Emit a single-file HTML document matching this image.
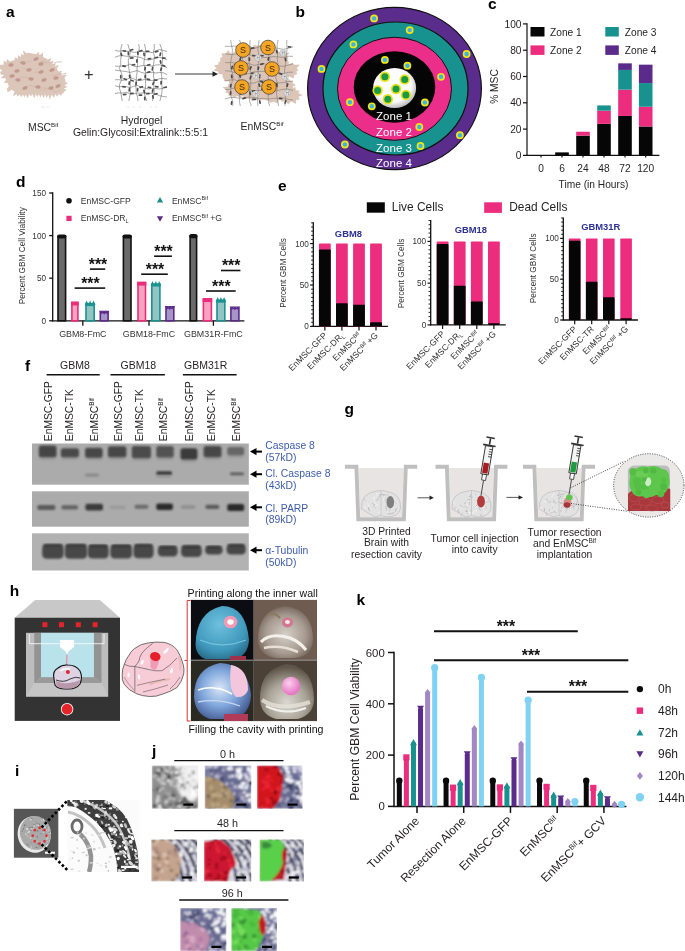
<!DOCTYPE html>
<html><head><meta charset="utf-8"><style>
html,body{margin:0;padding:0;background:#fff;width:685px;height:951px;overflow:hidden}
svg{display:block}
text{font-family:'Liberation Sans', Arial, sans-serif}
</style></head><body>
<svg width="685" height="951" viewBox="0 0 685 951">
<rect width="685" height="951" fill="#fff"/>
<text x="6" y="16.5" font-size="15.5" text-anchor="start" font-weight="bold" fill="#000">a</text>
<polygon points="0.08,64.79 3.46,64.64 3.92,60.59 6.32,62.57 7.02,58.99 9.6,61.57 11.25,61.07 12.89,60.57 14.53,60.07 14.91,57.13 17.8,58.64 17.84,55.26 20.8,56.89 21.06,53.88 23.8,55.14 23,50.32 26.8,53.39 27.88,52.59 29.55,52.92 31.22,53.26 32.88,53.59 34.55,53.92 36.22,54.26 39,51.83 39.49,55.35 42.93,52.44 42.97,56.95 44.71,57.75 46.28,58.43 47.5,59.6 51.31,58.06 49.93,61.93 53.57,60.58 52.37,64.27 56.14,63.18 54.59,66.62 59.13,64.87 56.67,69.07 57.71,70.3 58.76,71.53 62.06,70.84 60.83,73.97 62.01,75.45 66.67,74.15 64.36,78.4 65.41,79.38 65.04,81.26 67.86,83.77 64.29,85.01 67.2,87.12 63.83,88.6 66.73,90.36 63.68,91.85 64.12,92.91 62.34,93.16 60.89,95.7 58.79,93.66 57.42,96.8 55.24,94.16 53.94,97.78 51.69,94.66 49.74,99.64 48.44,94.8 46.63,97.95 45.24,94.6 43.4,98.31 42.04,94.4 40.24,97.41 38.84,94.2 37.05,97.12 35.64,94 34.24,98.41 32.36,94 30.91,96.45 29.16,94.2 27.82,98.45 25.96,94.4 24.54,97.3 22.76,94.6 21.33,97.35 19.56,94.8 16.91,96.81 17.1,93.97 12.94,96.35 14.53,91.82 13.24,90.75 11.96,89.68 7.69,92.19 6.86,88.94 8.85,86.16 8.15,84.56 7.45,82.96 3.77,82.66 6.05,79.76 5.35,78.16 0.72,78.28 3.95,74.96 0.79,74.44 0.06,72.16 2.43,69.95 -2.38,68.34" fill="#dcc5b9"/>
<path d="M20.37 77.42 q4 -0.78 8 0.42" fill="none" stroke="#d2b8ab" stroke-width="0.8"/>
<path d="M40.54 62.1 q4 -2.92 8 1.35" fill="none" stroke="#d2b8ab" stroke-width="0.8"/>
<path d="M21.49 67.5 q4 2.97 8 -0.12" fill="none" stroke="#d2b8ab" stroke-width="0.8"/>
<path d="M51.5 75.24 q4 0.83 8 -1.4" fill="none" stroke="#d2b8ab" stroke-width="0.8"/>
<path d="M41.01 87.78 q4 0.14 8 0.97" fill="none" stroke="#d2b8ab" stroke-width="0.8"/>
<path d="M42.91 62.05 q4 1.55 8 0.36" fill="none" stroke="#d2b8ab" stroke-width="0.8"/>
<path d="M23.67 60.99 q4 2.19 8 -0.11" fill="none" stroke="#d2b8ab" stroke-width="0.8"/>
<path d="M45.38 88.12 q4 1.28 8 1.68" fill="none" stroke="#d2b8ab" stroke-width="0.8"/>
<path d="M28.54 85.63 q4 -0.33 8 1.74" fill="none" stroke="#d2b8ab" stroke-width="0.8"/>
<path d="M53.7 63.12 q4 -2.18 8 -1.13" fill="none" stroke="#d2b8ab" stroke-width="0.8"/>
<path d="M58.2 73.96 q4 0.76 8 -0.8" fill="none" stroke="#d2b8ab" stroke-width="0.8"/>
<path d="M34.38 72.35 q4 -0.89 8 0.34" fill="none" stroke="#d2b8ab" stroke-width="0.8"/>
<path d="M38.38 88.93 q4 1.09 8 1.72" fill="none" stroke="#d2b8ab" stroke-width="0.8"/>
<path d="M52.53 91.71 q4 1.03 8 -1.35" fill="none" stroke="#d2b8ab" stroke-width="0.8"/>
<ellipse cx="11" cy="65" rx="2.7" ry="1.7" fill="#c09a8c" transform="rotate(-5 11 65)"/>
<ellipse cx="23" cy="63" rx="2.7" ry="1.7" fill="#c09a8c" transform="rotate(9 23 63)"/>
<ellipse cx="36" cy="59" rx="2.7" ry="1.7" fill="#c09a8c" transform="rotate(-19 36 59)"/>
<ellipse cx="41" cy="64" rx="2.7" ry="1.7" fill="#c09a8c" transform="rotate(-12 41 64)"/>
<ellipse cx="17" cy="71" rx="2.7" ry="1.7" fill="#c09a8c" transform="rotate(-8 17 71)"/>
<ellipse cx="29" cy="70" rx="2.7" ry="1.7" fill="#c09a8c" transform="rotate(-7 29 70)"/>
<ellipse cx="41" cy="72" rx="2.7" ry="1.7" fill="#c09a8c" transform="rotate(-18 41 72)"/>
<ellipse cx="52" cy="70" rx="2.7" ry="1.7" fill="#c09a8c" transform="rotate(-21 52 70)"/>
<ellipse cx="18" cy="80" rx="2.7" ry="1.7" fill="#c09a8c" transform="rotate(5 18 80)"/>
<ellipse cx="31" cy="79" rx="2.7" ry="1.7" fill="#c09a8c" transform="rotate(5 31 79)"/>
<ellipse cx="44" cy="80" rx="2.7" ry="1.7" fill="#c09a8c" transform="rotate(-20 44 80)"/>
<ellipse cx="56" cy="78" rx="2.7" ry="1.7" fill="#c09a8c" transform="rotate(-3 56 78)"/>
<ellipse cx="25" cy="88" rx="2.7" ry="1.7" fill="#c09a8c" transform="rotate(-21 25 88)"/>
<ellipse cx="38" cy="87" rx="2.7" ry="1.7" fill="#c09a8c" transform="rotate(1 38 87)"/>
<ellipse cx="51" cy="88" rx="2.7" ry="1.7" fill="#c09a8c" transform="rotate(-16 51 88)"/>
<ellipse cx="58" cy="86" rx="2.7" ry="1.7" fill="#c09a8c" transform="rotate(-24 58 86)"/>
<ellipse cx="12" cy="76" rx="2.7" ry="1.7" fill="#c09a8c" transform="rotate(-7 12 76)"/>
<text x="88.7" y="80" font-size="16.5" text-anchor="middle" font-weight="normal" fill="#333">+</text>
<path d="M115 50.21 Q118.71 51.88 122.43 50.89 Q126.14 51.56 129.86 51.33 Q133.57 52.92 137.29 52.11 Q141 50.71 144.71 51.63 Q148.43 51.99 152.14 52.54 Q155.86 50.29 159.57 49.57 Q163.29 50.61 167 51.39" fill="none" stroke="#6a6a6a" stroke-width="0.6"/>
<path d="M115 57.32 Q118.71 55.35 122.43 55.55 Q126.14 56.39 129.86 56.53 Q133.57 55.65 137.29 57.01 Q141 56.79 144.71 59.55 Q148.43 60.52 152.14 59.26 Q155.86 57.42 159.57 57.33 Q163.29 57.75 167 59.87" fill="none" stroke="#6a6a6a" stroke-width="0.6"/>
<path d="M115 66.08 Q118.71 66.57 122.43 65.93 Q126.14 66.41 129.86 64.08 Q133.57 66.6 137.29 66.75 Q141 65.51 144.71 65.48 Q148.43 65.44 152.14 66.23 Q155.86 64.5 159.57 64.78 Q163.29 65.16 167 67.68" fill="none" stroke="#6a6a6a" stroke-width="0.6"/>
<path d="M115 70.06 Q118.71 70.55 122.43 71.16 Q126.14 71.28 129.86 72.5 Q133.57 71.49 137.29 70.59 Q141 72.54 144.71 73.27 Q148.43 71.45 152.14 72.29 Q155.86 73.79 159.57 72.44 Q163.29 72.05 167 74.52" fill="none" stroke="#6a6a6a" stroke-width="0.6"/>
<path d="M115 79.81 Q118.71 79.15 122.43 80.4 Q126.14 80.4 129.86 77.68 Q133.57 78.28 137.29 80.7 Q141 80.83 144.71 79.43 Q148.43 81.23 152.14 80.44 Q155.86 80.87 159.57 78.64 Q163.29 78.37 167 79.03" fill="none" stroke="#6a6a6a" stroke-width="0.6"/>
<path d="M115 85.67 Q118.71 87.44 122.43 86.54 Q126.14 85.89 129.86 87.69 Q133.57 86.13 137.29 85.54 Q141 87.15 144.71 88.09 Q148.43 89.56 152.14 88.52 Q155.86 88.27 159.57 88.99 Q163.29 88.91 167 86.28" fill="none" stroke="#6a6a6a" stroke-width="0.6"/>
<path d="M115 93.64 Q118.71 92.34 122.43 93.06 Q126.14 91.84 129.86 93.32 Q133.57 94.66 137.29 93.07 Q141 93.12 144.71 92.96 Q148.43 92.93 152.14 93.47 Q155.86 93.78 159.57 95.66 Q163.29 96.62 167 97.02" fill="none" stroke="#6a6a6a" stroke-width="0.6"/>
<path d="M122.17 44 Q120.4 48.07 120.84 52.14 Q121.47 56.21 120.72 60.29 Q121.41 64.36 119.4 68.43 Q121.34 72.5 122.5 76.57 Q121.77 80.64 119.32 84.71 Q118.97 88.79 120.98 92.86 Q121.4 96.93 122.22 101" fill="none" stroke="#6a6a6a" stroke-width="0.6"/>
<path d="M127.74 44 Q128.95 48.07 130.24 52.14 Q129.94 56.21 128.26 60.29 Q128.48 64.36 128.83 68.43 Q129.19 72.5 130.8 76.57 Q130.24 80.64 130.27 84.71 Q129.43 88.79 130.71 92.86 Q129.4 96.93 128.83 101" fill="none" stroke="#6a6a6a" stroke-width="0.6"/>
<path d="M138.76 44 Q139.81 48.07 138.66 52.14 Q137.64 56.21 137.46 60.29 Q138.09 64.36 137 68.43 Q137.53 72.5 136.42 76.57 Q136.55 80.64 135.52 84.71 Q136.34 88.79 136.18 92.86 Q137.88 96.93 138.02 101" fill="none" stroke="#6a6a6a" stroke-width="0.6"/>
<path d="M144.51 44 Q145.57 48.07 145.74 52.14 Q145.22 56.21 144.21 60.29 Q143.11 64.36 144.95 68.43 Q145.6 72.5 145.97 76.57 Q145.08 80.64 145.69 84.71 Q145.49 88.79 144.26 92.86 Q145.32 96.93 146.6 101" fill="none" stroke="#6a6a6a" stroke-width="0.6"/>
<path d="M154.14 44 Q154.86 48.07 153.53 52.14 Q154.91 56.21 154.07 60.29 Q153.83 64.36 152.45 68.43 Q154.41 72.5 153.52 76.57 Q155.06 80.64 153.86 84.71 Q154.07 88.79 154.18 92.86 Q153.41 96.93 152.46 101" fill="none" stroke="#6a6a6a" stroke-width="0.6"/>
<path d="M159.8 44 Q161.85 48.07 162.21 52.14 Q162.64 56.21 162.57 60.29 Q162.24 64.36 160.92 68.43 Q161.07 72.5 161.69 76.57 Q162.11 80.64 161.79 84.71 Q162.63 88.79 161.83 92.86 Q161.23 96.93 159.82 101" fill="none" stroke="#6a6a6a" stroke-width="0.6"/>
<rect x="122.38" y="50.09" width="4" height="1.7" rx="0.8" fill="#4f4f4f" transform="rotate(8.82 124.38 50.94)"/>
<rect x="119.37" y="53.55" width="4" height="1.7" rx="0.8" fill="#4f4f4f" transform="rotate(71.1 121.37 54.4)"/>
<rect x="129.61" y="49.06" width="4" height="1.7" rx="0.8" fill="#4f4f4f" transform="rotate(-18.33 131.61 49.91)"/>
<rect x="126.36" y="52.68" width="4" height="1.7" rx="0.8" fill="#4f4f4f" transform="rotate(88.86 128.36 53.53)"/>
<rect x="138.72" y="49.97" width="4" height="1.7" rx="0.8" fill="#4f4f4f" transform="rotate(-18.57 140.72 50.82)"/>
<rect x="135.81" y="52.29" width="4" height="1.7" rx="0.8" fill="#4f4f4f" transform="rotate(88.61 137.81 53.14)"/>
<rect x="145.73" y="50.46" width="4" height="1.7" rx="0.8" fill="#4f4f4f" transform="rotate(-3.78 147.73 51.31)"/>
<rect x="142.07" y="53.52" width="4" height="1.7" rx="0.8" fill="#4f4f4f" transform="rotate(81.14 144.07 54.37)"/>
<rect x="154.66" y="50.71" width="4" height="1.7" rx="0.8" fill="#4f4f4f" transform="rotate(-16.21 156.66 51.56)"/>
<rect x="158.28" y="53.48" width="4" height="1.7" rx="0.8" fill="#4f4f4f" transform="rotate(102.52 160.28 54.33)"/>
<rect x="129.72" y="57.21" width="4" height="1.7" rx="0.8" fill="#4f4f4f" transform="rotate(-5.96 131.72 58.06)"/>
<rect x="134.86" y="60.03" width="4" height="1.7" rx="0.8" fill="#4f4f4f" transform="rotate(95.18 136.86 60.88)"/>
<rect x="147.42" y="57.91" width="4" height="1.7" rx="0.8" fill="#4f4f4f" transform="rotate(-8.34 149.42 58.76)"/>
<rect x="154.33" y="56.72" width="4" height="1.7" rx="0.8" fill="#4f4f4f" transform="rotate(-9.61 156.33 57.57)"/>
<rect x="161.74" y="57.32" width="4" height="1.7" rx="0.8" fill="#4f4f4f" transform="rotate(-0.33 163.74 58.17)"/>
<rect x="158.59" y="61.14" width="4" height="1.7" rx="0.8" fill="#4f4f4f" transform="rotate(81.46 160.59 61.99)"/>
<rect x="122.05" y="65.23" width="4" height="1.7" rx="0.8" fill="#4f4f4f" transform="rotate(13.07 124.05 66.08)"/>
<rect x="131.48" y="63.95" width="4" height="1.7" rx="0.8" fill="#4f4f4f" transform="rotate(-10.17 133.48 64.8)"/>
<rect x="146.57" y="64.04" width="4" height="1.7" rx="0.8" fill="#4f4f4f" transform="rotate(-15.27 148.57 64.89)"/>
<rect x="143.06" y="67.79" width="4" height="1.7" rx="0.8" fill="#4f4f4f" transform="rotate(100.42 145.06 68.64)"/>
<rect x="150.5" y="67.78" width="4" height="1.7" rx="0.8" fill="#4f4f4f" transform="rotate(99.8 152.5 68.63)"/>
<rect x="161.53" y="64.92" width="4" height="1.7" rx="0.8" fill="#4f4f4f" transform="rotate(16.66 163.53 65.77)"/>
<rect x="159.15" y="68.28" width="4" height="1.7" rx="0.8" fill="#4f4f4f" transform="rotate(105.52 161.15 69.13)"/>
<rect x="118.78" y="75.85" width="4" height="1.7" rx="0.8" fill="#4f4f4f" transform="rotate(89.28 120.78 76.7)"/>
<rect x="127.67" y="75.54" width="4" height="1.7" rx="0.8" fill="#4f4f4f" transform="rotate(81.86 129.67 76.39)"/>
<rect x="146.5" y="71.31" width="4" height="1.7" rx="0.8" fill="#4f4f4f" transform="rotate(-14.29 148.5 72.16)"/>
<rect x="143.17" y="75.77" width="4" height="1.7" rx="0.8" fill="#4f4f4f" transform="rotate(89.14 145.17 76.62)"/>
<rect x="123.18" y="78.37" width="4" height="1.7" rx="0.8" fill="#4f4f4f" transform="rotate(19.93 125.18 79.22)"/>
<rect x="130.08" y="79.77" width="4" height="1.7" rx="0.8" fill="#4f4f4f" transform="rotate(18.09 132.08 80.62)"/>
<rect x="127.22" y="82.26" width="4" height="1.7" rx="0.8" fill="#4f4f4f" transform="rotate(98.5 129.22 83.11)"/>
<rect x="137.72" y="78.69" width="4" height="1.7" rx="0.8" fill="#4f4f4f" transform="rotate(-13.55 139.72 79.54)"/>
<rect x="134.12" y="82.59" width="4" height="1.7" rx="0.8" fill="#4f4f4f" transform="rotate(94.9 136.12 83.44)"/>
<rect x="146.36" y="78.56" width="4" height="1.7" rx="0.8" fill="#4f4f4f" transform="rotate(9.69 148.36 79.41)"/>
<rect x="153.61" y="79.33" width="4" height="1.7" rx="0.8" fill="#4f4f4f" transform="rotate(-0.42 155.61 80.18)"/>
<rect x="151.26" y="82.45" width="4" height="1.7" rx="0.8" fill="#4f4f4f" transform="rotate(107.54 153.26 83.3)"/>
<rect x="159.1" y="81.94" width="4" height="1.7" rx="0.8" fill="#4f4f4f" transform="rotate(92.2 161.1 82.79)"/>
<rect x="121.97" y="85.96" width="4" height="1.7" rx="0.8" fill="#4f4f4f" transform="rotate(10.02 123.97 86.81)"/>
<rect x="127.34" y="88.9" width="4" height="1.7" rx="0.8" fill="#4f4f4f" transform="rotate(98.53 129.34 89.75)"/>
<rect x="139.25" y="86.18" width="4" height="1.7" rx="0.8" fill="#4f4f4f" transform="rotate(-15.01 141.25 87.03)"/>
<rect x="135.59" y="88.78" width="4" height="1.7" rx="0.8" fill="#4f4f4f" transform="rotate(93.76 137.59 89.63)"/>
<rect x="147.4" y="86.58" width="4" height="1.7" rx="0.8" fill="#4f4f4f" transform="rotate(9 149.4 87.43)"/>
<rect x="142.23" y="90.67" width="4" height="1.7" rx="0.8" fill="#4f4f4f" transform="rotate(72.15 144.23 91.52)"/>
<rect x="154.75" y="85.93" width="4" height="1.7" rx="0.8" fill="#4f4f4f" transform="rotate(6.6 156.75 86.78)"/>
<rect x="150.67" y="89.95" width="4" height="1.7" rx="0.8" fill="#4f4f4f" transform="rotate(102.82 152.67 90.8)"/>
<rect x="163.16" y="86.52" width="4" height="1.7" rx="0.8" fill="#4f4f4f" transform="rotate(-6.05 165.16 87.37)"/>
<rect x="122.69" y="93.65" width="4" height="1.7" rx="0.8" fill="#4f4f4f" transform="rotate(-2.66 124.69 94.5)"/>
<rect x="129.9" y="92.59" width="4" height="1.7" rx="0.8" fill="#4f4f4f" transform="rotate(-4.18 131.9 93.44)"/>
<rect x="138.44" y="94.29" width="4" height="1.7" rx="0.8" fill="#4f4f4f" transform="rotate(-0.76 140.44 95.14)"/>
<rect x="145.81" y="92.83" width="4" height="1.7" rx="0.8" fill="#4f4f4f" transform="rotate(-2.85 147.81 93.68)"/>
<rect x="142.77" y="97.77" width="4" height="1.7" rx="0.8" fill="#4f4f4f" transform="rotate(88.62 144.77 98.62)"/>
<rect x="153.82" y="93.08" width="4" height="1.7" rx="0.8" fill="#4f4f4f" transform="rotate(-13.92 155.82 93.93)"/>
<rect x="150.96" y="96.07" width="4" height="1.7" rx="0.8" fill="#4f4f4f" transform="rotate(80.16 152.96 96.92)"/>
<circle cx="42" cy="107" r="0.4" fill="#999"/>
<circle cx="44" cy="107" r="0.4" fill="#999"/>
<circle cx="48" cy="107" r="0.4" fill="#999"/>
<circle cx="128" cy="107" r="0.4" fill="#999"/>
<circle cx="134" cy="107" r="0.4" fill="#999"/>
<circle cx="140" cy="107" r="0.4" fill="#999"/>
<circle cx="151" cy="107" r="0.4" fill="#999"/>
<circle cx="156" cy="107" r="0.4" fill="#999"/>
<line x1="175" y1="74" x2="214" y2="74" stroke="#222" stroke-width="0.9"/>
<polygon points="218,74 212.5,71.3 212.5,76.7" fill="#222"/>
<ellipse cx="258" cy="74" rx="30" ry="26" fill="#dcc4b7"/>
<polygon points="242.04,60 238.87,61.82 241.91,65.36 236.14,64.96 235.1,67.82 231.31,66.38 228.46,67.5 226.13,65.93 221.6,66.79 222.49,63.38 220,62.06 220.41,60 220.01,57.95 222.51,56.63 221.41,53.06 225.87,53.67 227.95,50.01 231.24,53.97 235.38,51.76 236,55.15 239.01,55.95 239.58,58.03" fill="#dcc4b7"/>
<polygon points="257.38,55 254.52,56.96 254.13,59.11 251.33,60.12 249.21,61.45 246.33,61.49 243.29,63.3 241.32,60.64 236.92,61.53 237.31,58.46 233.25,57.42 235.89,55 233.43,52.62 236.9,51.36 235.51,47.33 241.4,49.49 243.04,45.45 246.29,48.73 249.74,47.73 251.35,49.87 254.51,50.72 254.5,53.05" fill="#dcc4b7"/>
<polygon points="275.45,52 271.08,53.87 273.62,57.23 268.21,57.01 267.95,61.11 263.26,58.14 260.58,58.93 257.96,58.19 252.77,59.46 254.12,55.54 248.17,54.84 252.54,52 252.09,49.96 254.3,48.54 253.16,44.86 258,45.86 260.52,44.8 263.36,45.38 267.96,42.87 267.88,47.25 270.86,48.01 271.28,50.09" fill="#dcc4b7"/>
<polygon points="288.45,58 287.52,59.96 289.43,63.14 284.39,63.16 283.2,65.97 279.34,64.51 276.45,65.52 274.26,63.74 271.07,63.6 270.32,61.46 267.9,60.08 268.57,58 267.49,55.84 269.89,54.35 268.59,50.4 274.3,52.32 276.38,50.12 279.25,51.9 282.55,51.03 284.2,52.99 289.65,52.76 286.76,56.2" fill="#dcc4b7"/>
<polygon points="298.45,70 296.31,71.71 297.22,74.15 294.32,75.11 293.6,78.58 289.36,76.62 286.39,77.85 283.89,76.3 281.19,75.5 280.25,73.49 277.36,72.19 278.81,70 276.8,67.7 280.1,66.45 278.62,62.43 284.12,64.05 286.21,61.28 289.26,63.88 292.5,63.11 294.41,64.82 299.85,64.67 296.54,68.25" fill="#dcc4b7"/>
<polygon points="243.12,75 241.35,76.92 243.21,80.04 237.72,79.62 236.52,81.93 233.24,81.04 230.01,84.68 228.18,80.85 224.21,81.29 223.71,78.73 222.24,77.01 223.3,75 221.38,72.82 224.39,71.58 224.69,69.1 228.31,69.34 230.19,66.21 233.37,68.35 236.48,68.13 237.91,70.22 240.67,71.1 241.3,73.09" fill="#dcc4b7"/>
<polygon points="262.52,72 258.49,73.75 260.74,76.83 256.3,77.09 255.87,81 251.38,78.74 248.57,78.98 246,78.14 242.14,78.35 241.66,75.75 239.64,74.13 240.5,72 237.93,69.52 241.74,68.28 242.38,65.85 246.35,66.4 247.95,62.01 251.3,65.69 255.45,63.65 256.03,67.13 258.94,67.98 259.55,70.04" fill="#dcc4b7"/>
<polygon points="278.08,75 276.42,76.73 279.07,79.98 273.7,79.6 272.19,81.43 269.3,81.33 266.27,83.43 264.26,80.74 260.51,81.05 260.72,78.27 258.08,77.04 258.74,75 255.22,72.37 260.61,71.68 259.28,67.96 264.24,69.24 266.07,65.6 269.25,68.93 272.81,67.62 273.94,70.2 279.82,69.68 276.47,73.26" fill="#dcc4b7"/>
<polygon points="295.88,85 292.57,86.76 295.68,90.25 290.04,89.88 289.32,93.16 285.35,91.57 282.2,93.75 280.19,90.84 277.22,90.48 276.31,88.46 270.12,87.85 275.19,85 271.26,82.38 276.03,81.41 275.29,77.96 280.17,79.13 282.29,76.7 285.26,78.86 288.31,78.39 289.89,80.25 292.53,81.16 292.82,83.19" fill="#dcc4b7"/>
<polygon points="248.16,90 245.3,91.91 247.06,94.97 242.11,94.94 241.3,98.13 237.25,96.07 234.41,97.73 231.85,96.36 228.56,96.01 228.36,93.44 225.53,92.15 226.23,90 222.49,87.22 228.34,86.55 228.15,83.66 232.35,84.4 234.37,82.05 237.3,83.69 240.53,83.06 242.17,85.02 247.46,84.84 244.41,88.27" fill="#dcc4b7"/>
<polygon points="267.96,92 263.1,93.87 264.62,96.78 260.27,97.06 258.41,98.76 255.33,98.46 252.04,101.54 250.32,97.64 245.36,98.98 246.67,95.3 243.21,94.22 244.23,92 242.46,89.63 245.9,88.36 246.82,86.2 250.08,85.99 252.18,83.12 255.33,85.53 258.74,84.73 259.81,87.31 266.13,86.54 263.01,90.15" fill="#dcc4b7"/>
<polygon points="282.34,95 281.55,96.96 283.72,100.27 278.51,100.26 277.48,103.4 273.31,101.4 270.38,102.89 268.29,100.69 265.4,100.34 263.74,98.72 260.44,97.38 262.03,95 258.82,92.29 263.86,91.34 265.04,89.37 267.87,88.67 270.17,86.11 273.34,88.49 277.33,86.83 277.97,90.18 283.47,89.84 280.35,93.28" fill="#dcc4b7"/>
<polygon points="239.08,68 235.34,69.92 236.21,72.59 232.39,73.16 230.17,74.4 227.33,74.49 224.12,77.16 221.95,74.21 218.65,73.94 217.98,71.61 213.39,70.59 216.7,68 213.75,65.48 218.45,64.6 218.29,61.77 222.29,62.31 224,58.25 227.41,61.15 231.9,58.96 231.91,63.23 234.9,63.99 235.01,66.15" fill="#dcc4b7"/>
<polygon points="302.81,95 298.42,96.73 299.84,99.43 296.05,99.88 295.8,103.89 291.27,101.18 287.97,104.87 286.11,100.97 281.53,101.84 281.82,98.68 277.29,97.61 281.1,95 277.63,92.46 282.4,91.58 282.82,89.2 286.35,89.41 287.95,85.01 291.24,88.99 295.16,87.09 295.85,90.27 299.63,90.67 298.42,93.27" fill="#dcc4b7"/>
<path d="M225 46.28 Q229.86 46.4 234.71 46.2 Q239.57 46.26 244.43 45.61 Q249.29 45.67 254.14 48.48 Q259 46.69 263.86 45.63 Q268.71 47.26 273.57 47.67 Q278.43 48.36 283.29 49.34 Q288.14 48.67 293 46.65" fill="none" stroke="#7a7a7a" stroke-width="0.6"/>
<path d="M225 53.75 Q229.86 54.76 234.71 54.29 Q239.57 52.99 244.43 54.08 Q249.29 54.29 254.14 55.75 Q259 57.15 263.86 57.51 Q268.71 57.71 273.57 56.56 Q278.43 56.78 283.29 57.47 Q288.14 55.65 293 56.31" fill="none" stroke="#7a7a7a" stroke-width="0.6"/>
<path d="M225 62.71 Q229.86 62.37 234.71 62.76 Q239.57 62.99 244.43 63.27 Q249.29 62.91 254.14 65.42 Q259 64.22 263.86 63.47 Q268.71 66.05 273.57 66.19 Q278.43 65.14 283.29 66.42 Q288.14 65.35 293 63.7" fill="none" stroke="#7a7a7a" stroke-width="0.6"/>
<path d="M225 70.76 Q229.86 70.46 234.71 72.66 Q239.57 73.34 244.43 74.05 Q249.29 74.19 254.14 71.81 Q259 71.34 263.86 71.35 Q268.71 71.31 273.57 71.88 Q278.43 73.24 283.29 73.77 Q288.14 71.73 293 72.14" fill="none" stroke="#7a7a7a" stroke-width="0.6"/>
<path d="M225 80.98 Q229.86 79.68 234.71 79.77 Q239.57 82.16 244.43 81.59 Q249.29 83.84 254.14 83.1 Q259 80.46 263.86 80.09 Q268.71 81.73 273.57 82.14 Q278.43 83.71 283.29 82.58 Q288.14 81.09 293 81.18" fill="none" stroke="#7a7a7a" stroke-width="0.6"/>
<path d="M225 89.67 Q229.86 89.86 234.71 87.87 Q239.57 88.83 244.43 89.29 Q249.29 89.82 254.14 90.64 Q259 90.33 263.86 90.59 Q268.71 92.51 273.57 91.51 Q278.43 90.62 283.29 89.28 Q288.14 88.43 293 90.47" fill="none" stroke="#7a7a7a" stroke-width="0.6"/>
<path d="M225 98.92 Q229.86 97 234.71 97.47 Q239.57 98.64 244.43 98.1 Q249.29 96.41 254.14 97.56 Q259 98.94 263.86 98.64 Q268.71 99.47 273.57 98.46 Q278.43 98.15 283.29 97.86 Q288.14 99.59 293 100.06" fill="none" stroke="#7a7a7a" stroke-width="0.6"/>
<path d="M230.67 40 Q231.15 44.71 232.43 49.43 Q232.37 54.14 231.3 58.86 Q229.97 63.57 230.6 68.29 Q232.95 73 233.24 77.71 Q231.51 82.43 231.21 87.14 Q229.82 91.86 231.11 96.57 Q233.42 101.29 232.87 106" fill="none" stroke="#7a7a7a" stroke-width="0.6"/>
<path d="M239.54 40 Q241.26 44.71 242.32 49.43 Q243.79 54.14 242.46 58.86 Q241.34 63.57 241.1 68.29 Q238.95 73 238.96 77.71 Q239.23 82.43 239.13 87.14 Q238.31 91.86 239.67 96.57 Q238.75 101.29 240.31 106" fill="none" stroke="#7a7a7a" stroke-width="0.6"/>
<path d="M250.06 40 Q249.32 44.71 250.56 49.43 Q250.07 54.14 248.29 58.86 Q249.8 63.57 249.68 68.29 Q251.28 73 250.59 77.71 Q250.68 82.43 250.81 87.14 Q248.92 91.86 249.44 96.57 Q248.99 101.29 251.25 106" fill="none" stroke="#7a7a7a" stroke-width="0.6"/>
<path d="M259.1 40 Q258.33 44.71 257.82 49.43 Q258.82 54.14 259.47 58.86 Q258.15 63.57 257.5 68.29 Q257.78 73 260.01 77.71 Q258.95 82.43 258 87.14 Q258.96 91.86 257.25 96.57 Q257.65 101.29 257.83 106" fill="none" stroke="#7a7a7a" stroke-width="0.6"/>
<path d="M269.73 40 Q266.79 44.71 266.45 49.43 Q268.61 54.14 269.92 58.86 Q269.86 63.57 269.54 68.29 Q268.32 73 268.3 77.71 Q268.94 82.43 268.23 87.14 Q268.91 91.86 268.28 96.57 Q267.76 101.29 269.62 106" fill="none" stroke="#7a7a7a" stroke-width="0.6"/>
<path d="M278 40 Q276.75 44.71 277.12 49.43 Q278.15 54.14 277.25 58.86 Q278.2 63.57 277.78 68.29 Q277.1 73 275.68 77.71 Q277.79 82.43 277.66 87.14 Q275.85 91.86 276.83 96.57 Q278.03 101.29 278.65 106" fill="none" stroke="#7a7a7a" stroke-width="0.6"/>
<path d="M286.84 40 Q286.52 44.71 287.07 49.43 Q286.49 54.14 286.09 58.86 Q285.59 63.57 284.88 68.29 Q283.67 73 285.31 77.71 Q286.89 82.43 286.82 87.14 Q285.55 91.86 285.28 96.57 Q285.92 101.29 284.86 106" fill="none" stroke="#7a7a7a" stroke-width="0.6"/>
<rect x="241.91" y="45.9" width="4" height="1.7" rx="0.8" fill="#4a4a4a" transform="rotate(19.45 243.91 46.75)"/>
<rect x="250.6" y="47.31" width="4" height="1.7" rx="0.8" fill="#4a4a4a" transform="rotate(-12.31 252.6 48.16)"/>
<rect x="269.16" y="46.47" width="4" height="1.7" rx="0.8" fill="#4a4a4a" transform="rotate(-5.22 271.16 47.32)"/>
<rect x="266.02" y="50.82" width="4" height="1.7" rx="0.8" fill="#4a4a4a" transform="rotate(95.39 268.02 51.67)"/>
<rect x="274.79" y="50.64" width="4" height="1.7" rx="0.8" fill="#4a4a4a" transform="rotate(74.13 276.79 51.49)"/>
<rect x="287.48" y="46.04" width="4" height="1.7" rx="0.8" fill="#4a4a4a" transform="rotate(4.21 289.48 46.89)"/>
<rect x="238.35" y="58" width="4" height="1.7" rx="0.8" fill="#4a4a4a" transform="rotate(106.8 240.35 58.85)"/>
<rect x="252.03" y="54.81" width="4" height="1.7" rx="0.8" fill="#4a4a4a" transform="rotate(4.17 254.03 55.66)"/>
<rect x="247.41" y="58.43" width="4" height="1.7" rx="0.8" fill="#4a4a4a" transform="rotate(89.67 249.41 59.28)"/>
<rect x="259.87" y="54.81" width="4" height="1.7" rx="0.8" fill="#4a4a4a" transform="rotate(4.42 261.87 55.66)"/>
<rect x="256.34" y="58.59" width="4" height="1.7" rx="0.8" fill="#4a4a4a" transform="rotate(92.74 258.34 59.44)"/>
<rect x="266.39" y="58.18" width="4" height="1.7" rx="0.8" fill="#4a4a4a" transform="rotate(98.46 268.39 59.03)"/>
<rect x="283.47" y="58.61" width="4" height="1.7" rx="0.8" fill="#4a4a4a" transform="rotate(78.45 285.47 59.46)"/>
<rect x="233.74" y="63.61" width="4" height="1.7" rx="0.8" fill="#4a4a4a" transform="rotate(-1.18 235.74 64.46)"/>
<rect x="230.01" y="66.65" width="4" height="1.7" rx="0.8" fill="#4a4a4a" transform="rotate(104.68 232.01 67.5)"/>
<rect x="243.06" y="62.66" width="4" height="1.7" rx="0.8" fill="#4a4a4a" transform="rotate(1.34 245.06 63.51)"/>
<rect x="238.04" y="66.27" width="4" height="1.7" rx="0.8" fill="#4a4a4a" transform="rotate(72.86 240.04 67.12)"/>
<rect x="248.63" y="67.09" width="4" height="1.7" rx="0.8" fill="#4a4a4a" transform="rotate(109.81 250.63 67.94)"/>
<rect x="260.04" y="63.22" width="4" height="1.7" rx="0.8" fill="#4a4a4a" transform="rotate(-14.61 262.04 64.07)"/>
<rect x="256.36" y="67.3" width="4" height="1.7" rx="0.8" fill="#4a4a4a" transform="rotate(97.61 258.36 68.15)"/>
<rect x="270.01" y="62.62" width="4" height="1.7" rx="0.8" fill="#4a4a4a" transform="rotate(14.74 272.01 63.47)"/>
<rect x="229.77" y="75.74" width="4" height="1.7" rx="0.8" fill="#4a4a4a" transform="rotate(83.24 231.77 76.59)"/>
<rect x="242.77" y="72.49" width="4" height="1.7" rx="0.8" fill="#4a4a4a" transform="rotate(17.15 244.77 73.34)"/>
<rect x="237.98" y="75.07" width="4" height="1.7" rx="0.8" fill="#4a4a4a" transform="rotate(71.05 239.98 75.92)"/>
<rect x="250.76" y="72.52" width="4" height="1.7" rx="0.8" fill="#4a4a4a" transform="rotate(1.73 252.76 73.37)"/>
<rect x="248.55" y="76.65" width="4" height="1.7" rx="0.8" fill="#4a4a4a" transform="rotate(106.09 250.55 77.5)"/>
<rect x="257.62" y="75.45" width="4" height="1.7" rx="0.8" fill="#4a4a4a" transform="rotate(98.63 259.62 76.3)"/>
<rect x="278.49" y="72.93" width="4" height="1.7" rx="0.8" fill="#4a4a4a" transform="rotate(16.72 280.49 73.78)"/>
<rect x="228.68" y="84.93" width="4" height="1.7" rx="0.8" fill="#4a4a4a" transform="rotate(96.82 230.68 85.78)"/>
<rect x="237.97" y="83.82" width="4" height="1.7" rx="0.8" fill="#4a4a4a" transform="rotate(78.01 239.97 84.67)"/>
<rect x="259.79" y="80.87" width="4" height="1.7" rx="0.8" fill="#4a4a4a" transform="rotate(18.58 261.79 81.72)"/>
<rect x="257.33" y="84.27" width="4" height="1.7" rx="0.8" fill="#4a4a4a" transform="rotate(71.68 259.33 85.12)"/>
<rect x="274.86" y="84.19" width="4" height="1.7" rx="0.8" fill="#4a4a4a" transform="rotate(85.17 276.86 85.04)"/>
<rect x="285.36" y="84.26" width="4" height="1.7" rx="0.8" fill="#4a4a4a" transform="rotate(103.93 287.36 85.11)"/>
<rect x="228.6" y="92.19" width="4" height="1.7" rx="0.8" fill="#4a4a4a" transform="rotate(94.51 230.6 93.04)"/>
<rect x="242.92" y="88.71" width="4" height="1.7" rx="0.8" fill="#4a4a4a" transform="rotate(-17.65 244.92 89.56)"/>
<rect x="238.64" y="92.04" width="4" height="1.7" rx="0.8" fill="#4a4a4a" transform="rotate(91.14 240.64 92.89)"/>
<rect x="251.63" y="90.17" width="4" height="1.7" rx="0.8" fill="#4a4a4a" transform="rotate(-7.58 253.63 91.02)"/>
<rect x="248.13" y="92.44" width="4" height="1.7" rx="0.8" fill="#4a4a4a" transform="rotate(79.02 250.13 93.29)"/>
<rect x="260.98" y="88.71" width="4" height="1.7" rx="0.8" fill="#4a4a4a" transform="rotate(16.6 262.98 89.56)"/>
<rect x="256.04" y="93.47" width="4" height="1.7" rx="0.8" fill="#4a4a4a" transform="rotate(92.12 258.04 94.32)"/>
<rect x="229.6" y="102.15" width="4" height="1.7" rx="0.8" fill="#4a4a4a" transform="rotate(96.5 231.6 103)"/>
<rect x="242.13" y="97.44" width="4" height="1.7" rx="0.8" fill="#4a4a4a" transform="rotate(-18.64 244.13 98.29)"/>
<rect x="252.12" y="98.51" width="4" height="1.7" rx="0.8" fill="#4a4a4a" transform="rotate(1.31 254.12 99.36)"/>
<rect x="257.91" y="101.18" width="4" height="1.7" rx="0.8" fill="#4a4a4a" transform="rotate(80.38 259.91 102.03)"/>
<rect x="278.66" y="97.64" width="4" height="1.7" rx="0.8" fill="#4a4a4a" transform="rotate(5.78 280.66 98.49)"/>
<rect x="283.49" y="100.95" width="4" height="1.7" rx="0.8" fill="#4a4a4a" transform="rotate(108.27 285.49 101.8)"/>
<circle cx="258" cy="58" r="3.2" fill="#e6e6e6" stroke="#9a9a9a" stroke-width="0.5"/>
<text x="258" y="59.8" font-size="4.5" text-anchor="middle" font-weight="normal" fill="#777">H</text>
<circle cx="283" cy="53" r="3.2" fill="#e6e6e6" stroke="#9a9a9a" stroke-width="0.5"/>
<text x="283" y="54.8" font-size="4.5" text-anchor="middle" font-weight="normal" fill="#777">H</text>
<circle cx="256" cy="76" r="3.2" fill="#e6e6e6" stroke="#9a9a9a" stroke-width="0.5"/>
<text x="256" y="77.8" font-size="4.5" text-anchor="middle" font-weight="normal" fill="#777">H</text>
<circle cx="285" cy="77" r="3.2" fill="#e6e6e6" stroke="#9a9a9a" stroke-width="0.5"/>
<text x="285" y="78.8" font-size="4.5" text-anchor="middle" font-weight="normal" fill="#777">H</text>
<circle cx="256" cy="94" r="3.2" fill="#e6e6e6" stroke="#9a9a9a" stroke-width="0.5"/>
<text x="256" y="95.8" font-size="4.5" text-anchor="middle" font-weight="normal" fill="#777">H</text>
<circle cx="287" cy="93" r="3.2" fill="#e6e6e6" stroke="#9a9a9a" stroke-width="0.5"/>
<text x="287" y="94.8" font-size="4.5" text-anchor="middle" font-weight="normal" fill="#777">H</text>
<circle cx="243" cy="50" r="7.3" fill="#f5a524" stroke="#3a3a3a" stroke-width="0.7"/>
<text x="243" y="53.2" font-size="9" text-anchor="middle" font-weight="normal" fill="#3a2a10">S</text>
<circle cx="268" cy="47.5" r="7.3" fill="#f5a524" stroke="#3a3a3a" stroke-width="0.7"/>
<text x="268" y="50.7" font-size="9" text-anchor="middle" font-weight="normal" fill="#3a2a10">S</text>
<circle cx="241" cy="68" r="7.3" fill="#f5a524" stroke="#3a3a3a" stroke-width="0.7"/>
<text x="241" y="71.2" font-size="9" text-anchor="middle" font-weight="normal" fill="#3a2a10">S</text>
<circle cx="272" cy="69" r="7.3" fill="#f5a524" stroke="#3a3a3a" stroke-width="0.7"/>
<text x="272" y="72.2" font-size="9" text-anchor="middle" font-weight="normal" fill="#3a2a10">S</text>
<circle cx="242" cy="87" r="7.3" fill="#f5a524" stroke="#3a3a3a" stroke-width="0.7"/>
<text x="242" y="90.2" font-size="9" text-anchor="middle" font-weight="normal" fill="#3a2a10">S</text>
<circle cx="269" cy="87" r="7.3" fill="#f5a524" stroke="#3a3a3a" stroke-width="0.7"/>
<text x="269" y="90.2" font-size="9" text-anchor="middle" font-weight="normal" fill="#3a2a10">S</text>
<text x="28" y="131" font-size="10.4" text-anchor="start" font-weight="normal" fill="#231f20">MSC<tspan dy="-4" font-size="6.2">Bif</tspan></text>
<text x="141.5" y="124" font-size="10.4" text-anchor="middle" font-weight="normal" fill="#231f20">Hydrogel</text>
<text x="140.5" y="135.5" font-size="10.4" text-anchor="middle" font-weight="normal" fill="#231f20">Gelin:Glycosil:Extralink::5:5:1</text>
<text x="262" y="130" font-size="10.4" text-anchor="middle" font-weight="normal" fill="#231f20">EnMSC<tspan dy="-4" font-size="6.2">Bif</tspan></text>
<text x="295.5" y="16.5" font-size="15.5" text-anchor="start" font-weight="bold" fill="#000">b</text>
<defs><radialGradient id="wsph" cx="0.45" cy="0.42" r="0.6"><stop offset="0" stop-color="#ffffff"/><stop offset="0.72" stop-color="#fafafa"/><stop offset="1" stop-color="#b5b5b5"/></radialGradient><radialGradient id="blk" cx="0.5" cy="0.5" r="0.5"><stop offset="0.6" stop-color="#000"/><stop offset="1" stop-color="#111"/></radialGradient></defs>
<ellipse cx="394.5" cy="88.5" rx="86.9" ry="81.2" fill="#5a2d8d" stroke="#111" stroke-width="1.2"/>
<ellipse cx="395.5" cy="88.5" rx="72.5" ry="66.5" fill="#17928f" stroke="#111" stroke-width="1.2"/>
<ellipse cx="394.5" cy="88.8" rx="57" ry="51.5" fill="#ec2e8b" stroke="#111" stroke-width="1"/>
<ellipse cx="394.5" cy="87" rx="40.8" ry="35.8" fill="#050505"/>
<ellipse cx="394.6" cy="88" rx="21.5" ry="20" fill="url(#wsph)"/>
<circle cx="374.1" cy="18.4" r="3.9" fill="#f0e614"/>
<circle cx="374.1" cy="18.4" r="2.2" fill="#3cb3e3"/>
<circle cx="409.7" cy="30.1" r="3.9" fill="#f0e614"/>
<circle cx="409.7" cy="30.1" r="2.2" fill="#3cb3e3"/>
<circle cx="353.4" cy="44.4" r="3.9" fill="#f0e614"/>
<circle cx="353.4" cy="44.4" r="2.2" fill="#3cb3e3"/>
<circle cx="466.6" cy="54" r="3.9" fill="#f0e614"/>
<circle cx="466.6" cy="54" r="2.2" fill="#3cb3e3"/>
<circle cx="321.5" cy="68.9" r="3.9" fill="#f0e614"/>
<circle cx="321.5" cy="68.9" r="2.2" fill="#3cb3e3"/>
<circle cx="384.9" cy="59.9" r="3.9" fill="#f0e614"/>
<circle cx="384.9" cy="59.9" r="2.2" fill="#3cb3e3"/>
<circle cx="407.4" cy="65.7" r="3.9" fill="#f0e614"/>
<circle cx="407.4" cy="65.7" r="2.2" fill="#3cb3e3"/>
<circle cx="441" cy="76.8" r="3.9" fill="#f0e614"/>
<circle cx="441" cy="76.8" r="2.2" fill="#3cb3e3"/>
<circle cx="349.9" cy="102.2" r="3.9" fill="#f0e614"/>
<circle cx="349.9" cy="102.2" r="2.2" fill="#3cb3e3"/>
<circle cx="371.8" cy="106.3" r="3.9" fill="#f0e614"/>
<circle cx="371.8" cy="106.3" r="2.2" fill="#3cb3e3"/>
<circle cx="424.9" cy="102.5" r="3.9" fill="#f0e614"/>
<circle cx="424.9" cy="102.5" r="2.2" fill="#3cb3e3"/>
<circle cx="419.3" cy="127" r="3.9" fill="#f0e614"/>
<circle cx="419.3" cy="127" r="2.2" fill="#3cb3e3"/>
<circle cx="459.9" cy="135.2" r="3.9" fill="#f0e614"/>
<circle cx="459.9" cy="135.2" r="2.2" fill="#3cb3e3"/>
<circle cx="344.9" cy="144.5" r="3.9" fill="#f0e614"/>
<circle cx="344.9" cy="144.5" r="2.2" fill="#3cb3e3"/>
<circle cx="420.5" cy="146" r="3.9" fill="#f0e614"/>
<circle cx="420.5" cy="146" r="2.2" fill="#3cb3e3"/>
<circle cx="384.9" cy="76.8" r="5.2" fill="#e9e21a"/>
<circle cx="384.9" cy="76.8" r="3.5" fill="#1a9a45"/>
<circle cx="404.7" cy="79.4" r="5.2" fill="#e9e21a"/>
<circle cx="404.7" cy="79.4" r="3.5" fill="#1a9a45"/>
<circle cx="396" cy="89" r="5.2" fill="#e9e21a"/>
<circle cx="396" cy="89" r="3.5" fill="#1a9a45"/>
<circle cx="377.6" cy="90.5" r="5.2" fill="#e9e21a"/>
<circle cx="377.6" cy="90.5" r="3.5" fill="#1a9a45"/>
<circle cx="405.9" cy="94.9" r="5.2" fill="#e9e21a"/>
<circle cx="405.9" cy="94.9" r="3.5" fill="#1a9a45"/>
<circle cx="387.8" cy="99.3" r="5.2" fill="#e9e21a"/>
<circle cx="387.8" cy="99.3" r="3.5" fill="#1a9a45"/>
<text x="394" y="120.3" font-size="11.5" text-anchor="middle" font-weight="normal" fill="#fff">Zone 1</text>
<text x="394" y="136.3" font-size="11.5" text-anchor="middle" font-weight="normal" fill="#fff">Zone 2</text>
<text x="394" y="151.8" font-size="11.5" text-anchor="middle" font-weight="normal" fill="#fff">Zone 3</text>
<text x="394" y="167.3" font-size="11.5" text-anchor="middle" font-weight="normal" fill="#fff">Zone 4</text>
<text x="488" y="8.8" font-size="15.5" text-anchor="start" font-weight="bold" fill="#000">c</text>
<line x1="527" y1="23.2" x2="527" y2="156" stroke="#111" stroke-width="1.2"/>
<line x1="526.4" y1="155.4" x2="659.4" y2="155.4" stroke="#111" stroke-width="1.2"/>
<line x1="523" y1="155.4" x2="527" y2="155.4" stroke="#111" stroke-width="1.2"/>
<text x="521.5" y="159" font-size="10.2" text-anchor="end" font-weight="normal" fill="#231f20">0</text>
<line x1="523" y1="129.1" x2="527" y2="129.1" stroke="#111" stroke-width="1.2"/>
<text x="521.5" y="132.7" font-size="10.2" text-anchor="end" font-weight="normal" fill="#231f20">20</text>
<line x1="523" y1="102.8" x2="527" y2="102.8" stroke="#111" stroke-width="1.2"/>
<text x="521.5" y="106.4" font-size="10.2" text-anchor="end" font-weight="normal" fill="#231f20">40</text>
<line x1="523" y1="76.5" x2="527" y2="76.5" stroke="#111" stroke-width="1.2"/>
<text x="521.5" y="80.1" font-size="10.2" text-anchor="end" font-weight="normal" fill="#231f20">60</text>
<line x1="523" y1="50.2" x2="527" y2="50.2" stroke="#111" stroke-width="1.2"/>
<text x="521.5" y="53.8" font-size="10.2" text-anchor="end" font-weight="normal" fill="#231f20">80</text>
<line x1="523" y1="23.9" x2="527" y2="23.9" stroke="#111" stroke-width="1.2"/>
<text x="521.5" y="27.5" font-size="10.2" text-anchor="end" font-weight="normal" fill="#231f20">100</text>
<line x1="541" y1="155.4" x2="541" y2="157.6" stroke="#111" stroke-width="1.2"/>
<text x="541" y="171.6" font-size="10.2" text-anchor="middle" font-weight="normal" fill="#231f20">0</text>
<line x1="562" y1="155.4" x2="562" y2="157.6" stroke="#111" stroke-width="1.2"/>
<text x="562" y="171.6" font-size="10.2" text-anchor="middle" font-weight="normal" fill="#231f20">6</text>
<line x1="583" y1="155.4" x2="583" y2="157.6" stroke="#111" stroke-width="1.2"/>
<text x="583" y="171.6" font-size="10.2" text-anchor="middle" font-weight="normal" fill="#231f20">24</text>
<line x1="604" y1="155.4" x2="604" y2="157.6" stroke="#111" stroke-width="1.2"/>
<text x="604" y="171.6" font-size="10.2" text-anchor="middle" font-weight="normal" fill="#231f20">48</text>
<line x1="625" y1="155.4" x2="625" y2="157.6" stroke="#111" stroke-width="1.2"/>
<text x="625" y="171.6" font-size="10.2" text-anchor="middle" font-weight="normal" fill="#231f20">72</text>
<line x1="645.7" y1="155.4" x2="645.7" y2="157.6" stroke="#111" stroke-width="1.2"/>
<text x="645.7" y="171.6" font-size="10.2" text-anchor="middle" font-weight="normal" fill="#231f20">120</text>
<text x="593.5" y="187.8" font-size="10.2" text-anchor="middle" font-weight="normal" fill="#231f20">Time (in Hours)</text>
<text x="498.3" y="86.5" font-size="10.2" text-anchor="middle" font-weight="normal" fill="#231f20" transform="rotate(-90 498.3 86.5)">% MSC</text>
<rect x="555.2" y="152.38" width="13.6" height="3.02" fill="#060606"/>
<rect x="576.2" y="135.68" width="13.6" height="19.72" fill="#060606"/>
<rect x="576.2" y="131.73" width="13.6" height="3.94" fill="#ec2c7c"/>
<rect x="597.2" y="123.84" width="13.6" height="31.56" fill="#060606"/>
<rect x="597.2" y="110.69" width="13.6" height="13.15" fill="#ec2c7c"/>
<rect x="597.2" y="105.43" width="13.6" height="5.26" fill="#17928f"/>
<rect x="618.2" y="115.95" width="13.6" height="39.45" fill="#060606"/>
<rect x="618.2" y="89.65" width="13.6" height="26.3" fill="#ec2c7c"/>
<rect x="618.2" y="69.93" width="13.6" height="19.72" fill="#17928f"/>
<rect x="618.2" y="63.35" width="13.6" height="6.58" fill="#5b2b8c"/>
<rect x="638.9" y="126.47" width="13.6" height="28.93" fill="#060606"/>
<rect x="638.9" y="106.75" width="13.6" height="19.72" fill="#ec2c7c"/>
<rect x="638.9" y="83.08" width="13.6" height="23.67" fill="#17928f"/>
<rect x="638.9" y="64.67" width="13.6" height="18.41" fill="#5b2b8c"/>
<rect x="530.5" y="27" width="14" height="9.5" fill="#060606"/>
<text x="550" y="35.9" font-size="10.2" text-anchor="start" font-weight="normal" fill="#231f20">Zone 1</text>
<rect x="530.5" y="45.4" width="14" height="9.5" fill="#ec2c7c"/>
<text x="550" y="54.3" font-size="10.2" text-anchor="start" font-weight="normal" fill="#231f20">Zone 2</text>
<rect x="605.3" y="27" width="13.5" height="9.5" fill="#17928f"/>
<text x="624.8" y="35.9" font-size="10.2" text-anchor="start" font-weight="normal" fill="#231f20">Zone 3</text>
<rect x="605.3" y="45.4" width="13.5" height="9.5" fill="#5b2b8c"/>
<text x="624.8" y="54.3" font-size="10.2" text-anchor="start" font-weight="normal" fill="#231f20">Zone 4</text>
<text x="16" y="187.4" font-size="15.5" text-anchor="start" font-weight="bold" fill="#000">d</text>
<line x1="52.7" y1="192.3" x2="52.7" y2="321.4" stroke="#111" stroke-width="1.3"/>
<line x1="52.1" y1="320.8" x2="244.4" y2="320.8" stroke="#111" stroke-width="1.3"/>
<line x1="49.2" y1="320.8" x2="52.7" y2="320.8" stroke="#111" stroke-width="1.3"/>
<text x="46" y="323.7" font-size="8.2" text-anchor="end" font-weight="normal" fill="#333">0</text>
<line x1="49.2" y1="278.2" x2="52.7" y2="278.2" stroke="#111" stroke-width="1.3"/>
<text x="46" y="281.1" font-size="8.2" text-anchor="end" font-weight="normal" fill="#333">50</text>
<line x1="49.2" y1="235.6" x2="52.7" y2="235.6" stroke="#111" stroke-width="1.3"/>
<text x="46" y="238.5" font-size="8.2" text-anchor="end" font-weight="normal" fill="#333">100</text>
<line x1="49.2" y1="193" x2="52.7" y2="193" stroke="#111" stroke-width="1.3"/>
<text x="46" y="195.9" font-size="8.2" text-anchor="end" font-weight="normal" fill="#333">150</text>
<text x="25.3" y="255.8" font-size="8.3" text-anchor="middle" font-weight="normal" fill="#333" transform="rotate(-90 25.3 255.8)">Percent GBM Cell Viability</text>
<line x1="82.8" y1="320.8" x2="82.8" y2="325.8" stroke="#111" stroke-width="1.3"/>
<text x="82.8" y="336.6" font-size="8.9" text-anchor="middle" font-weight="normal" fill="#333">GBM8-FmC</text>
<line x1="149" y1="320.8" x2="149" y2="325.8" stroke="#111" stroke-width="1.3"/>
<text x="149" y="336.6" font-size="8.9" text-anchor="middle" font-weight="normal" fill="#333">GBM18-FmC</text>
<line x1="213.4" y1="320.8" x2="213.4" y2="325.8" stroke="#111" stroke-width="1.3"/>
<text x="213.4" y="336.6" font-size="8.9" text-anchor="middle" font-weight="normal" fill="#333">GBM31R-FmC</text>
<rect x="58" y="236.4" width="7.6" height="84.4" fill="#6a6a6a" stroke="#111" stroke-width="1.6"/>
<rect x="57.2" y="234.4" width="9.2" height="4.2" rx="2" fill="#111"/>
<rect x="71.9" y="302.86" width="6" height="17.94" fill="#f5a3be" stroke="#ec2c7c" stroke-width="1.6"/>
<rect x="71.1" y="301.46" width="7.6" height="4" fill="#ec2c7c"/>
<rect x="86" y="303.71" width="8.2" height="17.09" fill="#93c4c4" stroke="#1a9391" stroke-width="1.6"/>
<polygon points="86.7,300.51 84.7,305.11 88.7,305.11" fill="#1a9391"/>
<polygon points="90.1,300.51 88.1,305.11 92.1,305.11" fill="#1a9391"/>
<polygon points="93.5,300.51 91.5,305.11 95.5,305.11" fill="#1a9391"/>
<rect x="85.2" y="303.91" width="9.8" height="2.2" fill="#1a9391"/>
<rect x="100.3" y="312.65" width="7.8" height="8.15" fill="#a895c8" stroke="#5b2b8c" stroke-width="1.6"/>
<polygon points="101,314.85 99,310.65 103,310.65" fill="#5b2b8c"/>
<polygon points="104.2,314.85 102.2,310.65 106.2,310.65" fill="#5b2b8c"/>
<polygon points="107.4,314.85 105.4,310.65 109.4,310.65" fill="#5b2b8c"/>
<rect x="123.4" y="236.4" width="7.6" height="84.4" fill="#6a6a6a" stroke="#111" stroke-width="1.6"/>
<rect x="122.6" y="234.4" width="9.2" height="4.2" rx="2" fill="#111"/>
<rect x="138" y="283" width="7.5" height="37.8" fill="#f5a3be" stroke="#ec2c7c" stroke-width="1.6"/>
<rect x="137.2" y="281.6" width="9.1" height="4" fill="#ec2c7c"/>
<rect x="151.8" y="284.11" width="8.1" height="36.69" fill="#93c4c4" stroke="#1a9391" stroke-width="1.6"/>
<polygon points="152.5,280.91 150.5,285.51 154.5,285.51" fill="#1a9391"/>
<polygon points="155.85,280.91 153.85,285.51 157.85,285.51" fill="#1a9391"/>
<polygon points="159.2,280.91 157.2,285.51 161.2,285.51" fill="#1a9391"/>
<rect x="151" y="284.31" width="9.7" height="2.2" fill="#1a9391"/>
<rect x="166" y="307.97" width="7.8" height="12.83" fill="#a895c8" stroke="#5b2b8c" stroke-width="1.6"/>
<polygon points="166.7,310.17 164.7,305.97 168.7,305.97" fill="#5b2b8c"/>
<polygon points="169.9,310.17 167.9,305.97 171.9,305.97" fill="#5b2b8c"/>
<polygon points="173.1,310.17 171.1,305.97 175.1,305.97" fill="#5b2b8c"/>
<rect x="190.1" y="235.97" width="6.5" height="84.83" fill="#6a6a6a" stroke="#111" stroke-width="1.6"/>
<rect x="189.3" y="233.97" width="8.1" height="4.2" rx="2" fill="#111"/>
<rect x="203.4" y="299.45" width="8" height="21.35" fill="#f5a3be" stroke="#ec2c7c" stroke-width="1.6"/>
<rect x="202.6" y="298.05" width="9.6" height="4" fill="#ec2c7c"/>
<rect x="217" y="300.3" width="7.8" height="20.5" fill="#93c4c4" stroke="#1a9391" stroke-width="1.6"/>
<polygon points="217.7,297.1 215.7,301.7 219.7,301.7" fill="#1a9391"/>
<polygon points="220.9,297.1 218.9,301.7 222.9,301.7" fill="#1a9391"/>
<polygon points="224.1,297.1 222.1,301.7 226.1,301.7" fill="#1a9391"/>
<rect x="216.2" y="300.5" width="9.4" height="2.2" fill="#1a9391"/>
<rect x="230.9" y="308.39" width="8" height="12.41" fill="#a895c8" stroke="#5b2b8c" stroke-width="1.6"/>
<polygon points="231.6,310.59 229.6,306.39 233.6,306.39" fill="#5b2b8c"/>
<polygon points="234.9,310.59 232.9,306.39 236.9,306.39" fill="#5b2b8c"/>
<polygon points="238.2,310.59 236.2,306.39 240.2,306.39" fill="#5b2b8c"/>
<line x1="89.9" y1="269.1" x2="105.2" y2="269.1" stroke="#111" stroke-width="1.6"/>
<text x="98.05" y="269.6" font-size="15.8" text-anchor="middle" font-weight="bold" fill="#111">***</text>
<line x1="74.6" y1="288.1" x2="105.2" y2="288.1" stroke="#111" stroke-width="1.6"/>
<text x="90.4" y="288.6" font-size="15.8" text-anchor="middle" font-weight="bold" fill="#111">***</text>
<line x1="154.1" y1="256.2" x2="171.9" y2="256.2" stroke="#111" stroke-width="1.6"/>
<text x="163.5" y="256.7" font-size="15.8" text-anchor="middle" font-weight="bold" fill="#111">***</text>
<line x1="141.2" y1="274.2" x2="167.8" y2="274.2" stroke="#111" stroke-width="1.6"/>
<text x="155" y="274.7" font-size="15.8" text-anchor="middle" font-weight="bold" fill="#111">***</text>
<line x1="221" y1="270.5" x2="240.4" y2="270.5" stroke="#111" stroke-width="1.6"/>
<text x="231.2" y="271" font-size="15.8" text-anchor="middle" font-weight="bold" fill="#111">***</text>
<line x1="206" y1="291" x2="235.7" y2="291" stroke="#111" stroke-width="1.6"/>
<text x="221.35" y="291.5" font-size="15.8" text-anchor="middle" font-weight="bold" fill="#111">***</text>
<circle cx="69" cy="200.7" r="2.8" fill="#111"/>
<text x="80.7" y="203.6" font-size="8.6" text-anchor="start" font-weight="normal" fill="#333">EnMSC-GFP</text>
<rect x="66.4" y="215.8" width="5.2" height="5.2" fill="#ec2c7c"/>
<text x="80.7" y="221.3" font-size="8.6" text-anchor="start" font-weight="normal" fill="#333">EnMSC-DR<tspan dy="2" font-size="5.5">L</tspan></text>
<polygon points="160,196.98 156.92,202.58 163.08,202.58" fill="#17928f"/>
<text x="171.9" y="203.6" font-size="8.6" text-anchor="start" font-weight="normal" fill="#333">EnMSC<tspan dy="-3.5" font-size="5.5">Bif</tspan></text>
<polygon points="160,221.82 156.92,216.22 163.08,216.22" fill="#5b2b8c"/>
<text x="171.9" y="221.3" font-size="8.6" text-anchor="start" font-weight="normal" fill="#333">EnMSC<tspan dy="-3.5" font-size="5.5">Bif</tspan><tspan dy="3.5"> +G</tspan></text>
<text x="278" y="190.5" font-size="15.5" text-anchor="start" font-weight="bold" fill="#000">e</text>
<rect x="366.8" y="202.3" width="18" height="10.4" fill="#060606"/>
<text x="443.4" y="210.8" font-size="11.9" text-anchor="end" font-weight="normal" fill="#231f20">Live Cells</text>
<rect x="484.2" y="202.3" width="17.7" height="10.6" fill="#ec2c7c"/>
<text x="567.4" y="210.8" font-size="11.9" text-anchor="end" font-weight="normal" fill="#231f20">Dead Cells</text>
<line x1="313.3" y1="222.2" x2="313.3" y2="327" stroke="#111" stroke-width="1.3"/>
<line x1="310.1" y1="326.4" x2="313.3" y2="326.4" stroke="#111" stroke-width="1.2"/>
<line x1="311.1" y1="322.26" x2="313.3" y2="322.26" stroke="#111" stroke-width="0.9"/>
<line x1="311.1" y1="318.12" x2="313.3" y2="318.12" stroke="#111" stroke-width="0.9"/>
<line x1="311.1" y1="313.98" x2="313.3" y2="313.98" stroke="#111" stroke-width="0.9"/>
<line x1="311.1" y1="309.84" x2="313.3" y2="309.84" stroke="#111" stroke-width="0.9"/>
<line x1="311.1" y1="305.7" x2="313.3" y2="305.7" stroke="#111" stroke-width="0.9"/>
<line x1="311.1" y1="301.56" x2="313.3" y2="301.56" stroke="#111" stroke-width="0.9"/>
<line x1="311.1" y1="297.42" x2="313.3" y2="297.42" stroke="#111" stroke-width="0.9"/>
<line x1="311.1" y1="293.28" x2="313.3" y2="293.28" stroke="#111" stroke-width="0.9"/>
<line x1="311.1" y1="289.14" x2="313.3" y2="289.14" stroke="#111" stroke-width="0.9"/>
<line x1="310.1" y1="285" x2="313.3" y2="285" stroke="#111" stroke-width="1.2"/>
<line x1="311.1" y1="280.86" x2="313.3" y2="280.86" stroke="#111" stroke-width="0.9"/>
<line x1="311.1" y1="276.72" x2="313.3" y2="276.72" stroke="#111" stroke-width="0.9"/>
<line x1="311.1" y1="272.58" x2="313.3" y2="272.58" stroke="#111" stroke-width="0.9"/>
<line x1="311.1" y1="268.44" x2="313.3" y2="268.44" stroke="#111" stroke-width="0.9"/>
<line x1="311.1" y1="264.3" x2="313.3" y2="264.3" stroke="#111" stroke-width="0.9"/>
<line x1="311.1" y1="260.16" x2="313.3" y2="260.16" stroke="#111" stroke-width="0.9"/>
<line x1="311.1" y1="256.02" x2="313.3" y2="256.02" stroke="#111" stroke-width="0.9"/>
<line x1="311.1" y1="251.88" x2="313.3" y2="251.88" stroke="#111" stroke-width="0.9"/>
<line x1="311.1" y1="247.74" x2="313.3" y2="247.74" stroke="#111" stroke-width="0.9"/>
<line x1="310.1" y1="243.6" x2="313.3" y2="243.6" stroke="#111" stroke-width="1.2"/>
<line x1="311.1" y1="239.46" x2="313.3" y2="239.46" stroke="#111" stroke-width="0.9"/>
<line x1="311.1" y1="235.32" x2="313.3" y2="235.32" stroke="#111" stroke-width="0.9"/>
<line x1="311.1" y1="231.18" x2="313.3" y2="231.18" stroke="#111" stroke-width="0.9"/>
<line x1="311.1" y1="227.04" x2="313.3" y2="227.04" stroke="#111" stroke-width="0.9"/>
<line x1="311.1" y1="222.9" x2="313.3" y2="222.9" stroke="#111" stroke-width="0.9"/>
<line x1="312.7" y1="326.4" x2="387.9" y2="326.4" stroke="#111" stroke-width="1.3"/>
<text x="308.8" y="329.3" font-size="8.2" text-anchor="end" font-weight="normal" fill="#333">0</text>
<text x="308.8" y="287.9" font-size="8.2" text-anchor="end" font-weight="normal" fill="#333">50</text>
<text x="308.8" y="246.5" font-size="8.2" text-anchor="end" font-weight="normal" fill="#333">100</text>
<rect x="318.95" y="243.6" width="11.8" height="82.8" fill="#ec2c7c" rx="0.8"/>
<rect x="318.95" y="249.4" width="11.8" height="77" fill="#060606" rx="0.8"/>
<line x1="324.85" y1="326.4" x2="324.85" y2="330.6" stroke="#111" stroke-width="1.2"/>
<rect x="336" y="243.6" width="11.8" height="82.8" fill="#ec2c7c" rx="0.8"/>
<rect x="336" y="303.22" width="11.8" height="23.18" fill="#060606" rx="0.8"/>
<line x1="341.9" y1="326.4" x2="341.9" y2="330.6" stroke="#111" stroke-width="1.2"/>
<rect x="353.1" y="243.6" width="11.8" height="82.8" fill="#ec2c7c" rx="0.8"/>
<rect x="353.1" y="304.87" width="11.8" height="21.53" fill="#060606" rx="0.8"/>
<line x1="359" y1="326.4" x2="359" y2="330.6" stroke="#111" stroke-width="1.2"/>
<rect x="370.1" y="243.6" width="11.8" height="82.8" fill="#ec2c7c" rx="0.8"/>
<rect x="370.1" y="322.26" width="11.8" height="4.14" fill="#060606" rx="0.8"/>
<line x1="376" y1="326.4" x2="376" y2="330.6" stroke="#111" stroke-width="1.2"/>
<text x="348.4" y="237.4" font-size="9.4" text-anchor="middle" font-weight="bold" fill="#2e3192">GBM8</text>
<text x="286.2" y="273" font-size="8.2" text-anchor="middle" font-weight="normal" fill="#333" transform="rotate(-90 286.2 273)">Percent GBM Cells</text>
<text x="327.45" y="336" font-size="8.6" text-anchor="end" font-weight="normal" fill="#333" transform="rotate(-45 327.45 336)">EnMSC-GFP</text>
<text x="344.5" y="336" font-size="8.6" text-anchor="end" font-weight="normal" fill="#333" transform="rotate(-45 344.5 336)">EnMSC-DR<tspan dy="2" font-size="5.5">L</tspan></text>
<text x="361.6" y="336" font-size="8.6" text-anchor="end" font-weight="normal" fill="#333" transform="rotate(-45 361.6 336)">EnMSC<tspan dy="-3" font-size="5.5">Bif</tspan></text>
<text x="378.6" y="336" font-size="8.6" text-anchor="end" font-weight="normal" fill="#333" transform="rotate(-45 378.6 336)">EnMSC<tspan dy="-3" font-size="5.5">Bif</tspan><tspan dy="3"> +G</tspan></text>
<line x1="430.7" y1="219.9" x2="430.7" y2="325.5" stroke="#111" stroke-width="1.3"/>
<line x1="427.5" y1="324.9" x2="430.7" y2="324.9" stroke="#111" stroke-width="1.2"/>
<line x1="428.5" y1="320.72" x2="430.7" y2="320.72" stroke="#111" stroke-width="0.9"/>
<line x1="428.5" y1="316.55" x2="430.7" y2="316.55" stroke="#111" stroke-width="0.9"/>
<line x1="428.5" y1="312.38" x2="430.7" y2="312.38" stroke="#111" stroke-width="0.9"/>
<line x1="428.5" y1="308.2" x2="430.7" y2="308.2" stroke="#111" stroke-width="0.9"/>
<line x1="428.5" y1="304.02" x2="430.7" y2="304.02" stroke="#111" stroke-width="0.9"/>
<line x1="428.5" y1="299.85" x2="430.7" y2="299.85" stroke="#111" stroke-width="0.9"/>
<line x1="428.5" y1="295.68" x2="430.7" y2="295.68" stroke="#111" stroke-width="0.9"/>
<line x1="428.5" y1="291.5" x2="430.7" y2="291.5" stroke="#111" stroke-width="0.9"/>
<line x1="428.5" y1="287.32" x2="430.7" y2="287.32" stroke="#111" stroke-width="0.9"/>
<line x1="427.5" y1="283.15" x2="430.7" y2="283.15" stroke="#111" stroke-width="1.2"/>
<line x1="428.5" y1="278.98" x2="430.7" y2="278.98" stroke="#111" stroke-width="0.9"/>
<line x1="428.5" y1="274.8" x2="430.7" y2="274.8" stroke="#111" stroke-width="0.9"/>
<line x1="428.5" y1="270.62" x2="430.7" y2="270.62" stroke="#111" stroke-width="0.9"/>
<line x1="428.5" y1="266.45" x2="430.7" y2="266.45" stroke="#111" stroke-width="0.9"/>
<line x1="428.5" y1="262.27" x2="430.7" y2="262.27" stroke="#111" stroke-width="0.9"/>
<line x1="428.5" y1="258.1" x2="430.7" y2="258.1" stroke="#111" stroke-width="0.9"/>
<line x1="428.5" y1="253.93" x2="430.7" y2="253.93" stroke="#111" stroke-width="0.9"/>
<line x1="428.5" y1="249.75" x2="430.7" y2="249.75" stroke="#111" stroke-width="0.9"/>
<line x1="428.5" y1="245.57" x2="430.7" y2="245.57" stroke="#111" stroke-width="0.9"/>
<line x1="427.5" y1="241.4" x2="430.7" y2="241.4" stroke="#111" stroke-width="1.2"/>
<line x1="428.5" y1="237.23" x2="430.7" y2="237.23" stroke="#111" stroke-width="0.9"/>
<line x1="428.5" y1="233.05" x2="430.7" y2="233.05" stroke="#111" stroke-width="0.9"/>
<line x1="428.5" y1="228.88" x2="430.7" y2="228.88" stroke="#111" stroke-width="0.9"/>
<line x1="428.5" y1="224.7" x2="430.7" y2="224.7" stroke="#111" stroke-width="0.9"/>
<line x1="428.5" y1="220.53" x2="430.7" y2="220.53" stroke="#111" stroke-width="0.9"/>
<line x1="430.1" y1="324.9" x2="505.8" y2="324.9" stroke="#111" stroke-width="1.3"/>
<text x="426.2" y="327.8" font-size="8.2" text-anchor="end" font-weight="normal" fill="#333">0</text>
<text x="426.2" y="286.05" font-size="8.2" text-anchor="end" font-weight="normal" fill="#333">50</text>
<text x="426.2" y="244.3" font-size="8.2" text-anchor="end" font-weight="normal" fill="#333">100</text>
<rect x="436.7" y="241.4" width="11.8" height="83.5" fill="#ec2c7c" rx="0.8"/>
<rect x="436.7" y="243.91" width="11.8" height="80.99" fill="#060606" rx="0.8"/>
<line x1="442.6" y1="324.9" x2="442.6" y2="329.1" stroke="#111" stroke-width="1.2"/>
<rect x="453.8" y="241.4" width="11.8" height="83.5" fill="#ec2c7c" rx="0.8"/>
<rect x="453.8" y="285.65" width="11.8" height="39.25" fill="#060606" rx="0.8"/>
<line x1="459.7" y1="324.9" x2="459.7" y2="329.1" stroke="#111" stroke-width="1.2"/>
<rect x="470.9" y="241.4" width="11.8" height="83.5" fill="#ec2c7c" rx="0.8"/>
<rect x="470.9" y="301.52" width="11.8" height="23.38" fill="#060606" rx="0.8"/>
<line x1="476.8" y1="324.9" x2="476.8" y2="329.1" stroke="#111" stroke-width="1.2"/>
<rect x="488" y="241.4" width="11.8" height="83.5" fill="#ec2c7c" rx="0.8"/>
<rect x="488" y="323.23" width="11.8" height="1.67" fill="#060606" rx="0.8"/>
<line x1="493.9" y1="324.9" x2="493.9" y2="329.1" stroke="#111" stroke-width="1.2"/>
<text x="470.9" y="232.6" font-size="9.4" text-anchor="middle" font-weight="bold" fill="#2e3192">GBM18</text>
<text x="403.6" y="273.5" font-size="8.2" text-anchor="middle" font-weight="normal" fill="#333" transform="rotate(-90 403.6 273.5)">Percent GBM Cells</text>
<text x="445.2" y="334.5" font-size="8.6" text-anchor="end" font-weight="normal" fill="#333" transform="rotate(-45 445.2 334.5)">EnMSC-GFP</text>
<text x="462.3" y="334.5" font-size="8.6" text-anchor="end" font-weight="normal" fill="#333" transform="rotate(-45 462.3 334.5)">EnMSC-DR<tspan dy="2" font-size="5.5">L</tspan></text>
<text x="479.4" y="334.5" font-size="8.6" text-anchor="end" font-weight="normal" fill="#333" transform="rotate(-45 479.4 334.5)">EnMSC<tspan dy="-3" font-size="5.5">Bif</tspan></text>
<text x="496.5" y="334.5" font-size="8.6" text-anchor="end" font-weight="normal" fill="#333" transform="rotate(-45 496.5 334.5)">EnMSC<tspan dy="-3" font-size="5.5">Bif</tspan><tspan dy="3"> +G</tspan></text>
<line x1="563.3" y1="217.5" x2="563.3" y2="320.6" stroke="#111" stroke-width="1.3"/>
<line x1="560.1" y1="320" x2="563.3" y2="320" stroke="#111" stroke-width="1.2"/>
<line x1="561.1" y1="315.92" x2="563.3" y2="315.92" stroke="#111" stroke-width="0.9"/>
<line x1="561.1" y1="311.84" x2="563.3" y2="311.84" stroke="#111" stroke-width="0.9"/>
<line x1="561.1" y1="307.76" x2="563.3" y2="307.76" stroke="#111" stroke-width="0.9"/>
<line x1="561.1" y1="303.68" x2="563.3" y2="303.68" stroke="#111" stroke-width="0.9"/>
<line x1="561.1" y1="299.6" x2="563.3" y2="299.6" stroke="#111" stroke-width="0.9"/>
<line x1="561.1" y1="295.52" x2="563.3" y2="295.52" stroke="#111" stroke-width="0.9"/>
<line x1="561.1" y1="291.44" x2="563.3" y2="291.44" stroke="#111" stroke-width="0.9"/>
<line x1="561.1" y1="287.36" x2="563.3" y2="287.36" stroke="#111" stroke-width="0.9"/>
<line x1="561.1" y1="283.28" x2="563.3" y2="283.28" stroke="#111" stroke-width="0.9"/>
<line x1="560.1" y1="279.2" x2="563.3" y2="279.2" stroke="#111" stroke-width="1.2"/>
<line x1="561.1" y1="275.12" x2="563.3" y2="275.12" stroke="#111" stroke-width="0.9"/>
<line x1="561.1" y1="271.04" x2="563.3" y2="271.04" stroke="#111" stroke-width="0.9"/>
<line x1="561.1" y1="266.96" x2="563.3" y2="266.96" stroke="#111" stroke-width="0.9"/>
<line x1="561.1" y1="262.88" x2="563.3" y2="262.88" stroke="#111" stroke-width="0.9"/>
<line x1="561.1" y1="258.8" x2="563.3" y2="258.8" stroke="#111" stroke-width="0.9"/>
<line x1="561.1" y1="254.72" x2="563.3" y2="254.72" stroke="#111" stroke-width="0.9"/>
<line x1="561.1" y1="250.64" x2="563.3" y2="250.64" stroke="#111" stroke-width="0.9"/>
<line x1="561.1" y1="246.56" x2="563.3" y2="246.56" stroke="#111" stroke-width="0.9"/>
<line x1="561.1" y1="242.48" x2="563.3" y2="242.48" stroke="#111" stroke-width="0.9"/>
<line x1="560.1" y1="238.4" x2="563.3" y2="238.4" stroke="#111" stroke-width="1.2"/>
<line x1="561.1" y1="234.32" x2="563.3" y2="234.32" stroke="#111" stroke-width="0.9"/>
<line x1="561.1" y1="230.24" x2="563.3" y2="230.24" stroke="#111" stroke-width="0.9"/>
<line x1="561.1" y1="226.16" x2="563.3" y2="226.16" stroke="#111" stroke-width="0.9"/>
<line x1="561.1" y1="222.08" x2="563.3" y2="222.08" stroke="#111" stroke-width="0.9"/>
<line x1="561.1" y1="218" x2="563.3" y2="218" stroke="#111" stroke-width="0.9"/>
<line x1="562.7" y1="320" x2="637.9" y2="320" stroke="#111" stroke-width="1.3"/>
<text x="558.8" y="322.9" font-size="8.2" text-anchor="end" font-weight="normal" fill="#333">0</text>
<text x="558.8" y="282.1" font-size="8.2" text-anchor="end" font-weight="normal" fill="#333">50</text>
<text x="558.8" y="241.3" font-size="8.2" text-anchor="end" font-weight="normal" fill="#333">100</text>
<rect x="568.9" y="238.4" width="11.6" height="81.6" fill="#ec2c7c" rx="0.8"/>
<rect x="568.9" y="240.85" width="11.6" height="79.15" fill="#060606" rx="0.8"/>
<line x1="574.7" y1="320" x2="574.7" y2="324.2" stroke="#111" stroke-width="1.2"/>
<rect x="585.9" y="238.4" width="11.6" height="81.6" fill="#ec2c7c" rx="0.8"/>
<rect x="585.9" y="281.65" width="11.6" height="38.35" fill="#060606" rx="0.8"/>
<line x1="591.7" y1="320" x2="591.7" y2="324.2" stroke="#111" stroke-width="1.2"/>
<rect x="603" y="238.4" width="11.6" height="81.6" fill="#ec2c7c" rx="0.8"/>
<rect x="603" y="297.15" width="11.6" height="22.85" fill="#060606" rx="0.8"/>
<line x1="608.8" y1="320" x2="608.8" y2="324.2" stroke="#111" stroke-width="1.2"/>
<rect x="620.3" y="238.4" width="11.6" height="81.6" fill="#ec2c7c" rx="0.8"/>
<rect x="620.3" y="318.37" width="11.6" height="1.63" fill="#060606" rx="0.8"/>
<line x1="626.1" y1="320" x2="626.1" y2="324.2" stroke="#111" stroke-width="1.2"/>
<text x="600.7" y="230.2" font-size="9.4" text-anchor="middle" font-weight="bold" fill="#2e3192">GBM31R</text>
<text x="536.2" y="268.3" font-size="8.2" text-anchor="middle" font-weight="normal" fill="#333" transform="rotate(-90 536.2 268.3)">Percent GBM Cells</text>
<text x="577.3" y="329.6" font-size="8.6" text-anchor="end" font-weight="normal" fill="#333" transform="rotate(-45 577.3 329.6)">EnMSC-GFP</text>
<text x="594.3" y="329.6" font-size="8.6" text-anchor="end" font-weight="normal" fill="#333" transform="rotate(-45 594.3 329.6)">EnMSC-TR</text>
<text x="611.4" y="329.6" font-size="8.6" text-anchor="end" font-weight="normal" fill="#333" transform="rotate(-45 611.4 329.6)">EnMSC<tspan dy="-3" font-size="5.5">Bif</tspan></text>
<text x="628.7" y="329.6" font-size="8.6" text-anchor="end" font-weight="normal" fill="#333" transform="rotate(-45 628.7 329.6)">EnMSC<tspan dy="-3" font-size="5.5">Bif</tspan><tspan dy="3"> +G</tspan></text>
<text x="25" y="371" font-size="15.5" text-anchor="start" font-weight="bold" fill="#000">f</text>
<text x="75" y="368.7" font-size="10.5" text-anchor="middle" font-weight="normal" fill="#231f20">GBM8</text>
<line x1="46.6" y1="374.8" x2="99.7" y2="374.8" stroke="#111" stroke-width="1.6"/>
<text x="138.3" y="368.7" font-size="10.5" text-anchor="middle" font-weight="normal" fill="#231f20">GBM18</text>
<line x1="110.5" y1="374.8" x2="164.9" y2="374.8" stroke="#111" stroke-width="1.6"/>
<text x="205.7" y="368.7" font-size="10.5" text-anchor="middle" font-weight="normal" fill="#231f20">GBM31R</text>
<line x1="182.9" y1="374.8" x2="236.6" y2="374.8" stroke="#111" stroke-width="1.6"/>
<text x="52.1" y="441.2" font-size="10.3" text-anchor="start" font-weight="normal" fill="#231f20" transform="rotate(-90 52.1 441.2)">EnMSC-GFP</text>
<text x="73.4" y="441.2" font-size="10.3" text-anchor="start" font-weight="normal" fill="#231f20" transform="rotate(-90 73.4 441.2)">EnMSC-TK</text>
<text x="98.5" y="441.2" font-size="10.3" text-anchor="start" font-weight="normal" fill="#231f20" transform="rotate(-90 98.5 441.2)">EnMSC<tspan dy="-4" font-size="6.5">Bif</tspan></text>
<text x="121.6" y="441.2" font-size="10.3" text-anchor="start" font-weight="normal" fill="#231f20" transform="rotate(-90 121.6 441.2)">EnMSC-GFP</text>
<text x="142.6" y="441.2" font-size="10.3" text-anchor="start" font-weight="normal" fill="#231f20" transform="rotate(-90 142.6 441.2)">EnMSC-TK</text>
<text x="167.1" y="441.2" font-size="10.3" text-anchor="start" font-weight="normal" fill="#231f20" transform="rotate(-90 167.1 441.2)">EnMSC<tspan dy="-4" font-size="6.5">Bif</tspan></text>
<text x="192.8" y="441.2" font-size="10.3" text-anchor="start" font-weight="normal" fill="#231f20" transform="rotate(-90 192.8 441.2)">EnMSC-GFP</text>
<text x="215.5" y="441.2" font-size="10.3" text-anchor="start" font-weight="normal" fill="#231f20" transform="rotate(-90 215.5 441.2)">EnMSC-TK</text>
<text x="239.6" y="441.2" font-size="10.3" text-anchor="start" font-weight="normal" fill="#231f20" transform="rotate(-90 239.6 441.2)">EnMSC<tspan dy="-4" font-size="6.5">Bif</tspan></text>
<defs><filter id="bl1" x="-20%" y="-50%" width="140%" height="200%"><feGaussianBlur stdDeviation="1.5"/></filter><filter id="bl2" x="-20%" y="-50%" width="140%" height="200%"><feGaussianBlur stdDeviation="1.0"/></filter></defs>
<rect x="32" y="443.5" width="216.8" height="41.2" fill="#ababab"/>
<rect x="32" y="491.3" width="216.8" height="35.4" fill="#ababab"/>
<rect x="32" y="533.3" width="216.8" height="37.2" fill="#b2b2b2"/>
<rect x="39.3" y="455.2" width="16.7" height="4.5" rx="2" fill="#9a9a9a" filter="url(#bl1)"/>
<rect x="38.8" y="445.6" width="17.7" height="11.6" rx="2.5" fill="#444" filter="url(#bl2)"/>
<rect x="61.3" y="455.3" width="17.2" height="4.5" rx="2" fill="#9a9a9a" filter="url(#bl1)"/>
<rect x="60.8" y="448.3" width="18.2" height="9" rx="2.5" fill="#4a4a4a" filter="url(#bl2)"/>
<rect x="85.6" y="455.8" width="16.5" height="4.5" rx="2" fill="#9a9a9a" filter="url(#bl1)"/>
<rect x="85.1" y="447.8" width="17.5" height="10" rx="2.5" fill="#474747" filter="url(#bl2)"/>
<rect x="108.4" y="455.3" width="17.5" height="4.5" rx="2" fill="#9a9a9a" filter="url(#bl1)"/>
<rect x="107.9" y="446.2" width="18.5" height="11.1" rx="2.5" fill="#474747" filter="url(#bl2)"/>
<rect x="132.3" y="456.2" width="18.2" height="4.5" rx="2" fill="#9a9a9a" filter="url(#bl1)"/>
<rect x="131.8" y="446.1" width="19.2" height="12.1" rx="2.5" fill="#4b4b4b" filter="url(#bl2)"/>
<rect x="156.8" y="455.5" width="16.5" height="4.5" rx="2" fill="#9a9a9a" filter="url(#bl1)"/>
<rect x="156.3" y="446.1" width="17.5" height="11.4" rx="2.5" fill="#525252" filter="url(#bl2)"/>
<rect x="181" y="457.5" width="15.9" height="4.5" rx="2" fill="#9a9a9a" filter="url(#bl1)"/>
<rect x="180.5" y="448.2" width="16.9" height="11.3" rx="2.5" fill="#3b3b3b" filter="url(#bl2)"/>
<rect x="204.1" y="455.3" width="16.9" height="4.5" rx="2" fill="#9a9a9a" filter="url(#bl1)"/>
<rect x="203.6" y="446.1" width="17.9" height="11.2" rx="2.5" fill="#474747" filter="url(#bl2)"/>
<rect x="227.7" y="453.2" width="16" height="4.5" rx="2" fill="#9a9a9a" filter="url(#bl1)"/>
<rect x="227.2" y="447.1" width="17" height="8.1" rx="2.5" fill="#666" filter="url(#bl2)"/>
<rect x="85" y="473.6" width="14" height="3.2" rx="1.5" fill="#8a8a8a" filter="url(#bl2)"/>
<rect x="156.3" y="471.2" width="15.7" height="3.7" rx="1.5" fill="#3a3a3a" filter="url(#bl2)"/>
<rect x="157" y="475.8" width="14" height="1.8" rx="1.5" fill="#8e8e8e" filter="url(#bl2)"/>
<rect x="229.9" y="472.4" width="14" height="2.8" rx="1.5" fill="#5a5a5a" filter="url(#bl2)"/>
<rect x="37.2" y="505" width="18.2" height="4.9" rx="2" fill="#5a5a5a" filter="url(#bl2)"/>
<rect x="61.3" y="505.3" width="16.9" height="4.2" rx="2" fill="#626262" filter="url(#bl2)"/>
<rect x="85.4" y="503.8" width="17.6" height="6.7" rx="2" fill="#3a3a3a" filter="url(#bl2)"/>
<rect x="109.5" y="505.8" width="16.1" height="3.2" rx="2" fill="#9a9a9a" filter="url(#bl2)"/>
<rect x="134.4" y="504.8" width="14" height="3.9" rx="2" fill="#6a6a6a" filter="url(#bl2)"/>
<rect x="156.3" y="503.4" width="16.6" height="6.6" rx="2" fill="#2c2c2c" filter="url(#bl2)"/>
<rect x="180.8" y="505.3" width="14.9" height="3.5" rx="2" fill="#8e8e8e" filter="url(#bl2)"/>
<rect x="205.3" y="504.8" width="14" height="4.2" rx="2" fill="#5c5c5c" filter="url(#bl2)"/>
<rect x="227.2" y="504" width="17" height="7" rx="2" fill="#2c2c2c" filter="url(#bl2)"/>
<rect x="42.2" y="544.3" width="21.5" height="14.4" rx="4.5" fill="#464646" filter="url(#bl2)"/>
<rect x="43.2" y="544.6" width="19.5" height="1.9" rx="1" fill="#333333" filter="url(#bl2)"/>
<rect x="64.7" y="544.3" width="22.5" height="14.4" rx="4.5" fill="#464646" filter="url(#bl2)"/>
<rect x="65.7" y="544.6" width="20.5" height="1.9" rx="1" fill="#333333" filter="url(#bl2)"/>
<rect x="87.8" y="544.8" width="20.9" height="13.7" rx="4.5" fill="#464646" filter="url(#bl2)"/>
<rect x="88.8" y="545.1" width="18.9" height="1.9" rx="1" fill="#333333" filter="url(#bl2)"/>
<rect x="110.3" y="544.8" width="21.8" height="13.7" rx="4.5" fill="#464646" filter="url(#bl2)"/>
<rect x="111.3" y="545.1" width="19.8" height="1.9" rx="1" fill="#333333" filter="url(#bl2)"/>
<rect x="133.4" y="544.3" width="20.2" height="13.9" rx="4.5" fill="#464646" filter="url(#bl2)"/>
<rect x="134.4" y="544.6" width="18.2" height="1.9" rx="1" fill="#333333" filter="url(#bl2)"/>
<rect x="157.8" y="545.9" width="19.9" height="10.6" rx="4.5" fill="#464646" filter="url(#bl2)"/>
<rect x="158.8" y="546.2" width="17.9" height="1.9" rx="1" fill="#333333" filter="url(#bl2)"/>
<rect x="181" y="545.5" width="20.8" height="11.5" rx="4.5" fill="#464646" filter="url(#bl2)"/>
<rect x="182" y="545.8" width="18.8" height="1.9" rx="1" fill="#333333" filter="url(#bl2)"/>
<rect x="205" y="545.9" width="17.7" height="8.6" rx="4.5" fill="#464646" filter="url(#bl2)"/>
<rect x="206" y="546.2" width="15.7" height="1.9" rx="1" fill="#333333" filter="url(#bl2)"/>
<rect x="226.5" y="544.3" width="19.3" height="10.2" rx="4.5" fill="#464646" filter="url(#bl2)"/>
<rect x="227.5" y="544.6" width="17.3" height="1.9" rx="1" fill="#333333" filter="url(#bl2)"/>
<line x1="255" y1="451.6" x2="262" y2="451.6" stroke="#000" stroke-width="2"/>
<polygon points="250,451.6 256.5,448 256.5,455.2" fill="#000"/>
<line x1="255" y1="474.2" x2="262" y2="474.2" stroke="#000" stroke-width="2"/>
<polygon points="250,474.2 256.5,470.6 256.5,477.8" fill="#000"/>
<line x1="255" y1="507.3" x2="262" y2="507.3" stroke="#000" stroke-width="2"/>
<polygon points="250,507.3 256.5,503.7 256.5,510.9" fill="#000"/>
<line x1="255" y1="550.2" x2="262" y2="550.2" stroke="#000" stroke-width="2"/>
<polygon points="250,550.2 256.5,546.6 256.5,553.8" fill="#000"/>
<text x="265.2" y="448.9" font-size="10.4" text-anchor="start" font-weight="normal" fill="#3d5cab">Caspase 8</text>
<text x="265.2" y="460.8" font-size="10.4" text-anchor="start" font-weight="normal" fill="#3d5cab">(57kD)</text>
<text x="265.2" y="477.3" font-size="10.4" text-anchor="start" font-weight="normal" fill="#3d5cab">Cl. Caspase 8</text>
<text x="265.2" y="489.1" font-size="10.4" text-anchor="start" font-weight="normal" fill="#3d5cab">(43kD)</text>
<text x="265.2" y="512" font-size="10.4" text-anchor="start" font-weight="normal" fill="#3d5cab">Cl. PARP</text>
<text x="265.2" y="523.1" font-size="10.4" text-anchor="start" font-weight="normal" fill="#3d5cab">(89kD)</text>
<text x="265.2" y="553.8" font-size="10.4" text-anchor="start" font-weight="normal" fill="#3d5cab">α-Tubulin</text>
<text x="265.2" y="565.6" font-size="10.4" text-anchor="start" font-weight="normal" fill="#3d5cab">(50kD)</text>
<text x="344.6" y="414.2" font-size="15.5" text-anchor="start" font-weight="bold" fill="#000">g</text>
<polygon points="358.6,468 403.6,468 401.9,517.3 360.3,517.3" fill="#e8e4e4"/>
<polygon points="449.1,468 493.8,468 492.1,517.3 450.8,517.3" fill="#e8e4e4"/>
<polygon points="536.6,468 581.4,468 579.7,517.3 538.3,517.3" fill="#e8e4e4"/>
<g>
<path d="M361.5 509 Q360 493 377 491 Q381 490 385 491 Q402 493 400.5 509 Q398 517 387 517 Q381 514 375 517 Z" fill="#e2e2e2" stroke="#bdbdbd" stroke-width="0.7"/>
<path d="M380.3 494.53 q1.46 -0.49 4.22 0.74" fill="none" stroke="#a8a8a8" stroke-width="0.7"/>
<path d="M385.44 506.23 q1.42 1.21 0.79 4.15" fill="none" stroke="#b4b4b4" stroke-width="0.7"/>
<path d="M364.52 505.61 q-0.45 1.41 2.03 3.78" fill="none" stroke="#f6f6f6" stroke-width="0.7"/>
<path d="M377.64 504.76 q-1.02 -0.26 -3.1 2.19" fill="none" stroke="#f6f6f6" stroke-width="0.7"/>
<path d="M393.5 500.74 q1.34 1.1 2.67 3.32" fill="none" stroke="#b4b4b4" stroke-width="0.7"/>
<path d="M387.15 499.69 q-1.18 0.33 -2.61 0.68" fill="none" stroke="#c0c0c0" stroke-width="0.7"/>
<path d="M375.89 508.09 q-2.19 -0.6 -2.39 -3.06" fill="none" stroke="#c0c0c0" stroke-width="0.7"/>
<path d="M386.73 506.79 q0.77 -1.2 2.64 -0.31" fill="none" stroke="#a8a8a8" stroke-width="0.7"/>
<path d="M389.71 508.28 q-0.08 1.67 -0.32 3.16" fill="none" stroke="#c0c0c0" stroke-width="0.7"/>
<path d="M387.55 504.04 q3.14 -0.66 4.05 -1.77" fill="none" stroke="#a8a8a8" stroke-width="0.7"/>
<path d="M380.45 511.01 q0.23 2.07 -1.91 1.72" fill="none" stroke="#f6f6f6" stroke-width="0.7"/>
<path d="M391.16 513.6 q2.76 -1.45 3.09 -0.9" fill="none" stroke="#c0c0c0" stroke-width="0.7"/>
<path d="M365.81 500.58 q0.35 0.09 -2.24 -1.56" fill="none" stroke="#c0c0c0" stroke-width="0.7"/>
<path d="M390.8 513.34 q-2.13 1.09 -3.21 0.68" fill="none" stroke="#b4b4b4" stroke-width="0.7"/>
<path d="M376.52 500.88 q0.36 -1.29 2.57 -3.09" fill="none" stroke="#a8a8a8" stroke-width="0.7"/>
<path d="M396.33 508.39 q-1.63 2.9 -0.33 3.4" fill="none" stroke="#a8a8a8" stroke-width="0.7"/>
<path d="M368.23 507.42 q1.09 -1.25 -0.65 -4.34" fill="none" stroke="#f6f6f6" stroke-width="0.7"/>
<path d="M383.94 497.26 q1.04 1.08 2.44 1.15" fill="none" stroke="#c0c0c0" stroke-width="0.7"/>
<path d="M388.77 494.38 q-2.7 1.96 -2.86 1.4" fill="none" stroke="#c0c0c0" stroke-width="0.7"/>
<path d="M389.75 513.84 q2.56 0.08 3.98 -0.7" fill="none" stroke="#c0c0c0" stroke-width="0.7"/>
<path d="M383.58 496.28 q-0.12 -0.86 2.46 -2.26" fill="none" stroke="#c0c0c0" stroke-width="0.7"/>
<path d="M376.91 505.4 q-1.5 -1.4 -2.72 -3.48" fill="none" stroke="#f6f6f6" stroke-width="0.7"/>
<path d="M374.74 496.56 q-2.09 2.93 -1.2 3.23" fill="none" stroke="#f6f6f6" stroke-width="0.7"/>
<path d="M380.95 494.44 q-1.94 0.96 -1.77 2.68" fill="none" stroke="#a8a8a8" stroke-width="0.7"/>
<path d="M384.4 496.46 q-0.75 3.35 -1.02 3.87" fill="none" stroke="#f6f6f6" stroke-width="0.7"/>
<path d="M377.94 496.18 q-0.83 -0.29 -1.33 -3.35" fill="none" stroke="#f6f6f6" stroke-width="0.7"/>
<path d="M368.39 507.32 q-0.3 2.85 1.74 3.57" fill="none" stroke="#a8a8a8" stroke-width="0.7"/>
<path d="M394.7 501.56 q1.25 0.44 -0.4 2.89" fill="none" stroke="#f6f6f6" stroke-width="0.7"/>
<path d="M388.66 501.16 q0 2.18 2.28 2.17" fill="none" stroke="#b4b4b4" stroke-width="0.7"/>
<path d="M372.22 503.35 q1.71 1.05 3.02 1.62" fill="none" stroke="#b4b4b4" stroke-width="0.7"/>
<path d="M391.96 503.89 q1.1 -0.83 1.53 -3.03" fill="none" stroke="#f6f6f6" stroke-width="0.7"/>
<path d="M394.49 499.27 q-2.28 -0.47 -3.36 -1.27" fill="none" stroke="#f6f6f6" stroke-width="0.7"/>
<line x1="381" y1="491" x2="381" y2="515" stroke="#c0c0c0" stroke-width="0.7"/>
</g>
<ellipse cx="390.3" cy="502.2" rx="3.8" ry="6.2" fill="#7f7f7f"/>
<g>
<path d="M452 509 Q450.5 493 467.5 491 Q471.5 490 475.5 491 Q492.5 493 491 509 Q488.5 517 477.5 517 Q471.5 514 465.5 517 Z" fill="#e2e2e2" stroke="#bdbdbd" stroke-width="0.7"/>
<path d="M456.78 508.06 q-2.3 -0.06 -3.06 0.73" fill="none" stroke="#b4b4b4" stroke-width="0.7"/>
<path d="M471.24 512.84 q0 -1.54 -0.37 -3.51" fill="none" stroke="#c0c0c0" stroke-width="0.7"/>
<path d="M485.81 505.88 q-0.53 0.18 0.65 3.15" fill="none" stroke="#c0c0c0" stroke-width="0.7"/>
<path d="M463.83 504.15 q1.92 -1.27 1.72 -2.25" fill="none" stroke="#b4b4b4" stroke-width="0.7"/>
<path d="M465.36 511.01 q1.63 0.45 2.66 0.26" fill="none" stroke="#a8a8a8" stroke-width="0.7"/>
<path d="M474.55 510.37 q-1.78 2.51 -1.63 3.85" fill="none" stroke="#f6f6f6" stroke-width="0.7"/>
<path d="M478.75 506.77 q0.53 2.78 1.98 4.03" fill="none" stroke="#b4b4b4" stroke-width="0.7"/>
<path d="M476.69 501 q0.41 -1.41 3.11 -1.76" fill="none" stroke="#b4b4b4" stroke-width="0.7"/>
<path d="M454.96 504.29 q-0.85 -0.19 -1.6 -2.99" fill="none" stroke="#f6f6f6" stroke-width="0.7"/>
<path d="M466.17 505.63 q1.73 -1.65 1.98 -1.86" fill="none" stroke="#f6f6f6" stroke-width="0.7"/>
<path d="M456.12 507.91 q1.15 0.76 0.94 2.52" fill="none" stroke="#f6f6f6" stroke-width="0.7"/>
<path d="M467.96 508.5 q-2.29 -2.25 -3.48 -2" fill="none" stroke="#c0c0c0" stroke-width="0.7"/>
<path d="M469.94 501.88 q-0.77 1.69 -0.53 2.95" fill="none" stroke="#b4b4b4" stroke-width="0.7"/>
<path d="M461.72 508.09 q0.29 -0.4 1.23 -3.26" fill="none" stroke="#f6f6f6" stroke-width="0.7"/>
<path d="M463.4 507.06 q-1.72 -0.79 -3.58 -2.2" fill="none" stroke="#b4b4b4" stroke-width="0.7"/>
<path d="M480.13 513.71 q1.61 2.72 2.42 3.2" fill="none" stroke="#b4b4b4" stroke-width="0.7"/>
<path d="M470.42 499.45 q-2.44 0.5 -2.91 -0.15" fill="none" stroke="#a8a8a8" stroke-width="0.7"/>
<path d="M474.42 504.27 q2.29 1.45 2.26 3.11" fill="none" stroke="#f6f6f6" stroke-width="0.7"/>
<path d="M481.33 507.14 q3.46 -0.33 4.04 0.14" fill="none" stroke="#f6f6f6" stroke-width="0.7"/>
<path d="M462.48 512.67 q-0.59 1.48 -1.72 4" fill="none" stroke="#c0c0c0" stroke-width="0.7"/>
<path d="M468.35 513.9 q-1.66 -1.31 -2.38 -3.81" fill="none" stroke="#b4b4b4" stroke-width="0.7"/>
<path d="M469.83 513.85 q1.56 -1.17 2.94 -1.84" fill="none" stroke="#f6f6f6" stroke-width="0.7"/>
<path d="M482.83 500.13 q3.65 0.71 4.35 -0.53" fill="none" stroke="#f6f6f6" stroke-width="0.7"/>
<path d="M473.72 495.82 q0.13 -0.07 2.64 0.04" fill="none" stroke="#f6f6f6" stroke-width="0.7"/>
<path d="M480.7 503.91 q2.81 0.53 2.69 -1.04" fill="none" stroke="#a8a8a8" stroke-width="0.7"/>
<path d="M477.4 509.45 q-2.15 0.95 -1.61 2.38" fill="none" stroke="#f6f6f6" stroke-width="0.7"/>
<path d="M476.4 496.07 q-1.26 -0.6 -1.03 -2.3" fill="none" stroke="#b4b4b4" stroke-width="0.7"/>
<path d="M483.26 499.8 q-0.62 0.59 -1.83 3.83" fill="none" stroke="#b4b4b4" stroke-width="0.7"/>
<path d="M484.19 500.17 q0.7 1.24 -1.11 2.27" fill="none" stroke="#a8a8a8" stroke-width="0.7"/>
<path d="M467.17 512.27 q2.13 -0.33 4.16 1.39" fill="none" stroke="#f6f6f6" stroke-width="0.7"/>
<path d="M468.77 496.41 q3.04 0.93 4.29 0.87" fill="none" stroke="#b4b4b4" stroke-width="0.7"/>
<path d="M485.72 511.35 q-0.63 -0.05 -0.99 2.36" fill="none" stroke="#f6f6f6" stroke-width="0.7"/>
<path d="M470.79 497.36 q-0.65 -0.7 0.12 -3.18" fill="none" stroke="#b4b4b4" stroke-width="0.7"/>
<path d="M484.5 504.09 q-0.46 -1.18 -1.09 -3.3" fill="none" stroke="#c0c0c0" stroke-width="0.7"/>
<path d="M485.51 502.94 q1.65 -1.01 3.77 -2.11" fill="none" stroke="#c0c0c0" stroke-width="0.7"/>
<path d="M475.78 506.3 q1.01 -1.8 2.9 -2.09" fill="none" stroke="#a8a8a8" stroke-width="0.7"/>
<path d="M459.38 513.15 q-0.12 -0.45 -1.83 -3.83" fill="none" stroke="#a8a8a8" stroke-width="0.7"/>
<line x1="471.5" y1="491" x2="471.5" y2="515" stroke="#c0c0c0" stroke-width="0.7"/>
</g>
<ellipse cx="481" cy="501.4" rx="3.9" ry="6" fill="#b23b3d"/>
<g>
<path d="M539.5 509 Q538 493 555 491 Q559 490 563 491 Q580 493 578.5 509 Q576 517 565 517 Q559 514 553 517 Z" fill="#e2e2e2" stroke="#bdbdbd" stroke-width="0.7"/>
<path d="M554.34 511.22 q-1.06 1.13 -3.36 -0.67" fill="none" stroke="#f6f6f6" stroke-width="0.7"/>
<path d="M559.94 494.52 q2.64 -0.39 4.3 -0.73" fill="none" stroke="#b4b4b4" stroke-width="0.7"/>
<path d="M554.19 501.61 q2 0.04 1.96 1.94" fill="none" stroke="#c0c0c0" stroke-width="0.7"/>
<path d="M556.8 508.31 q0.54 -0.92 2.21 -2.92" fill="none" stroke="#f6f6f6" stroke-width="0.7"/>
<path d="M570.41 498.06 q1.97 -1.16 2.45 -0.76" fill="none" stroke="#a8a8a8" stroke-width="0.7"/>
<path d="M548.46 501.93 q-0.07 1.35 2.75 -0.17" fill="none" stroke="#b4b4b4" stroke-width="0.7"/>
<path d="M552.86 502.29 q1.14 -1.68 1.16 -3" fill="none" stroke="#c0c0c0" stroke-width="0.7"/>
<path d="M565.1 505.91 q-1.01 1.68 -2.6 1.39" fill="none" stroke="#b4b4b4" stroke-width="0.7"/>
<path d="M570.36 505.11 q0.66 -0.04 4.2 1.57" fill="none" stroke="#a8a8a8" stroke-width="0.7"/>
<path d="M553.19 505.34 q-0.19 1.14 -0.65 2.94" fill="none" stroke="#c0c0c0" stroke-width="0.7"/>
<path d="M549.42 508.97 q1.11 1.19 -0.49 2.67" fill="none" stroke="#c0c0c0" stroke-width="0.7"/>
<path d="M542.75 508.76 q-1.41 -1.56 -3.49 -0.51" fill="none" stroke="#f6f6f6" stroke-width="0.7"/>
<path d="M560.91 510.44 q-0.04 -2.59 1.4 -4.03" fill="none" stroke="#c0c0c0" stroke-width="0.7"/>
<path d="M546.48 502.02 q-3.28 -1.19 -3.87 0.31" fill="none" stroke="#f6f6f6" stroke-width="0.7"/>
<path d="M573.14 499.23 q-2.64 0.19 -2.66 -0.88" fill="none" stroke="#a8a8a8" stroke-width="0.7"/>
<path d="M560.88 503.58 q-1.66 -1.67 -2.58 -2.58" fill="none" stroke="#b4b4b4" stroke-width="0.7"/>
<path d="M567.16 509.14 q-1.89 2.39 -0.94 3.64" fill="none" stroke="#c0c0c0" stroke-width="0.7"/>
<path d="M570.06 498.45 q-0.81 -1.08 0.98 -2.45" fill="none" stroke="#a8a8a8" stroke-width="0.7"/>
<path d="M550.48 513.29 q2.78 -1.59 3.38 -1.5" fill="none" stroke="#b4b4b4" stroke-width="0.7"/>
<path d="M568.71 503.73 q0.1 -2.57 0.38 -2.72" fill="none" stroke="#f6f6f6" stroke-width="0.7"/>
<path d="M551.35 496.86 q1.88 -0.29 2.43 -3.11" fill="none" stroke="#f6f6f6" stroke-width="0.7"/>
<path d="M553.6 507.43 q-0.41 -1.89 -1.75 -3.79" fill="none" stroke="#f6f6f6" stroke-width="0.7"/>
<path d="M574.48 509.82 q-1.04 -1.49 -1.05 -2.33" fill="none" stroke="#c0c0c0" stroke-width="0.7"/>
<path d="M556.24 513.42 q-0.18 -1.26 -2.64 -2.22" fill="none" stroke="#a8a8a8" stroke-width="0.7"/>
<path d="M546.14 512.62 q-0.42 0.32 1.08 3.25" fill="none" stroke="#b4b4b4" stroke-width="0.7"/>
<path d="M553.86 501.15 q-0.2 0.85 1.22 2.34" fill="none" stroke="#c0c0c0" stroke-width="0.7"/>
<path d="M544.3 511.22 q0.67 -0.75 -0.15 -3.07" fill="none" stroke="#a8a8a8" stroke-width="0.7"/>
<path d="M561.18 509.17 q-0.27 2.76 -0.57 2.99" fill="none" stroke="#b4b4b4" stroke-width="0.7"/>
<path d="M559.89 502.87 q2.78 0.46 3.27 0.42" fill="none" stroke="#a8a8a8" stroke-width="0.7"/>
<path d="M557.09 495.24 q1.83 0.76 2.6 -0.81" fill="none" stroke="#a8a8a8" stroke-width="0.7"/>
<path d="M568.1 502.58 q-2.93 1.6 -3.52 1.28" fill="none" stroke="#a8a8a8" stroke-width="0.7"/>
<path d="M547.79 501.08 q0.4 -0.47 -1.82 -2.62" fill="none" stroke="#b4b4b4" stroke-width="0.7"/>
<path d="M569.14 507 q-0.53 0.1 -3.33 1.85" fill="none" stroke="#a8a8a8" stroke-width="0.7"/>
<path d="M558.66 498.96 q2.3 -1.78 2.37 -3.41" fill="none" stroke="#a8a8a8" stroke-width="0.7"/>
<path d="M562.53 509.65 q-1.1 -0.22 -3.22 -0.93" fill="none" stroke="#f6f6f6" stroke-width="0.7"/>
<line x1="559" y1="491" x2="559" y2="515" stroke="#c0c0c0" stroke-width="0.7"/>
</g>
<circle cx="569.5" cy="500" r="8" fill="none" stroke="#aaa" stroke-width="0.6" stroke-dasharray="1 1"/>
<ellipse cx="567.5" cy="502.5" rx="4" ry="5" fill="#d98a8c"/>
<ellipse cx="567" cy="505" rx="3.4" ry="2.8" fill="#a8353a"/>
<ellipse cx="569.3" cy="497.3" rx="3.2" ry="2.8" fill="#5cc64a"/>
<path d="M345 466.75 H356.4 L358.3 519.3 H403.9 L405.8 466.75 H417.2" fill="none" stroke="#bfbfbf" stroke-width="3.9" stroke-linejoin="miter"/>
<path d="M435.5 466.75 H446.9 L448.8 519.3 H494.1 L496 466.75 H507.4" fill="none" stroke="#bfbfbf" stroke-width="3.9" stroke-linejoin="miter"/>
<path d="M523 466.75 H534.4 L536.3 519.3 H581.7 L583.6 466.75 H595" fill="none" stroke="#bfbfbf" stroke-width="3.9" stroke-linejoin="miter"/>
<g transform="translate(481 495.5) rotate(9.5)">
<line x1="0" y1="0" x2="0" y2="-15.5" stroke="#333" stroke-width="0.8"/>
<rect x="-2" y="-21.5" width="4" height="6" fill="#fff" stroke="#333" stroke-width="0.8"/>
<rect x="-3.75" y="-50" width="7.5" height="28.5" fill="#f4f4f4" stroke="#333" stroke-width="0.9"/>
<rect x="-2.7" y="-33" width="5.4" height="10.5" fill="#a81c20"/>
<line x1="0.5" y1="-47" x2="3.7" y2="-47" stroke="#333" stroke-width="0.8"/>
<line x1="0.5" y1="-44.5" x2="3.7" y2="-44.5" stroke="#333" stroke-width="0.8"/>
<line x1="0.5" y1="-42" x2="3.7" y2="-42" stroke="#333" stroke-width="0.8"/>
<line x1="0.5" y1="-39.5" x2="3.7" y2="-39.5" stroke="#333" stroke-width="0.8"/>
<rect x="-6.3" y="-51.6" width="12.6" height="1.6" fill="#333"/>
<rect x="-0.8" y="-58" width="1.6" height="6.5" fill="#333"/>
<rect x="-4.2" y="-59.3" width="8.4" height="1.5" fill="#333"/>
</g>
<g transform="translate(569 494.5) rotate(9.5)">
<line x1="0" y1="0" x2="0" y2="-15.5" stroke="#333" stroke-width="0.8"/>
<rect x="-2" y="-21.5" width="4" height="6" fill="#fff" stroke="#333" stroke-width="0.8"/>
<rect x="-3.75" y="-50" width="7.5" height="28.5" fill="#f4f4f4" stroke="#333" stroke-width="0.9"/>
<rect x="-2.7" y="-33" width="5.4" height="10.5" fill="#1f9a3f"/>
<line x1="0.5" y1="-47" x2="3.7" y2="-47" stroke="#333" stroke-width="0.8"/>
<line x1="0.5" y1="-44.5" x2="3.7" y2="-44.5" stroke="#333" stroke-width="0.8"/>
<line x1="0.5" y1="-42" x2="3.7" y2="-42" stroke="#333" stroke-width="0.8"/>
<line x1="0.5" y1="-39.5" x2="3.7" y2="-39.5" stroke="#333" stroke-width="0.8"/>
<rect x="-6.3" y="-51.6" width="12.6" height="1.6" fill="#333"/>
<rect x="-0.8" y="-58" width="1.6" height="6.5" fill="#333"/>
<rect x="-4.2" y="-59.3" width="8.4" height="1.5" fill="#333"/>
</g>
<line x1="417.5" y1="497.8" x2="430" y2="497.8" stroke="#444" stroke-width="0.9"/>
<polygon points="433.8,497.8 429.5,495.6 429.5,500" fill="#222"/>
<line x1="506.5" y1="497.4" x2="519" y2="497.4" stroke="#444" stroke-width="0.9"/>
<polygon points="523,497.4 518.5,495.2 518.5,499.6" fill="#222"/>
<ellipse cx="648.8" cy="485.4" rx="35.2" ry="31.7" fill="#ebe8e8" stroke="#333" stroke-width="0.9" stroke-dasharray="1 1.4"/>
<path d="M628 511 L627.8 470 Q630 465.5 635 465.5 L665 465.5 Q670 466 670 472 L670.2 511 Z" fill="#bdbdbd"/>
<path d="M628 511 L628 494 Q633 488 640 490 Q648 486 656 489 Q664 486 670.2 489 L670.2 511 Z" fill="#a8383b"/>
<ellipse cx="634" cy="498" rx="5" ry="3.5" fill="none" stroke="#c0595b" stroke-width="0.5"/>
<ellipse cx="645" cy="502" rx="6" ry="3.5" fill="none" stroke="#c0595b" stroke-width="0.5"/>
<ellipse cx="658" cy="500" rx="6" ry="3.5" fill="none" stroke="#c0595b" stroke-width="0.5"/>
<ellipse cx="636" cy="507" rx="5" ry="3" fill="none" stroke="#c0595b" stroke-width="0.5"/>
<ellipse cx="652" cy="508" rx="6" ry="3" fill="none" stroke="#c0595b" stroke-width="0.5"/>
<ellipse cx="665" cy="505" rx="4" ry="3" fill="none" stroke="#c0595b" stroke-width="0.5"/>
<path d="M630 478 Q629 470 636 469 Q640 465 648 467 Q656 464 662 469 Q669 469 669 477 Q671 485 667 490 Q664 496 656 495 Q650 499 643 496 Q636 498 632 492 Q628 486 630 478 Z" fill="#5ec64c"/>
<circle cx="638.44" cy="486.55" r="3.77" fill="#4fb941"/>
<circle cx="660.83" cy="493.75" r="3.45" fill="#55bf45"/>
<circle cx="649.67" cy="475.67" r="2.51" fill="#6acd58"/>
<circle cx="663.78" cy="480.28" r="2.79" fill="#55bf45"/>
<circle cx="663.41" cy="486.65" r="3.37" fill="#4fb941"/>
<circle cx="653.32" cy="470.82" r="3.16" fill="#4fb941"/>
<circle cx="655.9" cy="485.57" r="4.38" fill="#5ec64c"/>
<circle cx="638.11" cy="489.62" r="2.75" fill="#5ec64c"/>
<circle cx="647.95" cy="483.25" r="3.19" fill="#4fb941"/>
<circle cx="637.99" cy="485.96" r="3.44" fill="#55bf45"/>
<circle cx="635.46" cy="474.74" r="3.85" fill="#5ec64c"/>
<circle cx="637.04" cy="481.43" r="4.15" fill="#55bf45"/>
<circle cx="644.26" cy="473.51" r="3.57" fill="#6acd58"/>
<circle cx="645.05" cy="480.83" r="3.27" fill="#4fb941"/>
<circle cx="645.76" cy="470.64" r="2.69" fill="#4fb941"/>
<circle cx="633.09" cy="471.68" r="3.7" fill="#55bf45"/>
<circle cx="651.86" cy="477.65" r="4.46" fill="#5ec64c"/>
<circle cx="638.96" cy="474.08" r="3.2" fill="#6acd58"/>
<circle cx="644.44" cy="484.33" r="3.11" fill="#5ec64c"/>
<circle cx="638.57" cy="492.16" r="2.85" fill="#4fb941"/>
<circle cx="645.37" cy="486.4" r="3.85" fill="#55bf45"/>
<circle cx="646.43" cy="493.74" r="4.42" fill="#5ec64c"/>
<path d="M647 478 q3 -2 4 2 q1 4 -2 6 q-3 1 -4 -3 z" fill="#c9ecc0"/>
<line x1="570.5" y1="487.8" x2="624.7" y2="461.2" stroke="#333" stroke-width="0.9" stroke-dasharray="1 1.4"/>
<line x1="571" y1="503.5" x2="627.8" y2="511.3" stroke="#333" stroke-width="0.9" stroke-dasharray="1 1.4"/>
<text x="386.5" y="535" font-size="10.3" text-anchor="middle" font-weight="normal" fill="#231f20">3D Printed</text>
<text x="386.5" y="546.3" font-size="10.3" text-anchor="middle" font-weight="normal" fill="#231f20">Brain with</text>
<text x="386.5" y="558.2" font-size="10.3" text-anchor="middle" font-weight="normal" fill="#231f20">resection cavity</text>
<text x="474.7" y="541.6" font-size="10.3" text-anchor="middle" font-weight="normal" fill="#231f20">Tumor cell injection</text>
<text x="474.7" y="552.8" font-size="10.3" text-anchor="middle" font-weight="normal" fill="#231f20">into cavity</text>
<text x="564.6" y="535.5" font-size="10.3" text-anchor="middle" font-weight="normal" fill="#231f20">Tumor resection</text>
<text x="564.6" y="546.8" font-size="10.3" text-anchor="middle" font-weight="normal" fill="#231f20">and EnMSC<tspan dy="-4" font-size="6.5">Bif</tspan></text>
<text x="564.6" y="557.6" font-size="10.3" text-anchor="middle" font-weight="normal" fill="#231f20">implantation</text>
<text x="9.8" y="595.8" font-size="15.5" text-anchor="start" font-weight="bold" fill="#000">h</text>
<polygon points="35.2,600 99.8,600 120,617.7 14.7,617.7" fill="#c8c8c8"/>
<rect x="14.7" y="617.7" width="105.3" height="103.2" fill="#333333"/>
<rect x="42.4" y="622.2" width="5" height="5" fill="#e3242b"/>
<rect x="59" y="622.2" width="5" height="5" fill="#e3242b"/>
<rect x="75.8" y="622.2" width="5" height="5" fill="#e3242b"/>
<rect x="92.6" y="622.2" width="5" height="5" fill="#e3242b"/>
<rect x="26" y="632.8" width="82.2" height="63.8" fill="#bdbdbd"/>
<polygon points="34.3,632.8 41,632.8 41,677.3 34.3,683.1" fill="#939393"/>
<polygon points="93.9,632.8 101.5,632.8 101.5,683.1 93.9,677.3" fill="#939393"/>
<rect x="41" y="632.8" width="52.9" height="44.5" fill="#b9e2ea"/>
<polygon points="41,677.3 93.9,677.3 101.5,683.1 34.3,683.1" fill="#9a9a9a"/>
<polygon points="34.3,683.1 101.5,683.1 108.2,696.6 26,696.6" fill="#c6c6c6"/>
<path d="M29.3 634 V643.7 H104 V634" fill="none" stroke="#fff" stroke-width="0.8"/>
<path d="M60 640 H74.1 V647 L69 651 L67.1 654.6 L65.2 651 L60 647 Z" fill="#fff"/>
<line x1="67" y1="654.6" x2="66.2" y2="672" stroke="#e88aa8" stroke-width="1.2"/>
<path d="M54 679 Q52 671 58 668 Q62 664.5 68 665 Q76 665 80 671 Q83 677 80 684 Q76 689.5 67 689 Q58 689.5 55 685 Z" fill="#ddd3e3" stroke="#111" stroke-width="1.1"/>
<path d="M56 680 Q64 683 70 679 Q76 676 80 678" fill="none" stroke="#111" stroke-width="0.8"/>
<path d="M58 685 Q66 687 73 683" fill="none" stroke="#111" stroke-width="0.6"/>
<path d="M60 671 Q64 668 70 669" fill="none" stroke="#fff" stroke-width="1.4"/>
<path d="M56 681 Q66 686 80 680 Q80 686 72 688.3 Q62 689.5 56.5 686 Z" fill="#b898aa"/>
<circle cx="67.9" cy="671.9" r="2" fill="#e3242b"/>
<circle cx="67.1" cy="709.2" r="6.2" fill="#fff"/>
<circle cx="67.1" cy="709.2" r="5.4" fill="#e3242b"/>
<path d="M128.5 656 Q131 651 134.3 648.7 Q141 643.5 148.5 642.9 Q156 641.5 164.2 642.4 Q172 644 176.9 649.7 Q181 656 183.2 664.4 Q184.5 669 183.7 673.9 Q182 682 176.9 687.6 Q170 692 163.2 693.9 Q156 697 149.5 696.5 Q142 696 136.9 693.9 Q128 690 124.3 684.4 Q121.5 680 122.2 674.9 Q122 669 124.3 664.4 Q126 659 128.5 656 Z" fill="#f7ccd7" stroke="#444" stroke-width="0.75"/>
<path d="M149.5 684.4 Q158 681 170 679" fill="none" stroke="#e8b8b4" stroke-width="2.2"/>
<path d="M178.5 656 Q181.5 663 180 670" fill="none" stroke="#ecbcbc" stroke-width="2.2"/>
<path d="M124.3 664.4 Q130 667 134.8 666.5 Q135 680 134.8 691.8" fill="none" stroke="#444" stroke-width="0.6"/>
<path d="M134.8 666.5 Q142 668 149.5 669.7 Q156 671.5 162.1 670.7 Q170 666 176.9 658.1" fill="none" stroke="#444" stroke-width="0.6"/>
<path d="M152.7 643.4 Q146 648 142 653 Q139 658 139 661 Q137 664 134.8 666.5" fill="none" stroke="#444" stroke-width="0.6"/>
<path d="M136.9 685.4 Q150 682 165.3 679.1" fill="none" stroke="#444" stroke-width="0.5"/>
<path d="M143 692 Q156 689 168 685" fill="none" stroke="#444" stroke-width="0.5"/>
<path d="M170 689 Q176 684 180 677" fill="none" stroke="#444" stroke-width="0.5"/>
<path d="M124 677 Q128 684 134 690" fill="none" stroke="#444" stroke-width="0.4"/>
<ellipse cx="165.3" cy="651.8" rx="2.4" ry="1.4" fill="#ffffff" transform="rotate(-40 165.3 651.8)" opacity="0.9"/>
<ellipse cx="142.2" cy="662.3" rx="1.4" ry="2.6" fill="#ffffff" transform="rotate(20 142.2 662.3)" opacity="0.9"/>
<ellipse cx="128.5" cy="675" rx="1.2" ry="2.4" fill="#ffffff" transform="rotate(10 128.5 675)" opacity="0.9"/>
<ellipse cx="139" cy="677" rx="1.1" ry="2.6" fill="#ffffff" transform="rotate(-10 139 677)" opacity="0.9"/>
<ellipse cx="171.6" cy="670.7" rx="1.4" ry="2.8" fill="#ffffff" transform="rotate(15 171.6 670.7)" opacity="0.9"/>
<ellipse cx="167" cy="650" rx="1.2" ry="2.5" fill="#ffffff" transform="rotate(30 167 650)" opacity="0.9"/>
<path d="M150.2 657 L160 658 Q158.5 664 156 669.5 Q152.5 670.5 150.5 667 Z" fill="#f19ab5"/>
<ellipse cx="155.3" cy="656.5" rx="5.3" ry="4.4" fill="#e41e2a" transform="rotate(15 155.3 656.5)"/>
<line x1="187.2" y1="600.5" x2="187.2" y2="721" stroke="#d33" stroke-width="1"/>
<line x1="187.2" y1="600.5" x2="190.5" y2="600.5" stroke="#d33" stroke-width="1"/>
<line x1="187.2" y1="721" x2="190.5" y2="721" stroke="#d33" stroke-width="1"/>
<line x1="184.5" y1="660.5" x2="187.2" y2="660.5" stroke="#d33" stroke-width="1"/>
<text x="252.7" y="596.7" font-size="10.6" text-anchor="middle" font-weight="normal" fill="#111">Printing along the inner wall</text>
<text x="256" y="732.7" font-size="10.6" text-anchor="middle" font-weight="normal" fill="#111">Filling the cavity with printing</text>
<defs><radialGradient id="domeB" cx="0.45" cy="0.35" r="0.7"><stop offset="0" stop-color="#6ec0de"/><stop offset="0.7" stop-color="#3f98bb"/><stop offset="1" stop-color="#2a6b8a"/></radialGradient><radialGradient id="domeC" cx="0.5" cy="0.55" r="0.6"><stop offset="0" stop-color="#d6cfc8"/><stop offset="0.6" stop-color="#a89c92"/><stop offset="1" stop-color="#6a5a4e"/></radialGradient><radialGradient id="domeD" cx="0.45" cy="0.45" r="0.65"><stop offset="0" stop-color="#d8e6f6"/><stop offset="0.5" stop-color="#7fa6dc"/><stop offset="1" stop-color="#3b4f86"/></radialGradient><radialGradient id="domeE" cx="0.5" cy="0.7" r="0.65"><stop offset="0" stop-color="#dcd8d0"/><stop offset="0.55" stop-color="#aaa498"/><stop offset="1" stop-color="#5e5448"/></radialGradient><radialGradient id="pinkS" cx="0.4" cy="0.35" r="0.6"><stop offset="0" stop-color="#fbd0ee"/><stop offset="1" stop-color="#e678c4"/></radialGradient></defs>
<rect x="190.9" y="599.9" width="62.7" height="60.1" fill="#0c0d12"/>
<rect x="253.6" y="599.9" width="63.4" height="60.1" fill="#6f5c50"/>
<rect x="190.9" y="660" width="62.7" height="61.1" fill="#2b2a22"/>
<rect x="253.6" y="660" width="63.4" height="61.1" fill="#4b4136"/>
<line x1="190.9" y1="660.2" x2="317" y2="660.2" stroke="#9a9a9a" stroke-width="1"/>
<line x1="253.6" y1="599.9" x2="253.6" y2="721" stroke="#444" stroke-width="0.6"/>
<path d="M195.5 645 Q196 612 222 606 Q246 606 249 640 Q248 655 236 659 L205 659 Q196 655 195.5 645 Z" fill="url(#domeB)"/>
<path d="M200 640 Q222 650 246 640" fill="none" stroke="#7ccbe6" stroke-width="1"/>
<ellipse cx="230.5" cy="622" rx="6.8" ry="6.3" fill="#f29ab4"/>
<ellipse cx="230.5" cy="622" rx="3.2" ry="2.8" fill="#ffffff"/>
<rect x="230" y="656" width="16" height="4" fill="#a0304a"/>
<path d="M258 640 Q258 610 285.5 606 Q313 610 313 640 Q312 656 295 658 L275 658 Q259 655 258 640 Z" fill="url(#domeC)"/>
<path d="M261 642 Q270 632 290 638 Q300 642 306 650" fill="none" stroke="#f4f0ea" stroke-width="3"/>
<path d="M264 648 Q280 644 298 652" fill="none" stroke="#e8e0d6" stroke-width="2.5"/>
<path d="M268 615 Q275 612 280 618" fill="none" stroke="#8a7a60" stroke-width="2"/>
<ellipse cx="287.5" cy="622.5" rx="5.5" ry="5" fill="#d27791"/>
<ellipse cx="287.5" cy="622" rx="2.5" ry="2" fill="#f4e8e8"/>
<path d="M194 697 Q194 668 220 663 Q248 664 251 695 Q250 716 232 719 L210 719 Q195 714 194 697 Z" fill="url(#domeD)"/>
<path d="M231 665 Q248 668 248 690 Q245 698 236 697 Q228 690 231 665 Z" fill="#f3c6dd"/>
<path d="M198 690 Q215 684 232 694" fill="none" stroke="#ffffff" stroke-width="1.5"/>
<path d="M198 702 Q218 698 240 706" fill="none" stroke="#c9d8f0" stroke-width="1.3"/>
<rect x="224" y="714" width="24" height="7" fill="#b03a58"/>
<path d="M260 700 Q259 669 287 664 Q314 667 314 700 Q313 715 298 719 L276 719 Q261 715 260 700 Z" fill="url(#domeE)"/>
<circle cx="291" cy="686" r="9.2" fill="url(#pinkS)"/>
<path d="M262 700 Q280 712 310 702" fill="none" stroke="#e6e2da" stroke-width="4" opacity="0.8"/>
<path d="M266 706 Q285 716 306 708" fill="none" stroke="#f2f0ea" stroke-width="2"/>
<defs><filter id="jb" x="0" y="0" width="100%" height="100%"><feGaussianBlur stdDeviation="0.85"/></filter><filter id="jb2" x="0" y="0" width="100%" height="100%"><feGaussianBlur stdDeviation="0.45"/></filter></defs>
<text x="14.9" y="775.5" font-size="15.5" text-anchor="start" font-weight="bold" fill="#000">i</text>
<defs><clipPath id="ci1"><rect x="13.9" y="808.8" width="44.4" height="48.9"/></clipPath><clipPath id="ci2"><rect x="67.2" y="799.9" width="71.9" height="72"/></clipPath></defs>
<rect x="13.9" y="808.8" width="44.4" height="48.9" fill="#565656"/>
<g clip-path="url(#ci1)">
<ellipse cx="34.2" cy="834.5" rx="16.5" ry="18.3" fill="#e8e8e8" transform="rotate(-15 34.2 834.5)"/>
<ellipse cx="35.5" cy="833" rx="15.5" ry="17" fill="#a9a9a9" transform="rotate(-15 35.5 833)"/>
<rect x="40.51" y="833.43" width="0.97" height="0.85" fill="#777"/>
<rect x="45.94" y="829.29" width="0.98" height="1.69" fill="#c8c8c8"/>
<rect x="32.59" y="827.81" width="1.68" height="1.43" fill="#bdbdbd"/>
<rect x="38.73" y="845.2" width="0.82" height="1.93" fill="#8c8c8c"/>
<rect x="30.02" y="837.21" width="1.27" height="1.52" fill="#d8d8d8"/>
<rect x="35.78" y="847.04" width="1.5" height="1.46" fill="#777"/>
<rect x="48.66" y="828.67" width="0.96" height="0.98" fill="#d8d8d8"/>
<rect x="38.13" y="823.3" width="1.68" height="1.84" fill="#8c8c8c"/>
<rect x="31.42" y="826.73" width="1.68" height="1.03" fill="#777"/>
<rect x="31.05" y="827.02" width="1.12" height="1.15" fill="#8c8c8c"/>
<rect x="26.13" y="828" width="1.95" height="1.97" fill="#d8d8d8"/>
<rect x="48.82" y="832.4" width="1.88" height="1.47" fill="#d8d8d8"/>
<rect x="48.14" y="827.08" width="0.91" height="1.03" fill="#d8d8d8"/>
<rect x="45.73" y="826.91" width="1.6" height="1.14" fill="#8c8c8c"/>
<rect x="30.8" y="847.2" width="0.94" height="1.04" fill="#c8c8c8"/>
<rect x="30.71" y="842.05" width="1.47" height="0.94" fill="#8c8c8c"/>
<rect x="47.59" y="842.52" width="1.95" height="1.04" fill="#8c8c8c"/>
<rect x="43.31" y="846.99" width="1.37" height="1.4" fill="#c8c8c8"/>
<rect x="37.39" y="824.55" width="1.98" height="1.39" fill="#d8d8d8"/>
<rect x="23.82" y="824.77" width="0.97" height="1.67" fill="#777"/>
<rect x="30.31" y="817.76" width="1.11" height="1.72" fill="#8c8c8c"/>
<rect x="44.32" y="832.09" width="0.92" height="1.5" fill="#8c8c8c"/>
<rect x="21.41" y="838.49" width="0.95" height="1.84" fill="#c8c8c8"/>
<rect x="46.68" y="836.99" width="1.75" height="1.94" fill="#c8c8c8"/>
<rect x="43.82" y="822.81" width="1.35" height="1.63" fill="#bdbdbd"/>
<rect x="21.75" y="830.67" width="1.07" height="1.03" fill="#777"/>
<rect x="29.23" y="826.96" width="1.19" height="1.25" fill="#777"/>
<rect x="26.75" y="831.62" width="1.93" height="1.63" fill="#c8c8c8"/>
<rect x="30.14" y="829.77" width="1.68" height="1.05" fill="#8c8c8c"/>
<rect x="35.9" y="848.49" width="1.31" height="1.65" fill="#c8c8c8"/>
<rect x="28.36" y="830.9" width="1.68" height="1.79" fill="#d8d8d8"/>
<rect x="47.01" y="835.66" width="1.11" height="1.04" fill="#d8d8d8"/>
<rect x="39.03" y="823.84" width="0.84" height="1.33" fill="#777"/>
<rect x="33.55" y="825.21" width="1.21" height="1.64" fill="#d8d8d8"/>
<rect x="26.59" y="843.67" width="1.96" height="1.86" fill="#8c8c8c"/>
<rect x="30.59" y="818.42" width="1.92" height="1.13" fill="#777"/>
<rect x="36.65" y="835.76" width="0.98" height="1.77" fill="#777"/>
<rect x="42.81" y="818.77" width="1.26" height="1.71" fill="#d8d8d8"/>
<rect x="31.03" y="847.98" width="1.17" height="1.87" fill="#bdbdbd"/>
<rect x="42.7" y="831.46" width="1.82" height="1.45" fill="#c8c8c8"/>
<rect x="33.53" y="837.63" width="1.65" height="0.82" fill="#bdbdbd"/>
<rect x="44.25" y="826.57" width="1.61" height="1.42" fill="#d8d8d8"/>
<rect x="40.74" y="825.88" width="1.28" height="1.06" fill="#777"/>
<rect x="45.44" y="823.54" width="1.79" height="1.09" fill="#8c8c8c"/>
<rect x="34.6" y="829.52" width="1.62" height="1.19" fill="#777"/>
<rect x="48.81" y="831.45" width="1.19" height="1.68" fill="#8c8c8c"/>
<rect x="36.13" y="822.23" width="1.17" height="1.76" fill="#8c8c8c"/>
<rect x="42.03" y="829.87" width="1.46" height="0.89" fill="#777"/>
<rect x="25.19" y="833.46" width="1.38" height="1.37" fill="#d8d8d8"/>
<rect x="29.9" y="818.6" width="1.08" height="1.99" fill="#d8d8d8"/>
<rect x="26.73" y="835.14" width="1.27" height="1.84" fill="#bdbdbd"/>
<rect x="30.56" y="827.95" width="1.93" height="1.62" fill="#c8c8c8"/>
<rect x="37.07" y="830.24" width="1.34" height="1.28" fill="#777"/>
<rect x="40.73" y="820.07" width="1.89" height="1.31" fill="#bdbdbd"/>
<rect x="23.03" y="827.95" width="0.87" height="1.85" fill="#777"/>
<rect x="31.09" y="846.02" width="0.95" height="1.26" fill="#c8c8c8"/>
<rect x="36.68" y="842.55" width="1.73" height="1.8" fill="#777"/>
<rect x="24.4" y="824.38" width="1.21" height="1.02" fill="#777"/>
<rect x="36.64" y="841.32" width="0.94" height="1.82" fill="#c8c8c8"/>
<rect x="33.34" y="824.12" width="1.32" height="0.89" fill="#777"/>
<rect x="46.62" y="841.26" width="1.84" height="1.37" fill="#bdbdbd"/>
<rect x="41.66" y="841.54" width="0.87" height="1.52" fill="#c8c8c8"/>
<rect x="30.12" y="846.98" width="0.87" height="1.19" fill="#bdbdbd"/>
<rect x="30.42" y="818.91" width="1.46" height="1.51" fill="#c8c8c8"/>
<rect x="36.32" y="824.57" width="1.17" height="1.27" fill="#bdbdbd"/>
<rect x="27.61" y="836.35" width="1.97" height="1.11" fill="#bdbdbd"/>
<rect x="45.97" y="838.85" width="1.63" height="0.97" fill="#c8c8c8"/>
<rect x="47.84" y="829.54" width="1.31" height="1.96" fill="#c8c8c8"/>
<rect x="40.53" y="843.43" width="1.23" height="1.27" fill="#bdbdbd"/>
<rect x="46.38" y="824.01" width="0.82" height="1.25" fill="#d8d8d8"/>
</g>
<rect x="45.4" y="834.5" width="2.2" height="2.4" fill="#ea2228"/>
<rect x="43.38" y="840.09" width="2.2" height="2.4" fill="#ea2228"/>
<rect x="38.5" y="842.4" width="2.2" height="2.4" fill="#ea2228"/>
<rect x="33.62" y="840.09" width="2.2" height="2.4" fill="#ea2228"/>
<rect x="31.6" y="834.5" width="2.2" height="2.4" fill="#ea2228"/>
<rect x="33.62" y="828.91" width="2.2" height="2.4" fill="#ea2228"/>
<rect x="38.5" y="826.6" width="2.2" height="2.4" fill="#ea2228"/>
<rect x="43.38" y="828.91" width="2.2" height="2.4" fill="#ea2228"/>
<rect x="45.1" y="851.7" width="9.8" height="2.1" fill="#fff"/>
<g clip-path="url(#ci2)">
<rect x="67.2" y="799.9" width="71.9" height="72" fill="#fbfbfb"/>
<path d="M67.2 799.9 L104 799.9 Q119 806 127 819 Q133.5 832 137.3 850 L139.5 872 L117.4 872 Q117 858 112.5 846.2 Q106 832 96.7 822.6 Q85 812 75 806.8 L67.2 806 Z" fill="#3e3e3e"/>
<clipPath id="cband"><path d="M67.2 799.9 L104 799.9 Q119 806 127 819 Q133.5 832 137.3 850 L139.5 872 L117.4 872 Q117 858 112.5 846.2 Q106 832 96.7 822.6 Q85 812 75 806.8 L67.2 806 Z"/></clipPath>
<g clip-path="url(#cband)"><g filter="url(#jb2)">
<rect x="94.81" y="815.84" width="3.27" height="1.62" fill="#9a9a9a"/>
<rect x="132.44" y="819.69" width="2.08" height="2.17" fill="#2a2a2a"/>
<rect x="109.08" y="856.03" width="2.21" height="1.25" fill="#f5f5f5"/>
<rect x="77.94" y="851.79" width="1.79" height="2.11" fill="#9a9a9a"/>
<rect x="109.62" y="807.75" width="2.19" height="1.45" fill="#f5f5f5"/>
<rect x="120.64" y="804.31" width="2.88" height="1.2" fill="#bbbbbb"/>
<rect x="115.91" y="808.04" width="2.78" height="2.57" fill="#9a9a9a"/>
<rect x="70.91" y="822.2" width="2.6" height="1.29" fill="#f5f5f5"/>
<rect x="131.81" y="860.8" width="2.12" height="1.17" fill="#2a2a2a"/>
<rect x="73.83" y="800.57" width="3.18" height="1.37" fill="#6a6a6a"/>
<rect x="73.27" y="804.68" width="2.18" height="2.19" fill="#ffffff"/>
<rect x="106.4" y="863.27" width="1.94" height="1.22" fill="#6a6a6a"/>
<rect x="71.8" y="801.89" width="3.47" height="2.13" fill="#e8e8e8"/>
<rect x="132.32" y="829.17" width="2.6" height="1.67" fill="#e8e8e8"/>
<rect x="128.93" y="869.2" width="1.71" height="1.58" fill="#1e1e1e"/>
<rect x="100.55" y="851.71" width="1.39" height="2.07" fill="#6a6a6a"/>
<rect x="106.58" y="866.82" width="1.84" height="2.44" fill="#1e1e1e"/>
<rect x="90.78" y="866.5" width="3.01" height="1.47" fill="#ffffff"/>
<rect x="99.2" y="804.88" width="1.69" height="1.36" fill="#9a9a9a"/>
<rect x="101.22" y="816.58" width="2.46" height="2" fill="#1e1e1e"/>
<rect x="102.97" y="807.9" width="2.76" height="1.19" fill="#ffffff"/>
<rect x="139.82" y="842.71" width="2.47" height="1.8" fill="#1e1e1e"/>
<rect x="137.86" y="864.24" width="1.27" height="1.94" fill="#bbbbbb"/>
<rect x="135.74" y="845.6" width="2.15" height="2.56" fill="#9a9a9a"/>
<rect x="137.19" y="802.06" width="1.69" height="1.64" fill="#bbbbbb"/>
<rect x="135.04" y="868.73" width="1.55" height="2.37" fill="#2a2a2a"/>
<rect x="111.67" y="859.55" width="2.63" height="1.67" fill="#2a2a2a"/>
<rect x="96.43" y="834.88" width="1.42" height="1.75" fill="#1e1e1e"/>
<rect x="99.21" y="834.32" width="1.87" height="1.4" fill="#6a6a6a"/>
<rect x="101.43" y="840.55" width="1.32" height="2.32" fill="#ffffff"/>
<rect x="119.3" y="850.7" width="2.94" height="2.01" fill="#f5f5f5"/>
<rect x="97.12" y="835.4" width="2.53" height="1.68" fill="#bbbbbb"/>
<rect x="68.19" y="811.1" width="1.54" height="2.05" fill="#ffffff"/>
<rect x="105.75" y="800.97" width="2.63" height="1.89" fill="#2a2a2a"/>
<rect x="105.36" y="816.98" width="1.3" height="1.52" fill="#9a9a9a"/>
<rect x="104.25" y="812.45" width="2.51" height="2.15" fill="#e8e8e8"/>
<rect x="80.85" y="812.18" width="1.4" height="2.05" fill="#6a6a6a"/>
<rect x="135.28" y="861.51" width="2.84" height="1.17" fill="#f5f5f5"/>
<rect x="95.37" y="803.88" width="2.74" height="2.2" fill="#bbbbbb"/>
<rect x="94.17" y="857.03" width="1.37" height="1.62" fill="#e8e8e8"/>
<rect x="78.71" y="832.38" width="1.57" height="1.14" fill="#2a2a2a"/>
<rect x="128.53" y="822.02" width="1.94" height="1.03" fill="#bbbbbb"/>
<rect x="70.84" y="829.94" width="3.26" height="2.46" fill="#e8e8e8"/>
<rect x="137.36" y="819.11" width="2" height="1.27" fill="#2a2a2a"/>
<rect x="132.67" y="833.48" width="2.31" height="1.4" fill="#ffffff"/>
<rect x="117.08" y="837.86" width="2.52" height="1.26" fill="#2a2a2a"/>
<rect x="135.47" y="857.64" width="2.93" height="1.84" fill="#f5f5f5"/>
<rect x="81.11" y="847.54" width="1.85" height="2.48" fill="#2a2a2a"/>
<rect x="88.34" y="819.87" width="3.14" height="2.59" fill="#e8e8e8"/>
<rect x="89.29" y="828.56" width="2.06" height="2.52" fill="#f5f5f5"/>
<rect x="94.28" y="856.53" width="2.17" height="1.35" fill="#6a6a6a"/>
<rect x="127.36" y="803.48" width="1.25" height="1.79" fill="#bbbbbb"/>
<rect x="117.38" y="836.22" width="3.17" height="2" fill="#6a6a6a"/>
<rect x="138.67" y="852.18" width="2.25" height="1.13" fill="#ffffff"/>
<rect x="132.2" y="864.42" width="3.07" height="2.53" fill="#e8e8e8"/>
<rect x="137.95" y="855.19" width="1.4" height="2.09" fill="#f5f5f5"/>
<rect x="87.03" y="869.77" width="1.82" height="1.05" fill="#ffffff"/>
<rect x="112.14" y="844.08" width="3.33" height="2.3" fill="#e8e8e8"/>
<rect x="124.17" y="867.72" width="2.09" height="1.75" fill="#ffffff"/>
<rect x="94.05" y="868.76" width="3.27" height="1.83" fill="#e8e8e8"/>
<rect x="104.3" y="849.16" width="1.68" height="2.51" fill="#2a2a2a"/>
<rect x="113.41" y="857.3" width="2.33" height="1.14" fill="#6a6a6a"/>
<rect x="105.23" y="810.7" width="1.4" height="2.44" fill="#e8e8e8"/>
<rect x="135.36" y="822.8" width="3.4" height="1.28" fill="#1e1e1e"/>
<rect x="138.88" y="809.8" width="2.54" height="2.25" fill="#bbbbbb"/>
<rect x="72.92" y="804.32" width="3" height="2.04" fill="#e8e8e8"/>
<rect x="73.62" y="871.01" width="1.76" height="1.12" fill="#bbbbbb"/>
<rect x="131.34" y="805.09" width="2.92" height="1.3" fill="#9a9a9a"/>
<rect x="100.41" y="838.59" width="2.3" height="1.47" fill="#2a2a2a"/>
<rect x="92.4" y="860.81" width="2" height="1.77" fill="#6a6a6a"/>
<rect x="92.3" y="827.2" width="1.54" height="1.15" fill="#2a2a2a"/>
<rect x="99.63" y="820.14" width="2.25" height="1.25" fill="#6a6a6a"/>
<rect x="102.25" y="867.63" width="1.73" height="1.55" fill="#bbbbbb"/>
<rect x="75.15" y="820.15" width="3.17" height="2.57" fill="#2a2a2a"/>
<rect x="82.6" y="799.43" width="2.92" height="2.07" fill="#6a6a6a"/>
<rect x="110.26" y="866.48" width="1.73" height="1.16" fill="#6a6a6a"/>
<rect x="98.31" y="828.65" width="2.47" height="1.15" fill="#9a9a9a"/>
<rect x="124.02" y="842.35" width="2.14" height="2.34" fill="#1e1e1e"/>
<rect x="137.36" y="828.09" width="3.25" height="1.46" fill="#ffffff"/>
<rect x="95.96" y="830.64" width="1.66" height="1.55" fill="#2a2a2a"/>
<rect x="128.75" y="842.96" width="1.28" height="1.52" fill="#9a9a9a"/>
<rect x="127.99" y="828.34" width="3.19" height="1.08" fill="#f5f5f5"/>
<rect x="110.7" y="857.09" width="3.36" height="2.07" fill="#2a2a2a"/>
<rect x="99.42" y="831.62" width="1.75" height="1.77" fill="#e8e8e8"/>
<rect x="122.51" y="805.59" width="1.91" height="1.09" fill="#9a9a9a"/>
<rect x="93.05" y="860.26" width="2.57" height="2.59" fill="#f5f5f5"/>
<rect x="137.06" y="859.45" width="2.05" height="1.36" fill="#bbbbbb"/>
<rect x="72.11" y="840.69" width="1.22" height="1.87" fill="#f5f5f5"/>
<rect x="68.11" y="805.14" width="1.49" height="1.85" fill="#6a6a6a"/>
<rect x="111.35" y="865.94" width="2.33" height="1.63" fill="#9a9a9a"/>
<rect x="106" y="806.65" width="2.27" height="1.3" fill="#9a9a9a"/>
<rect x="82.24" y="860.15" width="2.84" height="2.51" fill="#e8e8e8"/>
<rect x="138.96" y="854.86" width="1.31" height="1.15" fill="#9a9a9a"/>
<rect x="138.9" y="860.13" width="1.48" height="1.53" fill="#f5f5f5"/>
<rect x="107.31" y="818.38" width="1.33" height="1.3" fill="#2a2a2a"/>
<rect x="87.17" y="831.86" width="3.36" height="1.71" fill="#6a6a6a"/>
<rect x="84.23" y="831.48" width="1.36" height="1.7" fill="#f5f5f5"/>
<rect x="114.56" y="861.05" width="1.97" height="1.42" fill="#ffffff"/>
<rect x="68.54" y="865.89" width="1.22" height="2.16" fill="#2a2a2a"/>
<rect x="110.27" y="854.36" width="3.33" height="2.21" fill="#9a9a9a"/>
<rect x="80.55" y="831.65" width="2.36" height="1.77" fill="#9a9a9a"/>
<rect x="71.97" y="803.7" width="1.55" height="2.02" fill="#2a2a2a"/>
<rect x="99.75" y="806.47" width="1.86" height="1.84" fill="#2a2a2a"/>
<rect x="127.91" y="801.28" width="2.93" height="2.55" fill="#9a9a9a"/>
<rect x="91.26" y="845.52" width="3.34" height="2.26" fill="#2a2a2a"/>
<rect x="110.72" y="862.72" width="1.45" height="1.83" fill="#f5f5f5"/>
<rect x="116.49" y="865.71" width="2.99" height="2.44" fill="#2a2a2a"/>
<rect x="109.42" y="838.47" width="3.48" height="1.41" fill="#f5f5f5"/>
<rect x="117.3" y="852.64" width="1.64" height="2.27" fill="#bbbbbb"/>
<rect x="80.81" y="871.67" width="3.49" height="2.07" fill="#e8e8e8"/>
<rect x="84.54" y="857.99" width="3.12" height="2.27" fill="#9a9a9a"/>
<rect x="95.54" y="854.19" width="3.09" height="1.34" fill="#2a2a2a"/>
<rect x="139.01" y="841.02" width="2.39" height="2.25" fill="#ffffff"/>
<rect x="111.1" y="820.24" width="2.4" height="2.16" fill="#6a6a6a"/>
<rect x="68.29" y="826.53" width="3.01" height="1.84" fill="#f5f5f5"/>
<rect x="118.72" y="845.39" width="2.42" height="1.95" fill="#ffffff"/>
<rect x="126.91" y="804.92" width="3.46" height="1.08" fill="#ffffff"/>
<rect x="114.58" y="820.42" width="3.5" height="1.4" fill="#9a9a9a"/>
<rect x="81.07" y="845.66" width="3.36" height="1.34" fill="#1e1e1e"/>
<rect x="115.33" y="833.59" width="1.8" height="2.44" fill="#e8e8e8"/>
<rect x="133.62" y="815.62" width="2.16" height="1.56" fill="#1e1e1e"/>
<rect x="80.77" y="826.7" width="2.82" height="2.37" fill="#9a9a9a"/>
<rect x="136.17" y="867.74" width="2.55" height="1.4" fill="#1e1e1e"/>
<rect x="96.09" y="825.78" width="2.82" height="2.33" fill="#f5f5f5"/>
<rect x="115.02" y="869.26" width="1.2" height="1.13" fill="#e8e8e8"/>
<rect x="69.83" y="864.23" width="3.06" height="1.55" fill="#1e1e1e"/>
<rect x="114.82" y="864.63" width="3.04" height="2.39" fill="#9a9a9a"/>
<rect x="129.59" y="840.15" width="2.82" height="1.68" fill="#ffffff"/>
<rect x="88.85" y="830.36" width="1.72" height="1.69" fill="#f5f5f5"/>
<rect x="94.95" y="805.97" width="1.72" height="2.41" fill="#ffffff"/>
<rect x="108.96" y="863.96" width="2.26" height="1.82" fill="#ffffff"/>
<rect x="112.39" y="804.67" width="2.59" height="1.95" fill="#9a9a9a"/>
<rect x="134.75" y="853.31" width="2.82" height="1.38" fill="#e8e8e8"/>
<rect x="90.8" y="831.07" width="3.47" height="1.57" fill="#ffffff"/>
<rect x="127.74" y="844.26" width="2.24" height="1.67" fill="#9a9a9a"/>
<rect x="106.17" y="814.79" width="2.07" height="2.13" fill="#2a2a2a"/>
<rect x="124.95" y="816.04" width="2.85" height="2.07" fill="#ffffff"/>
<rect x="119.34" y="852.39" width="3.09" height="1.32" fill="#e8e8e8"/>
<rect x="82.32" y="827.53" width="1.61" height="2.49" fill="#ffffff"/>
<rect x="79.78" y="857.92" width="1.47" height="1.61" fill="#9a9a9a"/>
<rect x="82.53" y="832.64" width="3.05" height="2.21" fill="#9a9a9a"/>
<rect x="69.18" y="820.15" width="2.95" height="1.28" fill="#bbbbbb"/>
<rect x="78.38" y="834.71" width="1.71" height="1.71" fill="#e8e8e8"/>
<rect x="94.65" y="864.61" width="2.12" height="1.44" fill="#6a6a6a"/>
<rect x="128.05" y="835.32" width="2.86" height="2.56" fill="#e8e8e8"/>
<rect x="104.58" y="832.48" width="1.38" height="1.7" fill="#e8e8e8"/>
<rect x="83.02" y="843.59" width="3.37" height="1.02" fill="#ffffff"/>
<rect x="132.84" y="799.33" width="3.35" height="1.43" fill="#ffffff"/>
<rect x="87.85" y="812.12" width="2.55" height="1.53" fill="#f5f5f5"/>
<rect x="74.49" y="856.37" width="1.95" height="1.5" fill="#9a9a9a"/>
<rect x="105.36" y="826.4" width="2.3" height="1.77" fill="#2a2a2a"/>
<rect x="94.57" y="817.3" width="3.37" height="1.34" fill="#2a2a2a"/>
<rect x="94.44" y="851.48" width="2.68" height="1.79" fill="#bbbbbb"/>
<rect x="119.9" y="804.79" width="2.85" height="2.5" fill="#f5f5f5"/>
<rect x="71.73" y="862.95" width="1.24" height="1" fill="#e8e8e8"/>
<rect x="115.88" y="802.74" width="3.06" height="1.03" fill="#9a9a9a"/>
<rect x="104.39" y="869.14" width="2.22" height="2.04" fill="#2a2a2a"/>
<rect x="124.97" y="849.05" width="2.03" height="1.19" fill="#ffffff"/>
<rect x="131.38" y="807.16" width="1.98" height="1.49" fill="#9a9a9a"/>
<rect x="101.02" y="871.13" width="1.88" height="2.11" fill="#9a9a9a"/>
<rect x="127.08" y="803.17" width="2.29" height="2.41" fill="#f5f5f5"/>
<rect x="121.8" y="825.72" width="1.43" height="1.46" fill="#e8e8e8"/>
<rect x="131.89" y="801.58" width="2.22" height="1.19" fill="#f5f5f5"/>
<rect x="107.84" y="823.83" width="2" height="1.67" fill="#f5f5f5"/>
<rect x="113.87" y="863.65" width="3.38" height="1.85" fill="#e8e8e8"/>
<rect x="80.47" y="802.04" width="3.46" height="1.85" fill="#2a2a2a"/>
<rect x="107.63" y="802.04" width="2.36" height="2.29" fill="#f5f5f5"/>
<rect x="107.75" y="869.04" width="1.98" height="1.48" fill="#e8e8e8"/>
<rect x="78.94" y="815.75" width="2.16" height="1.86" fill="#e8e8e8"/>
<rect x="136.5" y="852.39" width="2.96" height="1.39" fill="#bbbbbb"/>
<rect x="70.08" y="850.1" width="2.79" height="1.97" fill="#9a9a9a"/>
<rect x="106.41" y="871.99" width="2.2" height="2.07" fill="#6a6a6a"/>
<rect x="94.73" y="847.01" width="2.35" height="1.07" fill="#ffffff"/>
<rect x="125.21" y="863.39" width="1.65" height="1.29" fill="#f5f5f5"/>
<rect x="99.88" y="826.36" width="2.44" height="1.26" fill="#2a2a2a"/>
<rect x="79.92" y="867.12" width="1.82" height="2.09" fill="#6a6a6a"/>
<rect x="132.29" y="828.73" width="2.98" height="2.46" fill="#e8e8e8"/>
<rect x="130.75" y="805.69" width="3.05" height="1.52" fill="#2a2a2a"/>
<rect x="109.08" y="812.83" width="1.9" height="2.18" fill="#6a6a6a"/>
<rect x="119.49" y="833.16" width="3.47" height="2.06" fill="#e8e8e8"/>
<rect x="82.4" y="850.23" width="1.87" height="1.5" fill="#bbbbbb"/>
<rect x="84.44" y="818.79" width="2.1" height="1.48" fill="#2a2a2a"/>
<rect x="95.32" y="813.97" width="2.57" height="1.86" fill="#ffffff"/>
<rect x="79.15" y="809.37" width="2.18" height="1.76" fill="#2a2a2a"/>
<rect x="77.94" y="817.41" width="2.17" height="1.24" fill="#f5f5f5"/>
<rect x="69.05" y="861.45" width="3.07" height="1.12" fill="#9a9a9a"/>
<rect x="122.04" y="820.83" width="1.65" height="1.3" fill="#ffffff"/>
<rect x="100.22" y="814.6" width="2.58" height="1.52" fill="#9a9a9a"/>
<rect x="90.93" y="859.09" width="1.9" height="1.6" fill="#f5f5f5"/>
<rect x="101.29" y="858.92" width="2.78" height="2.04" fill="#2a2a2a"/>
<rect x="72.9" y="805.59" width="1.36" height="2.51" fill="#1e1e1e"/>
<rect x="98.66" y="845.14" width="1.36" height="1.82" fill="#e8e8e8"/>
<rect x="83.93" y="803.36" width="1.54" height="1.13" fill="#9a9a9a"/>
<rect x="86.04" y="841.53" width="2.96" height="1.27" fill="#e8e8e8"/>
<rect x="113.3" y="825.66" width="1.71" height="1.33" fill="#e8e8e8"/>
<rect x="121.84" y="844.39" width="1.44" height="2.13" fill="#9a9a9a"/>
<rect x="76.68" y="821.3" width="3.08" height="2.3" fill="#2a2a2a"/>
<rect x="100.69" y="825.41" width="3.02" height="1.89" fill="#1e1e1e"/>
<rect x="136.63" y="837.9" width="2.14" height="1.71" fill="#e8e8e8"/>
<rect x="93.82" y="851.15" width="2.1" height="1.49" fill="#2a2a2a"/>
<rect x="106" y="840.23" width="1.36" height="2.16" fill="#9a9a9a"/>
<rect x="102.57" y="841.84" width="1.89" height="1.01" fill="#e8e8e8"/>
<rect x="85.46" y="869.44" width="3.16" height="2.3" fill="#6a6a6a"/>
<rect x="71.17" y="835.4" width="2.36" height="1.47" fill="#ffffff"/>
<rect x="71.61" y="818.51" width="2.42" height="2.23" fill="#bbbbbb"/>
<rect x="104.19" y="853.32" width="2.23" height="2.08" fill="#ffffff"/>
<rect x="70.26" y="836.19" width="1.82" height="2.39" fill="#1e1e1e"/>
<rect x="92.3" y="831.96" width="2.41" height="1.5" fill="#e8e8e8"/>
<rect x="108.81" y="807.48" width="3.39" height="1.72" fill="#ffffff"/>
<rect x="83.99" y="847.49" width="2.42" height="2.08" fill="#9a9a9a"/>
<rect x="87.79" y="836.89" width="3.47" height="1.96" fill="#f5f5f5"/>
<rect x="115.84" y="849.25" width="3.21" height="2.47" fill="#1e1e1e"/>
<rect x="135.43" y="811.38" width="3.26" height="1.58" fill="#2a2a2a"/>
<rect x="122.75" y="799.4" width="3.1" height="2.59" fill="#ffffff"/>
<rect x="99.27" y="832.02" width="1.52" height="1.09" fill="#2a2a2a"/>
<rect x="111.91" y="855.8" width="2.98" height="1.79" fill="#bbbbbb"/>
<rect x="139.61" y="854.76" width="3.27" height="1.24" fill="#1e1e1e"/>
<rect x="114.75" y="825.75" width="2.24" height="1.32" fill="#6a6a6a"/>
<rect x="135.63" y="837.33" width="2.02" height="1.34" fill="#9a9a9a"/>
<rect x="106.66" y="804.8" width="1.45" height="1.75" fill="#bbbbbb"/>
<rect x="128.93" y="801.21" width="2.34" height="1.76" fill="#1e1e1e"/>
<rect x="112.52" y="852.84" width="3.33" height="1.98" fill="#f5f5f5"/>
<rect x="89.91" y="828.64" width="2.55" height="1.61" fill="#ffffff"/>
<rect x="139.46" y="820.27" width="1.79" height="1.58" fill="#f5f5f5"/>
<rect x="81.91" y="858.77" width="1.25" height="2.17" fill="#2a2a2a"/>
<rect x="124.99" y="837.12" width="2.88" height="2.02" fill="#bbbbbb"/>
<rect x="80.88" y="814.91" width="2.8" height="1.05" fill="#bbbbbb"/>
<rect x="82.4" y="837.35" width="2.3" height="1.5" fill="#1e1e1e"/>
<rect x="93.97" y="847.05" width="3.32" height="1.84" fill="#9a9a9a"/>
<rect x="136.97" y="828.86" width="3.08" height="1.83" fill="#1e1e1e"/>
<rect x="68.42" y="864.38" width="2.87" height="1.99" fill="#2a2a2a"/>
<rect x="129.94" y="845.47" width="2.55" height="2.23" fill="#e8e8e8"/>
<rect x="129.09" y="846.43" width="2.73" height="2.35" fill="#6a6a6a"/>
<rect x="101.91" y="862.69" width="1.72" height="1.4" fill="#1e1e1e"/>
<rect x="70.76" y="852.91" width="2.55" height="1.45" fill="#f5f5f5"/>
<rect x="91.91" y="802.1" width="1.69" height="1.36" fill="#e8e8e8"/>
<rect x="87.66" y="856.9" width="1.29" height="1.23" fill="#2a2a2a"/>
<rect x="137.38" y="824.91" width="3.32" height="2.15" fill="#6a6a6a"/>
<rect x="132.17" y="856.48" width="1.24" height="1.22" fill="#1e1e1e"/>
<rect x="90.12" y="805.52" width="1.72" height="2.2" fill="#2a2a2a"/>
<rect x="78.6" y="847.48" width="2.39" height="2.03" fill="#ffffff"/>
<rect x="86.29" y="824.09" width="2.4" height="1.09" fill="#1e1e1e"/>
<rect x="84.41" y="826.5" width="3.18" height="1.64" fill="#ffffff"/>
<rect x="130.31" y="810.59" width="1.33" height="2.5" fill="#6a6a6a"/>
<rect x="110.06" y="869.32" width="2.34" height="1.54" fill="#ffffff"/>
<rect x="67.01" y="830.6" width="2.61" height="1.17" fill="#6a6a6a"/>
<rect x="108.37" y="817.77" width="1.45" height="2.25" fill="#bbbbbb"/>
<rect x="118.59" y="852.63" width="3.1" height="2.59" fill="#9a9a9a"/>
<rect x="89.09" y="820.62" width="2.74" height="2.19" fill="#e8e8e8"/>
<rect x="68.17" y="860.72" width="2.87" height="1.7" fill="#1e1e1e"/>
<rect x="96.97" y="824.63" width="3.02" height="1.57" fill="#1e1e1e"/>
<rect x="106.14" y="866.03" width="2.45" height="1.78" fill="#ffffff"/>
<rect x="72.98" y="844.65" width="2.81" height="1.89" fill="#ffffff"/>
<rect x="90.67" y="847.72" width="1.79" height="1.52" fill="#6a6a6a"/>
<rect x="105" y="842.87" width="1.87" height="1.13" fill="#9a9a9a"/>
<rect x="129.19" y="800.62" width="1.45" height="2.55" fill="#9a9a9a"/>
<rect x="83.92" y="864.1" width="2.3" height="1.02" fill="#e8e8e8"/>
<rect x="77.28" y="816.58" width="2.67" height="1.2" fill="#ffffff"/>
<rect x="139.19" y="816.06" width="1.69" height="1.46" fill="#9a9a9a"/>
<rect x="117.47" y="846.8" width="1.78" height="2.31" fill="#9a9a9a"/>
<rect x="78.8" y="841.3" width="1.91" height="1.69" fill="#6a6a6a"/>
<rect x="115.9" y="805.53" width="2.6" height="1.8" fill="#1e1e1e"/>
<rect x="124.15" y="840.27" width="2.8" height="2.17" fill="#e8e8e8"/>
<rect x="126.83" y="799.99" width="2.67" height="1.9" fill="#1e1e1e"/>
<rect x="121.57" y="869.44" width="2.92" height="1.63" fill="#f5f5f5"/>
<rect x="95.59" y="824.46" width="1.71" height="1.52" fill="#2a2a2a"/>
<rect x="131.77" y="848.36" width="1.53" height="2.03" fill="#ffffff"/>
<rect x="87.25" y="869.15" width="2.94" height="1.9" fill="#1e1e1e"/>
<rect x="111.07" y="832.57" width="2.93" height="2.05" fill="#bbbbbb"/>
<rect x="126.83" y="858.98" width="2.48" height="1.3" fill="#f5f5f5"/>
<rect x="130.23" y="832.87" width="3.39" height="1.49" fill="#f5f5f5"/>
<rect x="71.34" y="821.82" width="1.56" height="1.29" fill="#e8e8e8"/>
<rect x="127.5" y="855.03" width="1.87" height="1.98" fill="#bbbbbb"/>
<rect x="134.43" y="807.06" width="1.55" height="1.68" fill="#2a2a2a"/>
<rect x="109.02" y="845.34" width="1.92" height="2.11" fill="#9a9a9a"/>
<rect x="111.81" y="833.12" width="3.4" height="1.77" fill="#9a9a9a"/>
<rect x="133.47" y="804.91" width="1.95" height="2.13" fill="#bbbbbb"/>
<rect x="128.34" y="811.07" width="2.93" height="1.47" fill="#e8e8e8"/>
<rect x="100.29" y="847.5" width="1.25" height="2.08" fill="#6a6a6a"/>
<rect x="74.07" y="859.38" width="1.36" height="1.93" fill="#1e1e1e"/>
<rect x="84.47" y="844.42" width="3.37" height="1.82" fill="#bbbbbb"/>
<rect x="126.34" y="863.19" width="1.86" height="2.2" fill="#bbbbbb"/>
<rect x="136.52" y="859.49" width="2.68" height="1.02" fill="#2a2a2a"/>
<rect x="94.71" y="820.91" width="2.14" height="1.72" fill="#f5f5f5"/>
<rect x="96.46" y="813.76" width="3.24" height="1.1" fill="#9a9a9a"/>
<rect x="89.04" y="841.72" width="2.1" height="1.06" fill="#bbbbbb"/>
<rect x="105.6" y="805.08" width="3.24" height="2.49" fill="#1e1e1e"/>
<rect x="101.11" y="803.67" width="1.42" height="2.25" fill="#bbbbbb"/>
<rect x="123.96" y="860.39" width="1.77" height="2.56" fill="#f5f5f5"/>
<rect x="79.69" y="842.21" width="1.35" height="1.4" fill="#ffffff"/>
<rect x="67.89" y="835.07" width="1.66" height="1.58" fill="#2a2a2a"/>
<rect x="104.31" y="846.28" width="1.98" height="1.18" fill="#e8e8e8"/>
<rect x="87.63" y="859.4" width="1.8" height="1.06" fill="#1e1e1e"/>
<rect x="79.9" y="859.34" width="2.37" height="2.45" fill="#bbbbbb"/>
<rect x="111.63" y="836.77" width="2.03" height="1.48" fill="#1e1e1e"/>
<rect x="84.63" y="807.87" width="1.97" height="1.96" fill="#e8e8e8"/>
<rect x="112.96" y="839.76" width="2.33" height="1.21" fill="#bbbbbb"/>
<rect x="138.93" y="818.14" width="1.63" height="2.36" fill="#9a9a9a"/>
<rect x="136.05" y="816.21" width="1.76" height="1.85" fill="#6a6a6a"/>
<rect x="101.52" y="807.18" width="1.25" height="1.73" fill="#ffffff"/>
<path d="M80 800 Q105 808 118 826 Q126 840 130 860" fill="none" stroke="#e6e6e6" stroke-width="2.5" opacity="0.8"/>
<ellipse cx="92.68" cy="830.4" rx="2.11" ry="1.14" fill="#bcbcbc" transform="rotate(45 92.68 830.4)"/>
<ellipse cx="111.94" cy="857.04" rx="2.52" ry="1.76" fill="#ffffff" transform="rotate(36 111.94 857.04)"/>
<ellipse cx="135.81" cy="856.83" rx="2.65" ry="0.81" fill="#d8d8d8" transform="rotate(56 135.81 856.83)"/>
<ellipse cx="98.22" cy="816.36" rx="2.23" ry="1.24" fill="#f0f0f0" transform="rotate(22 98.22 816.36)"/>
<ellipse cx="107.95" cy="851.32" rx="1.91" ry="1.14" fill="#f0f0f0" transform="rotate(35 107.95 851.32)"/>
<ellipse cx="124.57" cy="852.23" rx="3.07" ry="0.93" fill="#ffffff" transform="rotate(43 124.57 852.23)"/>
<ellipse cx="109.22" cy="836.11" rx="2.83" ry="0.9" fill="#f0f0f0" transform="rotate(64 109.22 836.11)"/>
<ellipse cx="128.73" cy="814.95" rx="2.69" ry="1.57" fill="#d8d8d8" transform="rotate(63 128.73 814.95)"/>
<ellipse cx="130.68" cy="863.18" rx="2.82" ry="1.61" fill="#d8d8d8" transform="rotate(42 130.68 863.18)"/>
<ellipse cx="105.89" cy="801.93" rx="1.82" ry="1.58" fill="#d8d8d8" transform="rotate(66 105.89 801.93)"/>
<ellipse cx="104.92" cy="815.13" rx="1.43" ry="1.64" fill="#bcbcbc" transform="rotate(51 104.92 815.13)"/>
<ellipse cx="85.48" cy="843.06" rx="3.05" ry="0.95" fill="#ffffff" transform="rotate(30 85.48 843.06)"/>
<ellipse cx="106.93" cy="857.72" rx="1.37" ry="1.07" fill="#bcbcbc" transform="rotate(70 106.93 857.72)"/>
<ellipse cx="125.54" cy="825.69" rx="2.72" ry="1.41" fill="#bcbcbc" transform="rotate(65 125.54 825.69)"/>
<ellipse cx="113.6" cy="868.48" rx="2.86" ry="1.38" fill="#f0f0f0" transform="rotate(42 113.6 868.48)"/>
<ellipse cx="98.51" cy="870.8" rx="2.93" ry="0.98" fill="#bcbcbc" transform="rotate(32 98.51 870.8)"/>
<ellipse cx="76.33" cy="808.98" rx="2.77" ry="1.14" fill="#bcbcbc" transform="rotate(26 76.33 808.98)"/>
<ellipse cx="86.48" cy="799.03" rx="1.44" ry="0.87" fill="#ffffff" transform="rotate(36 86.48 799.03)"/>
<ellipse cx="70.04" cy="812.23" rx="2.22" ry="1.29" fill="#bcbcbc" transform="rotate(53 70.04 812.23)"/>
<ellipse cx="100.11" cy="840.42" rx="2.59" ry="0.98" fill="#f0f0f0" transform="rotate(54 100.11 840.42)"/>
<ellipse cx="91.7" cy="862.3" rx="2.96" ry="1.03" fill="#ffffff" transform="rotate(44 91.7 862.3)"/>
<ellipse cx="75.99" cy="805.47" rx="1.31" ry="1.35" fill="#f0f0f0" transform="rotate(59 75.99 805.47)"/>
<ellipse cx="132.44" cy="838.05" rx="2.3" ry="1.56" fill="#ffffff" transform="rotate(56 132.44 838.05)"/>
<ellipse cx="102.86" cy="839.63" rx="3.11" ry="1.21" fill="#d8d8d8" transform="rotate(39 102.86 839.63)"/>
<ellipse cx="108.2" cy="854.46" rx="2.4" ry="0.86" fill="#ffffff" transform="rotate(49 108.2 854.46)"/>
<ellipse cx="114.67" cy="832.12" rx="1.24" ry="1.61" fill="#ffffff" transform="rotate(70 114.67 832.12)"/>
<ellipse cx="124.61" cy="856.21" rx="2.18" ry="0.91" fill="#f0f0f0" transform="rotate(42 124.61 856.21)"/>
<ellipse cx="125.13" cy="811.18" rx="1.25" ry="0.9" fill="#bcbcbc" transform="rotate(49 125.13 811.18)"/>
<ellipse cx="138.34" cy="845.58" rx="2.57" ry="1.49" fill="#ffffff" transform="rotate(55 138.34 845.58)"/>
<ellipse cx="80.82" cy="848.61" rx="1.28" ry="1.06" fill="#bcbcbc" transform="rotate(44 80.82 848.61)"/>
<ellipse cx="72" cy="856.38" rx="2.96" ry="1.51" fill="#bcbcbc" transform="rotate(54 72 856.38)"/>
<ellipse cx="121.34" cy="825.42" rx="1.82" ry="1.57" fill="#f0f0f0" transform="rotate(66 121.34 825.42)"/>
<ellipse cx="113.17" cy="870.33" rx="1.41" ry="1.61" fill="#bcbcbc" transform="rotate(41 113.17 870.33)"/>
<ellipse cx="106.35" cy="825.29" rx="1.42" ry="1.73" fill="#bcbcbc" transform="rotate(43 106.35 825.29)"/>
<ellipse cx="70.67" cy="841.55" rx="1.31" ry="1.19" fill="#d8d8d8" transform="rotate(36 70.67 841.55)"/>
<ellipse cx="82.37" cy="814.27" rx="2.9" ry="1.62" fill="#d8d8d8" transform="rotate(48 82.37 814.27)"/>
<ellipse cx="135.26" cy="831.15" rx="2.93" ry="0.85" fill="#bcbcbc" transform="rotate(20 135.26 831.15)"/>
<ellipse cx="69.01" cy="862.23" rx="2.24" ry="1.41" fill="#d8d8d8" transform="rotate(38 69.01 862.23)"/>
<ellipse cx="74.48" cy="808.04" rx="1.54" ry="1.14" fill="#bcbcbc" transform="rotate(35 74.48 808.04)"/>
<ellipse cx="103.74" cy="836.47" rx="1.83" ry="0.82" fill="#bcbcbc" transform="rotate(58 103.74 836.47)"/>
<ellipse cx="110.02" cy="842.42" rx="2.45" ry="1.26" fill="#f0f0f0" transform="rotate(63 110.02 842.42)"/>
<ellipse cx="118.24" cy="858.46" rx="1.56" ry="1.73" fill="#ffffff" transform="rotate(51 118.24 858.46)"/>
<ellipse cx="97" cy="815.38" rx="1.55" ry="1.4" fill="#ffffff" transform="rotate(59 97 815.38)"/>
<ellipse cx="77.15" cy="804.31" rx="1.98" ry="1.18" fill="#bcbcbc" transform="rotate(60 77.15 804.31)"/>
<ellipse cx="94.24" cy="807.94" rx="2" ry="0.89" fill="#bcbcbc" transform="rotate(46 94.24 807.94)"/>
<ellipse cx="135.69" cy="839.19" rx="2.9" ry="0.97" fill="#bcbcbc" transform="rotate(50 135.69 839.19)"/>
<ellipse cx="99.07" cy="859.49" rx="1.99" ry="1.31" fill="#bcbcbc" transform="rotate(67 99.07 859.49)"/>
<ellipse cx="133.68" cy="822.1" rx="2.9" ry="0.93" fill="#bcbcbc" transform="rotate(41 133.68 822.1)"/>
<ellipse cx="114.45" cy="806.65" rx="2.17" ry="1.77" fill="#d8d8d8" transform="rotate(21 114.45 806.65)"/>
<ellipse cx="95.8" cy="871.72" rx="2.4" ry="1.32" fill="#f0f0f0" transform="rotate(52 95.8 871.72)"/>
<ellipse cx="85.81" cy="861.63" rx="3.14" ry="1.3" fill="#ffffff" transform="rotate(55 85.81 861.63)"/>
<ellipse cx="71.56" cy="851.53" rx="2.18" ry="1.04" fill="#bcbcbc" transform="rotate(20 71.56 851.53)"/>
<ellipse cx="110" cy="828.17" rx="1.67" ry="1.76" fill="#d8d8d8" transform="rotate(70 110 828.17)"/>
<ellipse cx="74.79" cy="803.69" rx="2.38" ry="1.04" fill="#f0f0f0" transform="rotate(25 74.79 803.69)"/>
<ellipse cx="77.35" cy="811.27" rx="1.53" ry="0.89" fill="#bcbcbc" transform="rotate(42 77.35 811.27)"/>
<ellipse cx="75.89" cy="829.27" rx="2.3" ry="1.02" fill="#d8d8d8" transform="rotate(69 75.89 829.27)"/>
<ellipse cx="73.58" cy="821.93" rx="1.27" ry="1.61" fill="#f0f0f0" transform="rotate(41 73.58 821.93)"/>
<ellipse cx="135.36" cy="805.64" rx="1.84" ry="1.52" fill="#bcbcbc" transform="rotate(52 135.36 805.64)"/>
<ellipse cx="106.86" cy="853.96" rx="2.56" ry="1.15" fill="#bcbcbc" transform="rotate(60 106.86 853.96)"/>
<ellipse cx="99.06" cy="848.36" rx="2.66" ry="0.82" fill="#d8d8d8" transform="rotate(23 99.06 848.36)"/>
<ellipse cx="110.78" cy="830.28" rx="1.4" ry="1.57" fill="#ffffff" transform="rotate(26 110.78 830.28)"/>
<ellipse cx="128.8" cy="830.91" rx="3.02" ry="1.13" fill="#f0f0f0" transform="rotate(62 128.8 830.91)"/>
<ellipse cx="96.84" cy="853.12" rx="3.05" ry="1.27" fill="#ffffff" transform="rotate(34 96.84 853.12)"/>
<ellipse cx="81.5" cy="800.93" rx="2.19" ry="1.72" fill="#f0f0f0" transform="rotate(69 81.5 800.93)"/>
<ellipse cx="88.1" cy="802.43" rx="2.88" ry="1.4" fill="#ffffff" transform="rotate(61 88.1 802.43)"/>
<ellipse cx="112.07" cy="847.86" rx="1.71" ry="1.7" fill="#f0f0f0" transform="rotate(43 112.07 847.86)"/>
<ellipse cx="132.85" cy="808.75" rx="3.13" ry="1.42" fill="#d8d8d8" transform="rotate(58 132.85 808.75)"/>
<ellipse cx="115.88" cy="829.79" rx="2.05" ry="1.22" fill="#bcbcbc" transform="rotate(36 115.88 829.79)"/>
<ellipse cx="70.31" cy="840.24" rx="2.58" ry="1.29" fill="#d8d8d8" transform="rotate(45 70.31 840.24)"/>
<ellipse cx="71.27" cy="800.75" rx="1.58" ry="1.22" fill="#ffffff" transform="rotate(42 71.27 800.75)"/>
<ellipse cx="119.75" cy="871.33" rx="2.45" ry="1.69" fill="#d8d8d8" transform="rotate(48 119.75 871.33)"/>
<ellipse cx="130.22" cy="803.95" rx="2.96" ry="1.77" fill="#d8d8d8" transform="rotate(24 130.22 803.95)"/>
<ellipse cx="139.56" cy="813.95" rx="3.06" ry="1.27" fill="#f0f0f0" transform="rotate(38 139.56 813.95)"/>
<ellipse cx="67.43" cy="843.13" rx="2.83" ry="1.05" fill="#f0f0f0" transform="rotate(54 67.43 843.13)"/>
<ellipse cx="94.2" cy="865.9" rx="1.63" ry="1.2" fill="#ffffff" transform="rotate(63 94.2 865.9)"/>
<ellipse cx="114.19" cy="829.27" rx="3.16" ry="1.6" fill="#d8d8d8" transform="rotate(20 114.19 829.27)"/>
<ellipse cx="74.98" cy="821.7" rx="1.3" ry="1.02" fill="#ffffff" transform="rotate(22 74.98 821.7)"/>
<ellipse cx="130.65" cy="841.93" rx="1.97" ry="1.56" fill="#f0f0f0" transform="rotate(25 130.65 841.93)"/>
<ellipse cx="137.56" cy="867.7" rx="3.06" ry="1.69" fill="#d8d8d8" transform="rotate(22 137.56 867.7)"/>
<ellipse cx="131.73" cy="821.2" rx="2.63" ry="0.85" fill="#bcbcbc" transform="rotate(49 131.73 821.2)"/>
<ellipse cx="96.69" cy="851.58" rx="2.64" ry="1.05" fill="#bcbcbc" transform="rotate(43 96.69 851.58)"/>
<ellipse cx="135.49" cy="850.71" rx="1.95" ry="1.1" fill="#ffffff" transform="rotate(56 135.49 850.71)"/>
<ellipse cx="138.2" cy="841.11" rx="2.97" ry="0.99" fill="#f0f0f0" transform="rotate(25 138.2 841.11)"/>
<ellipse cx="67.56" cy="830.22" rx="2.61" ry="1.38" fill="#f0f0f0" transform="rotate(29 67.56 830.22)"/>
<ellipse cx="123.44" cy="853.01" rx="2.68" ry="1.18" fill="#bcbcbc" transform="rotate(36 123.44 853.01)"/>
<ellipse cx="113.75" cy="845.82" rx="1.35" ry="1.39" fill="#f0f0f0" transform="rotate(24 113.75 845.82)"/>
<ellipse cx="133.26" cy="809" rx="2.24" ry="0.93" fill="#d8d8d8" transform="rotate(56 133.26 809)"/>
<ellipse cx="111" cy="829.54" rx="2.69" ry="1.29" fill="#ffffff" transform="rotate(30 111 829.54)"/>
<ellipse cx="124.08" cy="842.64" rx="2.36" ry="1.43" fill="#f0f0f0" transform="rotate(34 124.08 842.64)"/>
<ellipse cx="128.95" cy="810.06" rx="3.02" ry="1.42" fill="#bcbcbc" transform="rotate(49 128.95 810.06)"/>
<ellipse cx="127.16" cy="843.17" rx="2.02" ry="1.73" fill="#bcbcbc" transform="rotate(58 127.16 843.17)"/>
<ellipse cx="80.39" cy="830.24" rx="2.78" ry="1.67" fill="#bcbcbc" transform="rotate(66 80.39 830.24)"/>
<ellipse cx="96.79" cy="826.37" rx="1.8" ry="1.7" fill="#bcbcbc" transform="rotate(44 96.79 826.37)"/>
<ellipse cx="69.6" cy="854.7" rx="1.74" ry="1.27" fill="#ffffff" transform="rotate(69 69.6 854.7)"/>
<ellipse cx="115.14" cy="842.28" rx="1.94" ry="1.44" fill="#d8d8d8" transform="rotate(62 115.14 842.28)"/>
<ellipse cx="116.47" cy="853.85" rx="1.2" ry="1.15" fill="#ffffff" transform="rotate(46 116.47 853.85)"/>
<ellipse cx="102.11" cy="822.61" rx="1.73" ry="1.06" fill="#bcbcbc" transform="rotate(62 102.11 822.61)"/>
<ellipse cx="75.14" cy="864.87" rx="3.12" ry="1.73" fill="#f0f0f0" transform="rotate(38 75.14 864.87)"/>
<ellipse cx="115.49" cy="816.94" rx="2.59" ry="1.33" fill="#f0f0f0" transform="rotate(53 115.49 816.94)"/>
<ellipse cx="93.35" cy="864.46" rx="3.04" ry="1.36" fill="#f0f0f0" transform="rotate(54 93.35 864.46)"/>
<ellipse cx="128.68" cy="856.19" rx="2.86" ry="1.12" fill="#f0f0f0" transform="rotate(70 128.68 856.19)"/>
<ellipse cx="113.49" cy="868.23" rx="1.93" ry="1.18" fill="#f0f0f0" transform="rotate(51 113.49 868.23)"/>
<ellipse cx="111.44" cy="852.53" rx="2.65" ry="1.73" fill="#f0f0f0" transform="rotate(45 111.44 852.53)"/>
<ellipse cx="125.74" cy="847.88" rx="2.14" ry="1.35" fill="#ffffff" transform="rotate(36 125.74 847.88)"/>
<ellipse cx="73.95" cy="861.05" rx="2.84" ry="1.79" fill="#f0f0f0" transform="rotate(37 73.95 861.05)"/>
<ellipse cx="110.6" cy="862.49" rx="1.71" ry="1.16" fill="#bcbcbc" transform="rotate(43 110.6 862.49)"/>
<ellipse cx="114.41" cy="815.42" rx="1.7" ry="1.41" fill="#d8d8d8" transform="rotate(56 114.41 815.42)"/>
<ellipse cx="69.8" cy="869.77" rx="1.61" ry="1.25" fill="#d8d8d8" transform="rotate(68 69.8 869.77)"/>
<ellipse cx="75.34" cy="842.22" rx="2.96" ry="1.71" fill="#d8d8d8" transform="rotate(37 75.34 842.22)"/>
<ellipse cx="73.91" cy="814.18" rx="2.73" ry="1.07" fill="#f0f0f0" transform="rotate(32 73.91 814.18)"/>
</g></g>
<path d="M80 834 Q89 842 91 856 Q91 866 89 872" fill="none" stroke="#808080" stroke-width="4.5" opacity="0.85"/>
<ellipse cx="77" cy="826.5" rx="5" ry="6.5" fill="none" stroke="#6a6a6a" stroke-width="2.8"/>
<path d="M68 812 Q80 814 92 826 Q100 834 105 848" fill="none" stroke="#b5b5b5" stroke-width="3" opacity="0.8"/>
<rect x="69.7" y="858.55" width="1.29" height="1.46" fill="#e4e4e4"/>
<rect x="98.73" y="833.95" width="2.2" height="1.61" fill="#e4e4e4"/>
<rect x="87.03" y="845.27" width="2.7" height="1.55" fill="#c0c0c0"/>
<rect x="85.33" y="832.37" width="1.21" height="1.12" fill="#d0d0d0"/>
<rect x="72.21" y="851.01" width="1.99" height="1.77" fill="#e4e4e4"/>
<rect x="111.04" y="841.15" width="1.36" height="1.06" fill="#e4e4e4"/>
<rect x="70.69" y="868.62" width="2.68" height="1.3" fill="#d0d0d0"/>
<rect x="90.98" y="834.22" width="2.71" height="1.58" fill="#e4e4e4"/>
<rect x="97.89" y="833.86" width="2.25" height="1.79" fill="#e4e4e4"/>
<rect x="82.58" y="851.68" width="2.4" height="1.17" fill="#d0d0d0"/>
<rect x="102.36" y="832.05" width="2.18" height="1.37" fill="#d0d0d0"/>
<rect x="97.56" y="832.88" width="2.99" height="1.66" fill="#c0c0c0"/>
<rect x="89.78" y="861.94" width="2.91" height="1.72" fill="#d0d0d0"/>
<rect x="88.81" y="847.01" width="2.55" height="1.36" fill="#e4e4e4"/>
<rect x="71.79" y="857.26" width="1.31" height="1.81" fill="#d0d0d0"/>
<rect x="98.36" y="847.41" width="2.17" height="1.15" fill="#d0d0d0"/>
<rect x="107.76" y="870.04" width="1.25" height="1.73" fill="#c0c0c0"/>
<rect x="73.22" y="851.83" width="1.52" height="1.75" fill="#c0c0c0"/>
<rect x="105.12" y="865.15" width="1.77" height="1.71" fill="#d0d0d0"/>
<rect x="99.58" y="864.75" width="2.34" height="1.19" fill="#e4e4e4"/>
<rect x="85.75" y="854.36" width="1.82" height="1.8" fill="#c0c0c0"/>
<rect x="83.27" y="837.62" width="1.36" height="1.83" fill="#e4e4e4"/>
<rect x="100.46" y="832.09" width="1.47" height="1.3" fill="#c0c0c0"/>
<rect x="76.26" y="838.88" width="1.77" height="1.99" fill="#d0d0d0"/>
<rect x="70.67" y="850.56" width="1.19" height="1.02" fill="#e4e4e4"/>
<rect x="105.26" y="866.41" width="2.01" height="1.51" fill="#d0d0d0"/>
<rect x="93.47" y="840.8" width="1.26" height="1.76" fill="#d0d0d0"/>
<rect x="78.96" y="834.44" width="1.44" height="1.57" fill="#c0c0c0"/>
<rect x="76.84" y="847.43" width="1.03" height="1.38" fill="#c0c0c0"/>
<rect x="81.75" y="852.07" width="2.08" height="1.15" fill="#d0d0d0"/>
<rect x="76.79" y="831.8" width="1.54" height="1.7" fill="#c0c0c0"/>
<rect x="104.84" y="862.57" width="1.96" height="1.34" fill="#c0c0c0"/>
<rect x="77.82" y="859.91" width="1.95" height="1.64" fill="#c0c0c0"/>
<rect x="93.06" y="848.22" width="2.45" height="1.98" fill="#c0c0c0"/>
<rect x="108.14" y="860.84" width="2.1" height="1.85" fill="#e4e4e4"/>
<rect x="86.82" y="847.78" width="2.63" height="1.07" fill="#e4e4e4"/>
<rect x="108.95" y="856.21" width="2.64" height="1.61" fill="#d0d0d0"/>
<rect x="96.44" y="862.76" width="2.28" height="1.09" fill="#e4e4e4"/>
<rect x="78.18" y="870.39" width="2.22" height="1.73" fill="#e4e4e4"/>
<rect x="70.65" y="836.96" width="3" height="1.42" fill="#d0d0d0"/>
</g>
<rect x="121" y="865.8" width="16" height="2.2" fill="#fff"/>
<line x1="41.5" y1="827.5" x2="67.2" y2="800.9" stroke="#000" stroke-width="2.6" stroke-dasharray="2.6 2.2"/>
<line x1="41.5" y1="844.3" x2="67.2" y2="869.9" stroke="#000" stroke-width="2.6" stroke-dasharray="2.6 2.2"/>
<text x="151.9" y="755.5" font-size="15.5" text-anchor="start" font-weight="bold" fill="#000">j</text>
<text x="227.4" y="757.9" font-size="10.8" text-anchor="middle" font-weight="normal" fill="#231f20">0 h</text>
<line x1="174.3" y1="760.6" x2="283.5" y2="760.6" stroke="#111" stroke-width="1.3"/>
<text x="227.4" y="827.4" font-size="10.8" text-anchor="middle" font-weight="normal" fill="#231f20">48 h</text>
<line x1="174.3" y1="830.7" x2="283.5" y2="830.7" stroke="#111" stroke-width="1.3"/>
<text x="232.3" y="897" font-size="10.8" text-anchor="middle" font-weight="normal" fill="#231f20">96 h</text>
<line x1="179.2" y1="900" x2="288.4" y2="900" stroke="#111" stroke-width="1.3"/>
<defs><clipPath id="cj1"><rect x="151.8" y="765.4" width="46.5" height="43.3"/></clipPath></defs>
<g clip-path="url(#cj1)"><g filter="url(#jb)">
<rect x="151.8" y="765.4" width="46.5" height="43.3" fill="#8e8e8e"/>
<path d="M175.05 765.4 L198.3 765.4 L198.3 800.04 Q186.68 804.37 179.7 791.38 Q172.73 778.39 175.05 765.4 Z" fill="#f2f2f2"/>
<rect x="158.05" y="802.09" width="1.66" height="1.79" fill="#787878"/>
<rect x="187.18" y="785.85" width="1.73" height="1.57" fill="#f0f0f0"/>
<rect x="190.66" y="784.14" width="3.24" height="2.17" fill="#f0f0f0"/>
<rect x="189.08" y="791" width="1.58" height="1.56" fill="#d6d6d6"/>
<rect x="176.98" y="806.07" width="3.22" height="3.92" fill="#bdbdbd"/>
<rect x="185.55" y="788.25" width="2.88" height="2.36" fill="#bdbdbd"/>
<rect x="183.27" y="798.35" width="3.82" height="2.54" fill="#5a5a5a"/>
<rect x="194.41" y="805.33" width="1.96" height="3.98" fill="#f0f0f0"/>
<rect x="191.79" y="770.63" width="2.77" height="3.78" fill="#9a9a9a"/>
<rect x="160.63" y="777.7" width="3.62" height="2.76" fill="#bdbdbd"/>
<rect x="179.19" y="766.89" width="2.54" height="1.93" fill="#9a9a9a"/>
<rect x="177.32" y="795.84" width="3.35" height="1.72" fill="#a0a0a0"/>
<rect x="182.66" y="770.07" width="2.43" height="3.33" fill="#9a9a9a"/>
<rect x="173.62" y="778.76" width="3.96" height="2.98" fill="#787878"/>
<rect x="170.1" y="772.78" width="2.07" height="1.53" fill="#3a3a3a"/>
<rect x="161.08" y="805.24" width="2.08" height="2.78" fill="#3a3a3a"/>
<rect x="196.09" y="790.42" width="3.15" height="3.02" fill="#d6d6d6"/>
<rect x="185.72" y="782.01" width="2.78" height="1.82" fill="#a0a0a0"/>
<rect x="187.95" y="774.3" width="3.68" height="2.92" fill="#bdbdbd"/>
<rect x="161.09" y="787.25" width="3.53" height="2.54" fill="#bdbdbd"/>
<rect x="151.87" y="788.79" width="3.03" height="2.65" fill="#787878"/>
<rect x="153.1" y="775.34" width="2.88" height="1.95" fill="#d0d0d0"/>
<rect x="156.06" y="789.26" width="3.54" height="2.14" fill="#787878"/>
<rect x="190.94" y="794.55" width="2.63" height="3.39" fill="#ffffff"/>
<rect x="164.88" y="777.03" width="3.06" height="2.36" fill="#787878"/>
<rect x="155.03" y="772.31" width="3.88" height="3.14" fill="#3a3a3a"/>
<rect x="181.94" y="778.15" width="2.68" height="1.56" fill="#9a9a9a"/>
<rect x="169.77" y="783.63" width="2.15" height="2.13" fill="#d0d0d0"/>
<rect x="185.75" y="807.69" width="2.58" height="3.94" fill="#3a3a3a"/>
<rect x="162.28" y="782.6" width="3.3" height="1.9" fill="#f0f0f0"/>
<rect x="184.56" y="794.77" width="3.94" height="3.08" fill="#f0f0f0"/>
<rect x="184.12" y="784.92" width="2.49" height="2.94" fill="#ffffff"/>
<rect x="166.74" y="792.72" width="3.34" height="1.81" fill="#f0f0f0"/>
<rect x="161.66" y="767.45" width="3.65" height="2.28" fill="#f0f0f0"/>
<rect x="195.48" y="797.61" width="2.91" height="1.83" fill="#bdbdbd"/>
<rect x="177.87" y="802.23" width="3.55" height="3.91" fill="#3a3a3a"/>
<rect x="178.32" y="772.83" width="3.26" height="2.77" fill="#787878"/>
<rect x="169.38" y="780.42" width="2.93" height="3.74" fill="#d0d0d0"/>
<rect x="179.3" y="786.72" width="2.24" height="2.75" fill="#bdbdbd"/>
<rect x="166.93" y="803.14" width="1.55" height="2" fill="#5a5a5a"/>
<rect x="167.04" y="808.14" width="1.84" height="2.57" fill="#787878"/>
<rect x="164.19" y="769.57" width="3.83" height="2.36" fill="#bdbdbd"/>
<rect x="192.83" y="795.15" width="1.66" height="1.6" fill="#f0f0f0"/>
<rect x="157.99" y="772.61" width="2.03" height="3.4" fill="#3a3a3a"/>
<rect x="179.71" y="801.82" width="2.35" height="1.78" fill="#5a5a5a"/>
<rect x="162.74" y="806.27" width="3.89" height="3.72" fill="#787878"/>
<rect x="158.09" y="789.27" width="2.3" height="2.52" fill="#f0f0f0"/>
<rect x="169.48" y="808.32" width="3.57" height="2.35" fill="#d0d0d0"/>
<rect x="180.41" y="799.26" width="1.69" height="2.88" fill="#bdbdbd"/>
<rect x="178.12" y="806.63" width="3.73" height="2.91" fill="#5a5a5a"/>
<rect x="194.82" y="785.22" width="3.57" height="1.53" fill="#ffffff"/>
<rect x="182.97" y="769.37" width="1.97" height="3.46" fill="#ffffff"/>
<rect x="179.09" y="772.42" width="1.9" height="3.61" fill="#f0f0f0"/>
<rect x="172.03" y="807.17" width="3.93" height="3.77" fill="#787878"/>
<rect x="165.47" y="776.37" width="2.29" height="2.02" fill="#bdbdbd"/>
<rect x="166.56" y="766.58" width="3.96" height="2.24" fill="#787878"/>
<rect x="179.54" y="784.88" width="1.66" height="2.29" fill="#ffffff"/>
<rect x="179.77" y="785.14" width="3.15" height="2.15" fill="#9a9a9a"/>
<rect x="176.98" y="778.71" width="2.4" height="3.55" fill="#d0d0d0"/>
<rect x="155.96" y="798.02" width="3.13" height="3.11" fill="#f0f0f0"/>
<rect x="195.54" y="782.31" width="1.97" height="3.48" fill="#d6d6d6"/>
<rect x="178.72" y="805.29" width="2.34" height="2.86" fill="#d0d0d0"/>
<rect x="178.72" y="791.21" width="3.52" height="2.5" fill="#ffffff"/>
<rect x="164.26" y="802.97" width="1.69" height="3.09" fill="#a0a0a0"/>
<rect x="165.32" y="799.7" width="2.67" height="3.65" fill="#bdbdbd"/>
<rect x="156.49" y="799.08" width="1.69" height="3.87" fill="#5a5a5a"/>
<rect x="159.86" y="799.01" width="3.55" height="2.3" fill="#d0d0d0"/>
<rect x="156.77" y="787.67" width="2.23" height="3.73" fill="#3a3a3a"/>
<rect x="158.39" y="804.82" width="3.45" height="3.55" fill="#f0f0f0"/>
<rect x="180.79" y="794.51" width="1.95" height="2.58" fill="#f0f0f0"/>
<rect x="159.14" y="796.35" width="2.12" height="3.44" fill="#a0a0a0"/>
<rect x="183.52" y="784.74" width="2.85" height="3.63" fill="#d6d6d6"/>
<rect x="172.88" y="782.53" width="1.93" height="2.71" fill="#5a5a5a"/>
<rect x="188.68" y="805.78" width="1.55" height="3.23" fill="#3a3a3a"/>
<rect x="178.77" y="791.1" width="2.49" height="2.5" fill="#d6d6d6"/>
<rect x="180.28" y="775.51" width="2.75" height="3.12" fill="#d6d6d6"/>
<rect x="172.18" y="795.13" width="2.06" height="2.28" fill="#a0a0a0"/>
<rect x="183.74" y="806.82" width="2.53" height="2.9" fill="#a0a0a0"/>
<rect x="193.97" y="805.14" width="3.93" height="2.05" fill="#5a5a5a"/>
<rect x="194.65" y="798.45" width="3.69" height="1.9" fill="#a0a0a0"/>
<rect x="187.42" y="803.63" width="2.25" height="2.25" fill="#5a5a5a"/>
<rect x="177.48" y="772.55" width="2.99" height="3.64" fill="#9a9a9a"/>
<rect x="193.49" y="806.97" width="2.44" height="1.89" fill="#3a3a3a"/>
<rect x="171.64" y="806.18" width="3.39" height="1.63" fill="#a0a0a0"/>
<rect x="183.5" y="796.45" width="2.46" height="3.61" fill="#5a5a5a"/>
<rect x="177.11" y="808.45" width="3.95" height="3.52" fill="#3a3a3a"/>
<rect x="181.02" y="776.98" width="3.92" height="3.04" fill="#d0d0d0"/>
<rect x="196.76" y="795.13" width="3.93" height="2.46" fill="#f0f0f0"/>
<rect x="189.13" y="784.15" width="2.6" height="3.06" fill="#d6d6d6"/>
<rect x="174.49" y="774.58" width="3" height="2.52" fill="#bdbdbd"/>
<rect x="157.29" y="778.19" width="2.45" height="2.9" fill="#d0d0d0"/>
<rect x="196.43" y="788.28" width="3.07" height="3.01" fill="#ffffff"/>
<rect x="190.64" y="774.35" width="2.18" height="2.96" fill="#f0f0f0"/>
<rect x="163.47" y="795" width="3.65" height="3.64" fill="#787878"/>
<rect x="159.61" y="780.86" width="3.64" height="3.42" fill="#bdbdbd"/>
<rect x="178.33" y="782" width="3.76" height="1.56" fill="#ffffff"/>
<rect x="178.27" y="765.97" width="1.69" height="2.43" fill="#f0f0f0"/>
<rect x="189.25" y="784.33" width="1.5" height="2.61" fill="#d6d6d6"/>
<rect x="172.7" y="778.6" width="2.35" height="3.33" fill="#bdbdbd"/>
<rect x="178.37" y="770.3" width="2.01" height="1.51" fill="#bdbdbd"/>
<rect x="164.71" y="791.3" width="3.57" height="2.78" fill="#a0a0a0"/>
<rect x="197.7" y="785.39" width="3.84" height="3.28" fill="#bdbdbd"/>
<rect x="197.72" y="795.84" width="3.05" height="2.83" fill="#bdbdbd"/>
<rect x="168.51" y="765.55" width="2.95" height="3.93" fill="#bdbdbd"/>
<rect x="167.42" y="792.32" width="3.25" height="3.92" fill="#a0a0a0"/>
<rect x="154.95" y="808.16" width="3.1" height="3.12" fill="#d0d0d0"/>
<rect x="181.08" y="783.02" width="3.46" height="3.62" fill="#9a9a9a"/>
<rect x="187.49" y="800.7" width="1.53" height="3.78" fill="#3a3a3a"/>
<rect x="188.92" y="783.2" width="1.88" height="3.58" fill="#d6d6d6"/>
<rect x="174.33" y="785.63" width="2.18" height="1.75" fill="#f0f0f0"/>
<rect x="179.26" y="768.42" width="1.55" height="2.77" fill="#9a9a9a"/>
<rect x="195.79" y="795.3" width="3.01" height="2.02" fill="#d6d6d6"/>
<rect x="161.46" y="803.76" width="1.67" height="3.25" fill="#5a5a5a"/>
<rect x="194.13" y="793.93" width="1.92" height="3.13" fill="#ffffff"/>
<rect x="184.97" y="800.69" width="2.39" height="3.35" fill="#5a5a5a"/>
<rect x="170.05" y="782.71" width="3.47" height="3.67" fill="#bdbdbd"/>
<rect x="167.13" y="775.03" width="3.27" height="3.61" fill="#3a3a3a"/>
<rect x="153.22" y="804.34" width="2.51" height="3.82" fill="#3a3a3a"/>
<rect x="195.19" y="776.16" width="3.06" height="1.91" fill="#ffffff"/>
<rect x="197.05" y="784.61" width="1.87" height="3.86" fill="#a0a0a0"/>
<rect x="173.16" y="772.44" width="1.85" height="3.29" fill="#787878"/>
<rect x="168.59" y="797.93" width="1.79" height="2.02" fill="#d0d0d0"/>
<rect x="183.49" y="768.35" width="2.73" height="1.75" fill="#d6d6d6"/>
<rect x="160.48" y="767.8" width="1.56" height="3.38" fill="#3a3a3a"/>
<rect x="183.57" y="786.81" width="2.36" height="3.59" fill="#9a9a9a"/>
<rect x="157.29" y="795.39" width="2.06" height="2.08" fill="#f0f0f0"/>
<rect x="172.72" y="797.9" width="2.09" height="2.21" fill="#d0d0d0"/>
<rect x="177.24" y="782.27" width="3.29" height="2.33" fill="#bdbdbd"/>
<rect x="179.4" y="804.78" width="1.62" height="3.49" fill="#f0f0f0"/>
<rect x="191.68" y="779.24" width="3.8" height="2.5" fill="#d6d6d6"/>
<rect x="192.72" y="798.25" width="3.48" height="1.58" fill="#d0d0d0"/>
<rect x="169.81" y="803.34" width="1.64" height="2.45" fill="#3a3a3a"/>
<rect x="157.84" y="785.44" width="2.26" height="1.54" fill="#787878"/>
<rect x="176.77" y="788.13" width="1.61" height="2.18" fill="#d0d0d0"/>
<rect x="157.26" y="769.34" width="2.75" height="1.83" fill="#f0f0f0"/>
<rect x="164.79" y="800.78" width="3.16" height="2.47" fill="#d0d0d0"/>
<rect x="181.14" y="807.38" width="3.09" height="2.11" fill="#a0a0a0"/>
<rect x="179.14" y="799.52" width="2.37" height="3.01" fill="#d0d0d0"/>
<rect x="177.85" y="788.01" width="2.87" height="2.85" fill="#d6d6d6"/>
<rect x="184.89" y="788.63" width="3.28" height="3.36" fill="#f0f0f0"/>
<rect x="185.33" y="797.97" width="1.94" height="1.74" fill="#5a5a5a"/>
<rect x="154.53" y="774.2" width="3.63" height="1.63" fill="#bdbdbd"/>
<rect x="156.04" y="800.61" width="2.75" height="1.75" fill="#bdbdbd"/>
<rect x="166.34" y="770.88" width="2.61" height="1.82" fill="#f0f0f0"/>
<rect x="170.18" y="796.04" width="1.56" height="2.81" fill="#bdbdbd"/>
<rect x="156" y="800.06" width="2.25" height="3.65" fill="#f0f0f0"/>
<rect x="154.5" y="776.7" width="1.83" height="3.49" fill="#a0a0a0"/>
<rect x="189.32" y="802.46" width="1.74" height="3.6" fill="#5a5a5a"/>
<rect x="175.18" y="774.29" width="2.77" height="2.48" fill="#5a5a5a"/>
<rect x="193.45" y="786.23" width="2.81" height="2.9" fill="#9a9a9a"/>
<rect x="191.05" y="790.57" width="3.74" height="3.58" fill="#ffffff"/>
<rect x="165.35" y="772.2" width="2.47" height="2.31" fill="#5a5a5a"/>
<rect x="170.84" y="770.87" width="1.61" height="3.54" fill="#f0f0f0"/>
<rect x="182.08" y="778.98" width="2.18" height="3.37" fill="#d6d6d6"/>
<rect x="175.98" y="765.77" width="1.87" height="3.79" fill="#f0f0f0"/>
<rect x="166.94" y="779.58" width="2.63" height="2.2" fill="#f0f0f0"/>
<rect x="172.92" y="781.17" width="3.92" height="3.54" fill="#a0a0a0"/>
<rect x="194.83" y="805.34" width="1.64" height="1.62" fill="#787878"/>
<rect x="174.69" y="802.34" width="3.46" height="3.26" fill="#5a5a5a"/>
<rect x="186.52" y="781.06" width="2.43" height="2.27" fill="#a0a0a0"/>
<rect x="179.62" y="780.14" width="1.87" height="3.22" fill="#ffffff"/>
<rect x="177.97" y="804.66" width="3.42" height="3.85" fill="#d0d0d0"/>
<rect x="180.62" y="800.55" width="3.2" height="3.29" fill="#3a3a3a"/>
<rect x="161.3" y="768.29" width="2.82" height="1.7" fill="#3a3a3a"/>
<rect x="155.19" y="802.23" width="3.6" height="2.78" fill="#a0a0a0"/>
<rect x="171.89" y="790.96" width="2.72" height="3.52" fill="#787878"/>
<rect x="162.03" y="774.08" width="3.66" height="3.73" fill="#bdbdbd"/>
<rect x="171.58" y="794.65" width="3.78" height="1.97" fill="#3a3a3a"/>
<rect x="174.22" y="768.55" width="4" height="2.14" fill="#787878"/>
<rect x="161.16" y="797.74" width="2.45" height="3.69" fill="#787878"/>
</g></g>
<rect x="183.3" y="803.5" width="10" height="2.2" fill="#000"/>
<defs><clipPath id="cj2"><rect x="204.7" y="765.4" width="46.6" height="43.3"/></clipPath></defs>
<g clip-path="url(#cj2)"><g filter="url(#jb)">
<rect x="204.7" y="765.4" width="46.6" height="43.3" fill="#666b92"/>
<rect x="249.25" y="806.44" width="1.77" height="2.03" fill="#6a6a90"/>
<rect x="212.58" y="800.43" width="2.25" height="1.69" fill="#3e4268"/>
<rect x="206.37" y="794.9" width="3.42" height="3.05" fill="#c8c6d8"/>
<rect x="244.79" y="787.44" width="3.13" height="2.22" fill="#dcdcec"/>
<rect x="217.2" y="766.96" width="2.59" height="3.34" fill="#6a6a90"/>
<rect x="247" y="783.74" width="1.99" height="1.61" fill="#ffffff"/>
<rect x="215.45" y="773.05" width="1.91" height="2.37" fill="#8a86a8"/>
<rect x="251.24" y="794.6" width="4.49" height="2.22" fill="#ffffff"/>
<rect x="224.02" y="788.15" width="3.87" height="2.01" fill="#3e4268"/>
<rect x="250.41" y="807.05" width="4.36" height="2.12" fill="#8a86a8"/>
<rect x="239.12" y="793.76" width="2.97" height="3.33" fill="#8a86a8"/>
<rect x="228.04" y="801.41" width="3.49" height="2.25" fill="#3e4268"/>
<rect x="246.79" y="780.59" width="3.67" height="2.32" fill="#f4f4fa"/>
<rect x="215.04" y="779.46" width="4.13" height="2.62" fill="#8a86a8"/>
<rect x="240.72" y="786.17" width="4.37" height="2.82" fill="#dcdcec"/>
<rect x="228.2" y="787.82" width="2.44" height="1.68" fill="#c8c6d8"/>
<rect x="228.55" y="805.85" width="3.85" height="1.99" fill="#6a6a90"/>
<rect x="205.09" y="800.69" width="1.68" height="2.7" fill="#6a6a90"/>
<rect x="217.43" y="775.21" width="3.76" height="1.51" fill="#6a6a90"/>
<rect x="217.09" y="801.11" width="2.77" height="2.85" fill="#6a6a90"/>
<rect x="206.19" y="781.09" width="2.25" height="1.25" fill="#8a86a8"/>
<rect x="210.07" y="768.32" width="3.69" height="1.25" fill="#6a6a90"/>
<rect x="216.62" y="800.62" width="3.7" height="2.4" fill="#8a86a8"/>
<rect x="204.79" y="790.92" width="1.95" height="1.28" fill="#8a86a8"/>
<rect x="220.74" y="792.04" width="2.36" height="2.32" fill="#6a6a90"/>
<rect x="219.07" y="789.28" width="4.21" height="2.94" fill="#6a6a90"/>
<rect x="244.89" y="795.94" width="4.38" height="1.41" fill="#3a3f66"/>
<rect x="236.73" y="801.7" width="2.84" height="3.21" fill="#6a6a90"/>
<rect x="210.64" y="790.73" width="2.96" height="1.95" fill="#c8c6d8"/>
<rect x="245.45" y="780.17" width="3.32" height="2.17" fill="#dcdcec"/>
<rect x="205.54" y="789.56" width="3.51" height="1.78" fill="#8a86a8"/>
<rect x="210.84" y="772.79" width="3.41" height="2.37" fill="#c8c6d8"/>
<rect x="250.53" y="805.85" width="2.2" height="2.22" fill="#8a86a8"/>
<rect x="216.39" y="791" width="2.27" height="2.17" fill="#3e4268"/>
<rect x="229.22" y="765.61" width="2.65" height="1.57" fill="#f6f6fa"/>
<rect x="228.56" y="769.2" width="1.8" height="1.62" fill="#f6f6fa"/>
<rect x="215.49" y="774.81" width="2.86" height="2.43" fill="#c8c6d8"/>
<rect x="222.41" y="795.05" width="3.69" height="2.2" fill="#8a86a8"/>
<rect x="228.54" y="790.56" width="4.14" height="3.34" fill="#6a6a90"/>
<rect x="231.79" y="805.26" width="2.6" height="2.39" fill="#c8c6d8"/>
<rect x="247.64" y="791.84" width="3.57" height="3.34" fill="#dcdcec"/>
<rect x="219.07" y="803.26" width="1.8" height="1.9" fill="#c8c6d8"/>
<rect x="243.87" y="794.52" width="3.94" height="1.34" fill="#f6f6fa"/>
<rect x="234.4" y="785.46" width="1.52" height="1.26" fill="#6a6a90"/>
<rect x="218.95" y="796.73" width="3.76" height="1.64" fill="#8a86a8"/>
<rect x="231.33" y="782.36" width="1.92" height="1.99" fill="#c8c6d8"/>
<rect x="246.07" y="776.41" width="1.74" height="3.16" fill="#f8f8fc"/>
<rect x="234.57" y="806.95" width="1.57" height="2.72" fill="#6a6a90"/>
<rect x="240.92" y="796.73" width="2.37" height="3.41" fill="#c8c6d8"/>
<rect x="211.29" y="781.63" width="3.08" height="2.3" fill="#c8c6d8"/>
<rect x="249.19" y="800.23" width="4.01" height="1.88" fill="#3a3f66"/>
<rect x="215.49" y="786.56" width="3.15" height="2.8" fill="#3e4268"/>
<rect x="237.28" y="769.05" width="1.79" height="2.02" fill="#ffffff"/>
<rect x="251.2" y="771.74" width="4.19" height="3.04" fill="#8a86b8"/>
<rect x="247.17" y="794.9" width="1.89" height="1.88" fill="#f6f6fa"/>
<rect x="215.5" y="794.44" width="2.82" height="2.41" fill="#3e4268"/>
<rect x="209.92" y="788.82" width="1.79" height="2.39" fill="#c8c6d8"/>
<rect x="238.04" y="776.54" width="2.88" height="2.82" fill="#ffffff"/>
<rect x="223.53" y="808.49" width="2.9" height="2.85" fill="#8a86a8"/>
<rect x="242.43" y="781.99" width="2.68" height="1.32" fill="#ffffff"/>
<rect x="217.47" y="776.39" width="3.62" height="2.29" fill="#c8c6d8"/>
<rect x="249.53" y="779.72" width="3.78" height="3.16" fill="#2e3358"/>
<rect x="215.18" y="792.3" width="3.95" height="2.08" fill="#c8c6d8"/>
<rect x="245.75" y="805.02" width="2.89" height="2.84" fill="#3e4268"/>
<rect x="245.86" y="793.55" width="1.55" height="3.37" fill="#f6f6fa"/>
<rect x="238.69" y="791.66" width="4.15" height="1.43" fill="#8a86a8"/>
<rect x="242.71" y="798.61" width="2.32" height="3.32" fill="#8a86a8"/>
<rect x="231.74" y="786.61" width="1.53" height="2.76" fill="#8a86a8"/>
<rect x="227.16" y="787.63" width="2.9" height="1.67" fill="#8a86a8"/>
<rect x="249.75" y="768.55" width="4.22" height="2.43" fill="#f8f8fc"/>
<rect x="235.88" y="768.23" width="2.96" height="2.75" fill="#ffffff"/>
<rect x="220.31" y="776.96" width="1.58" height="1.38" fill="#c8c6d8"/>
<rect x="239.83" y="772.92" width="2.27" height="2.64" fill="#8a86b8"/>
<rect x="243.54" y="796.56" width="1.99" height="2.08" fill="#6a6a90"/>
<rect x="226.35" y="778.17" width="2.35" height="2.28" fill="#6a6a90"/>
<rect x="204.78" y="766.87" width="3.19" height="1.67" fill="#c8c6d8"/>
<rect x="236.22" y="786.98" width="2.95" height="2.44" fill="#8a86a8"/>
<rect x="247.33" y="768.72" width="2.41" height="2.69" fill="#e8e6f2"/>
<rect x="241.79" y="793.69" width="3.05" height="3.32" fill="#c8c6d8"/>
<rect x="228.39" y="774.52" width="3.89" height="2.65" fill="#8a86a8"/>
<rect x="219.06" y="775.49" width="3.18" height="2.4" fill="#c8c6d8"/>
<rect x="207.56" y="770.25" width="4.07" height="1.69" fill="#c8c6d8"/>
<rect x="221.29" y="779.89" width="2" height="2.22" fill="#3e4268"/>
<rect x="218.31" y="804.14" width="4.47" height="1.7" fill="#c8c6d8"/>
<rect x="217.42" y="772.28" width="2.91" height="2.93" fill="#8a86a8"/>
<rect x="244.13" y="773.42" width="3.89" height="1.74" fill="#ffffff"/>
<rect x="242.38" y="792.8" width="3.93" height="2.92" fill="#3a3f66"/>
<rect x="217.78" y="796.58" width="3.73" height="2.93" fill="#3e4268"/>
<rect x="245.21" y="805.91" width="3.1" height="2.67" fill="#3e4268"/>
<rect x="208.09" y="778.76" width="2.02" height="3.4" fill="#c8c6d8"/>
<rect x="221.2" y="786.04" width="2.44" height="2.07" fill="#8a86a8"/>
<rect x="249.81" y="769.91" width="2.58" height="3.31" fill="#ffffff"/>
<rect x="245.86" y="798.38" width="1.53" height="1.94" fill="#3a3f66"/>
<rect x="243.15" y="791.15" width="2.35" height="2.67" fill="#ffffff"/>
<rect x="211.72" y="779.1" width="1.79" height="1.53" fill="#c8c6d8"/>
<rect x="214.22" y="776.27" width="2.58" height="1.41" fill="#c8c6d8"/>
<rect x="213.44" y="796.03" width="2.51" height="2.06" fill="#6a6a90"/>
<rect x="240.48" y="768.07" width="2.03" height="1.35" fill="#ffffff"/>
<rect x="225.37" y="777.17" width="3.07" height="3.14" fill="#3e4268"/>
<rect x="220.45" y="798.66" width="2.18" height="1.32" fill="#c8c6d8"/>
<rect x="240.42" y="786.61" width="3.13" height="2.63" fill="#dcdcec"/>
<rect x="208.92" y="787.5" width="4.47" height="3.13" fill="#c8c6d8"/>
<rect x="225.88" y="783.23" width="1.64" height="1.45" fill="#c8c6d8"/>
<rect x="251.08" y="770.95" width="4.25" height="1.38" fill="#ffffff"/>
<rect x="218.95" y="799.95" width="2.26" height="2.74" fill="#6a6a90"/>
<rect x="214.98" y="766.48" width="3.51" height="1.41" fill="#c8c6d8"/>
<rect x="249.97" y="793.52" width="4.07" height="2.29" fill="#f6f6fa"/>
<rect x="207.71" y="771.44" width="1.92" height="2.35" fill="#6a6a90"/>
<rect x="207.51" y="774.04" width="3.97" height="2.4" fill="#6a6a90"/>
<rect x="236.47" y="803.31" width="2.61" height="1.2" fill="#8a86a8"/>
<rect x="229.87" y="776.08" width="2.14" height="1.32" fill="#c8c6d8"/>
<rect x="214.73" y="781.82" width="4.21" height="2.85" fill="#c8c6d8"/>
<rect x="228.33" y="805.11" width="3.03" height="3.12" fill="#8a86a8"/>
<rect x="211.75" y="806.85" width="2.63" height="1.88" fill="#8a86a8"/>
<rect x="224.78" y="783.92" width="2.44" height="1.89" fill="#c8c6d8"/>
<rect x="209.33" y="769.73" width="2.35" height="2.96" fill="#3e4268"/>
<rect x="250.69" y="775.32" width="3.6" height="2.71" fill="#ffffff"/>
<rect x="206.13" y="789.29" width="2.14" height="2.1" fill="#8a86a8"/>
<rect x="206.52" y="771.38" width="3.73" height="2.82" fill="#6a6a90"/>
<rect x="226.84" y="767.47" width="4.01" height="2.58" fill="#ffffff"/>
<rect x="206.48" y="773.88" width="1.92" height="2.8" fill="#6a6a90"/>
<rect x="247.43" y="798.43" width="4.43" height="3.27" fill="#f6f6fa"/>
<rect x="226.32" y="778.03" width="1.97" height="1.95" fill="#8a86a8"/>
<rect x="242.91" y="802.2" width="2.74" height="2.16" fill="#6a6a90"/>
<rect x="238.27" y="785.12" width="3.41" height="2.89" fill="#f6f6fa"/>
<rect x="248.7" y="766.08" width="2.5" height="2.44" fill="#8a86b8"/>
<rect x="222.99" y="788.15" width="2.79" height="1.5" fill="#8a86a8"/>
<rect x="212.66" y="803.26" width="4.41" height="2.08" fill="#c8c6d8"/>
<rect x="233.25" y="792.04" width="2.83" height="2.94" fill="#c8c6d8"/>
<rect x="244.31" y="780.02" width="2.01" height="2.59" fill="#f6f6fa"/>
<rect x="244.78" y="775.02" width="3.46" height="2.53" fill="#ffffff"/>
<rect x="210.67" y="805.85" width="3.11" height="3.09" fill="#8a86a8"/>
<rect x="209.27" y="799.56" width="2.09" height="1.92" fill="#6a6a90"/>
<rect x="219.56" y="776.48" width="3.97" height="1.37" fill="#3e4268"/>
<rect x="226.63" y="796.22" width="3.24" height="1.5" fill="#3e4268"/>
<rect x="211.71" y="791.68" width="3.66" height="2.66" fill="#c8c6d8"/>
<rect x="225.54" y="777.49" width="2.99" height="3.04" fill="#6a6a90"/>
<rect x="247.38" y="771.95" width="4.05" height="3.17" fill="#e8e6f2"/>
<rect x="215.28" y="792.17" width="3.27" height="2.82" fill="#3e4268"/>
<rect x="229.12" y="775.56" width="3.18" height="1.8" fill="#8a86a8"/>
<rect x="216.32" y="806.24" width="3.97" height="1.47" fill="#c8c6d8"/>
<rect x="225.94" y="782.5" width="2.35" height="1.75" fill="#c8c6d8"/>
<rect x="207.26" y="788.13" width="3.31" height="2.45" fill="#6a6a90"/>
<rect x="204.87" y="782.17" width="2.7" height="2.38" fill="#c8c6d8"/>
<rect x="209.41" y="787.5" width="3.24" height="2.82" fill="#c8c6d8"/>
<rect x="238.93" y="774.98" width="1.59" height="1.3" fill="#f8f8fc"/>
<rect x="234.94" y="774.34" width="3.11" height="2.62" fill="#ffffff"/>
<rect x="234.82" y="806.22" width="3.42" height="2.44" fill="#6a6a90"/>
<rect x="236.31" y="771.31" width="1.6" height="2.38" fill="#ffffff"/>
<rect x="217.2" y="767.44" width="3.79" height="2.78" fill="#3e4268"/>
<rect x="209.24" y="780.97" width="2.59" height="3.38" fill="#3e4268"/>
<rect x="234.33" y="800.25" width="3.03" height="3.42" fill="#3e4268"/>
<rect x="205.89" y="780.14" width="2.55" height="3.44" fill="#6a6a90"/>
<rect x="229.61" y="767.6" width="3.57" height="2.37" fill="#f6f6fa"/>
<rect x="240.59" y="783.96" width="3.87" height="1.57" fill="#ffffff"/>
<rect x="206.8" y="791.08" width="3.52" height="1.88" fill="#3e4268"/>
<rect x="246.84" y="767.14" width="3.2" height="3.35" fill="#ffffff"/>
<rect x="214.93" y="768.14" width="1.83" height="2.57" fill="#3e4268"/>
<rect x="207.85" y="775.5" width="1.81" height="2.79" fill="#8a86a8"/>
<rect x="208.43" y="802.33" width="1.66" height="2.39" fill="#8a86a8"/>
<rect x="229.29" y="782.86" width="1.96" height="1.5" fill="#8a86a8"/>
<rect x="238.96" y="767.69" width="2.05" height="3.08" fill="#ffffff"/>
<rect x="248.78" y="791.35" width="1.99" height="2.57" fill="#3a3f66"/>
<rect x="210.66" y="780.6" width="2.25" height="1.63" fill="#6a6a90"/>
<rect x="211.73" y="783.25" width="4.44" height="2.28" fill="#3e4268"/>
<rect x="213.47" y="784.25" width="2.56" height="2.65" fill="#8a86a8"/>
<rect x="206.16" y="782.49" width="2.78" height="3.34" fill="#6a6a90"/>
<rect x="205.82" y="804.8" width="3.21" height="2.78" fill="#c8c6d8"/>
<rect x="216.22" y="796.24" width="3.07" height="2.62" fill="#3e4268"/>
<rect x="246.99" y="776.06" width="1.98" height="1.86" fill="#ffffff"/>
<rect x="248.31" y="781.06" width="3.02" height="3.27" fill="#2e3358"/>
<rect x="239.51" y="793.68" width="1.85" height="2.58" fill="#c8c6d8"/>
<rect x="233.79" y="785.09" width="2.86" height="3.37" fill="#c8c6d8"/>
<rect x="237.85" y="797.4" width="2" height="1.74" fill="#3e4268"/>
<rect x="246.47" y="772.93" width="3" height="3.47" fill="#8a86b8"/>
<rect x="242.36" y="783.02" width="3.21" height="2.13" fill="#dcdcec"/>
<rect x="234.84" y="799.33" width="3.51" height="2.74" fill="#3e4268"/>
<rect x="223.38" y="767.14" width="1.8" height="1.22" fill="#c8c6d8"/>
<rect x="243.71" y="779.36" width="3.7" height="1.61" fill="#dcdcec"/>
<rect x="243.54" y="779.5" width="3.08" height="2.3" fill="#f6f6fa"/>
<rect x="233.59" y="775.59" width="3.31" height="1.99" fill="#f8f8fc"/>
<rect x="218.82" y="771.46" width="1.53" height="2.13" fill="#6a6a90"/>
<rect x="235.05" y="791.96" width="4.13" height="2.67" fill="#6a6a90"/>
<rect x="231.5" y="775.05" width="2.48" height="1.97" fill="#ffffff"/>
<rect x="241.09" y="782.34" width="3.68" height="2.27" fill="#ffffff"/>
<rect x="217.72" y="787.21" width="2.23" height="3.14" fill="#3e4268"/>
<rect x="250.42" y="773.25" width="3.12" height="2.69" fill="#ffffff"/>
<rect x="233.81" y="774.47" width="2.21" height="3.18" fill="#8a86b8"/>
<rect x="232.07" y="787.52" width="1.5" height="2.96" fill="#8a86a8"/>
<rect x="239.17" y="793.52" width="3.68" height="2.6" fill="#8a86a8"/>
<rect x="213.19" y="786.38" width="3.87" height="1.51" fill="#6a6a90"/>
<rect x="214.48" y="795.87" width="3.36" height="2.25" fill="#6a6a90"/>
<rect x="234.46" y="797.49" width="2.69" height="3.12" fill="#3e4268"/>
<rect x="205.18" y="803.39" width="1.61" height="2.04" fill="#3e4268"/>
<rect x="222.43" y="768.7" width="2.03" height="3.05" fill="#c8c6d8"/>
<rect x="245.66" y="785.05" width="2.3" height="3.2" fill="#f6f6fa"/>
<rect x="229.76" y="804.88" width="2.36" height="1.26" fill="#3e4268"/>
<rect x="246.19" y="774.42" width="4.23" height="1.63" fill="#8a86b8"/>
<rect x="219.06" y="805.46" width="3.59" height="2.26" fill="#6a6a90"/>
<rect x="207.61" y="807.97" width="3.41" height="3.05" fill="#3e4268"/>
<rect x="234.76" y="802.2" width="3.94" height="1.71" fill="#8a86a8"/>
<rect x="219.76" y="777.21" width="3.83" height="2.36" fill="#3e4268"/>
<rect x="247.64" y="807.61" width="2.55" height="3.4" fill="#8a86a8"/>
<rect x="238.84" y="773.89" width="3.78" height="2.93" fill="#ffffff"/>
<rect x="220.57" y="771.88" width="4.08" height="2.93" fill="#6a6a90"/>
<rect x="211.08" y="797.35" width="3.53" height="2.31" fill="#c8c6d8"/>
<rect x="218.44" y="768.16" width="4.39" height="1.46" fill="#8a86a8"/>
<rect x="242.95" y="804.27" width="4.17" height="2.84" fill="#3e4268"/>
<rect x="248.9" y="799" width="1.89" height="3.48" fill="#ffffff"/>
<rect x="215.36" y="796.84" width="3.92" height="3.47" fill="#8a86a8"/>
<rect x="245.48" y="794.29" width="2.73" height="2.71" fill="#ffffff"/>
<rect x="243.54" y="779.87" width="3.46" height="1.99" fill="#3a3f66"/>
<rect x="213.31" y="806.79" width="1.88" height="3.39" fill="#6a6a90"/>
<rect x="211.45" y="798.57" width="3.4" height="2.62" fill="#8a86a8"/>
<rect x="237.37" y="770.77" width="4" height="2.86" fill="#ffffff"/>
<rect x="212.96" y="794.05" width="3.11" height="1.92" fill="#6a6a90"/>
<rect x="228.12" y="775.69" width="3.52" height="2.25" fill="#c8c6d8"/>
<rect x="219.32" y="767.47" width="2.68" height="2.5" fill="#6a6a90"/>
<rect x="239.5" y="776.62" width="2.22" height="2.17" fill="#ffffff"/>
<rect x="206.73" y="772.65" width="4.3" height="3.11" fill="#8a86a8"/>
<rect x="212.69" y="771.94" width="3.43" height="2.96" fill="#6a6a90"/>
<rect x="226.3" y="770.18" width="3.57" height="3.12" fill="#6a6a90"/>
<rect x="213.55" y="765.48" width="3.96" height="3.15" fill="#c8c6d8"/>
<rect x="212.83" y="802.34" width="3.21" height="3.42" fill="#3e4268"/>
<rect x="248.81" y="778.8" width="2.75" height="2.31" fill="#ffffff"/>
<rect x="243.95" y="798.59" width="2.02" height="3.05" fill="#c8c6d8"/>
<rect x="218.43" y="790.36" width="3.22" height="1.94" fill="#c8c6d8"/>
<rect x="208.06" y="765.74" width="4.16" height="2.26" fill="#c8c6d8"/>
<rect x="208.88" y="801.69" width="3.07" height="1.84" fill="#c8c6d8"/>
<rect x="249.7" y="781.42" width="3.7" height="3.46" fill="#2e3358"/>
<polygon points="204.7,776.23 216.35,778.39 228,787.05 234.99,797.88 232.66,808.7 204.7,808.7" fill="#a48c6c"/>
<clipPath id="cj2b"><polygon points="204.7,776.23 216.35,778.39 228,787.05 234.99,797.88 232.66,808.7 204.7,808.7"/></clipPath>
<g clip-path="url(#cj2b)">
<circle cx="224.89" cy="807.47" r="2.78" fill="#c0a884"/>
<circle cx="246.27" cy="772.44" r="1.14" fill="#c0a884"/>
<circle cx="211.29" cy="787.72" r="2.47" fill="#b8a27c"/>
<circle cx="214.96" cy="799.48" r="1.09" fill="#8a7454"/>
<circle cx="246.53" cy="789.06" r="1.61" fill="#b8a27c"/>
<circle cx="238.57" cy="799.67" r="2.79" fill="#b8a27c"/>
<circle cx="231.45" cy="801.1" r="2" fill="#7a6a5a"/>
<circle cx="230.39" cy="791.62" r="1.32" fill="#c0a884"/>
<circle cx="228.56" cy="796.46" r="1.11" fill="#c0a884"/>
<circle cx="213.78" cy="779.42" r="1.59" fill="#8a7454"/>
<circle cx="226.48" cy="773.38" r="1.1" fill="#7a6a5a"/>
<circle cx="216.71" cy="797.6" r="1.53" fill="#7a6a5a"/>
<circle cx="206.92" cy="779.3" r="1.84" fill="#b8a27c"/>
<circle cx="213.25" cy="795.27" r="1.96" fill="#c0a884"/>
<circle cx="237.06" cy="778.24" r="2.31" fill="#b8a27c"/>
<circle cx="240.26" cy="767.76" r="2.8" fill="#8a7454"/>
<circle cx="249.79" cy="790.57" r="1.04" fill="#7a6a5a"/>
<circle cx="214.67" cy="794.84" r="2.13" fill="#c0a884"/>
<circle cx="224.77" cy="794.41" r="2.55" fill="#7a6a5a"/>
<circle cx="209.51" cy="765.72" r="1.41" fill="#8a7454"/>
<circle cx="211.92" cy="778.19" r="1.24" fill="#8a7454"/>
<circle cx="248.02" cy="804.32" r="1.21" fill="#b8a27c"/>
<circle cx="223.88" cy="775.64" r="2.77" fill="#c0a884"/>
<circle cx="230.04" cy="766.83" r="1.55" fill="#b8a27c"/>
<circle cx="231.99" cy="767.44" r="2.64" fill="#b8a27c"/>
<circle cx="236.38" cy="773.02" r="2.8" fill="#8a7454"/>
<circle cx="212.65" cy="770.74" r="1.4" fill="#b8a27c"/>
<circle cx="217.82" cy="795.34" r="2.75" fill="#b8a27c"/>
<circle cx="234.25" cy="790.08" r="2.92" fill="#8a7454"/>
<circle cx="221.47" cy="795.36" r="1.42" fill="#c0a884"/>
<circle cx="217.92" cy="769.06" r="2.64" fill="#7a6a5a"/>
<circle cx="235.14" cy="778.04" r="2.55" fill="#7a6a5a"/>
<circle cx="251.28" cy="767.24" r="1.62" fill="#8a7454"/>
<circle cx="251.09" cy="787.09" r="1.28" fill="#7a6a5a"/>
<circle cx="218.08" cy="804.67" r="1.84" fill="#c0a884"/>
<circle cx="246.06" cy="800.59" r="2.9" fill="#b8a27c"/>
<circle cx="234.82" cy="775.48" r="2.25" fill="#b8a27c"/>
<circle cx="207.71" cy="768.91" r="1.29" fill="#8a7454"/>
<circle cx="211.76" cy="773.64" r="1.75" fill="#b8a27c"/>
<circle cx="224.88" cy="774.1" r="1.68" fill="#7a6a5a"/>
<circle cx="225.07" cy="776.11" r="1.52" fill="#7a6a5a"/>
<circle cx="247.77" cy="797.01" r="2.66" fill="#8a7454"/>
<circle cx="210.06" cy="778.12" r="2.58" fill="#b8a27c"/>
<circle cx="214.31" cy="801.74" r="1.06" fill="#8a7454"/>
<circle cx="222.72" cy="783.4" r="2.87" fill="#c0a884"/>
<circle cx="233.91" cy="806.45" r="2.5" fill="#8a7454"/>
<circle cx="212.76" cy="804.82" r="2.84" fill="#b8a27c"/>
<circle cx="208.46" cy="796.32" r="2.04" fill="#7a6a5a"/>
<circle cx="209.98" cy="807.88" r="1.36" fill="#7a6a5a"/>
<circle cx="213.88" cy="791.73" r="1.35" fill="#8a7454"/>
<circle cx="247.25" cy="794.33" r="2.81" fill="#c0a884"/>
<circle cx="226.49" cy="793.3" r="2.17" fill="#b8a27c"/>
<circle cx="242.81" cy="779.76" r="1.14" fill="#7a6a5a"/>
<circle cx="241.17" cy="807.64" r="1.23" fill="#b8a27c"/>
<circle cx="208.63" cy="808.33" r="1.55" fill="#c0a884"/>
<circle cx="250.97" cy="777.22" r="2.25" fill="#7a6a5a"/>
<circle cx="222.25" cy="790.82" r="1.45" fill="#c0a884"/>
<circle cx="225.33" cy="786.46" r="2.31" fill="#7a6a5a"/>
<circle cx="238.01" cy="767.99" r="1.08" fill="#c0a884"/>
<circle cx="238.52" cy="794.27" r="2.42" fill="#b8a27c"/>
</g>
</g></g>
<rect x="236.3" y="803.5" width="10" height="2.2" fill="#000"/>
<defs><clipPath id="cj3"><rect x="257" y="765.4" width="45.6" height="43.3"/></clipPath></defs>
<g clip-path="url(#cj3)"><g filter="url(#jb)">
<rect x="257" y="765.4" width="45.6" height="43.3" fill="#666b92"/>
<rect x="267.85" y="788.97" width="4.25" height="2.29" fill="#3e4268"/>
<rect x="283.49" y="791.62" width="2.28" height="1.74" fill="#c8c6d8"/>
<rect x="302.4" y="785.76" width="2.93" height="2.67" fill="#f4f4fa"/>
<rect x="263.87" y="792.89" width="3.72" height="2.74" fill="#c8c6d8"/>
<rect x="259.92" y="798.23" width="2.4" height="1.27" fill="#6a6a90"/>
<rect x="296.47" y="785.87" width="3.64" height="3.32" fill="#3a3f66"/>
<rect x="275.01" y="800.08" width="4.39" height="1.51" fill="#c8c6d8"/>
<rect x="273.67" y="766.95" width="2.15" height="3.42" fill="#c8c6d8"/>
<rect x="276.89" y="792.53" width="2.76" height="3.12" fill="#3e4268"/>
<rect x="283.18" y="788.53" width="3.25" height="3.28" fill="#c8c6d8"/>
<rect x="288.1" y="805.62" width="4.47" height="2.74" fill="#3e4268"/>
<rect x="264.44" y="802.67" width="3.64" height="1.69" fill="#6a6a90"/>
<rect x="294.92" y="790.23" width="1.87" height="2.31" fill="#dcdcec"/>
<rect x="286.13" y="786.34" width="3.9" height="2.14" fill="#3e4268"/>
<rect x="263.87" y="778.13" width="4.12" height="1.3" fill="#c8c6d8"/>
<rect x="285.02" y="767.35" width="2.49" height="3.23" fill="#ffffff"/>
<rect x="301.72" y="787.28" width="2.43" height="1.38" fill="#f6f6fa"/>
<rect x="284.35" y="766.76" width="4.41" height="1.87" fill="#ffffff"/>
<rect x="269.01" y="795.27" width="2.44" height="3.4" fill="#3e4268"/>
<rect x="297.89" y="781.76" width="4.11" height="2.09" fill="#3a3f66"/>
<rect x="296.53" y="794.89" width="3.36" height="3.36" fill="#f6f6fa"/>
<rect x="280.12" y="784.07" width="4.31" height="2.21" fill="#8a86a8"/>
<rect x="268.78" y="778.52" width="1.53" height="2.15" fill="#3e4268"/>
<rect x="283.45" y="766.27" width="3.27" height="1.51" fill="#ffffff"/>
<rect x="285.89" y="779.8" width="3.54" height="2.01" fill="#dcdcec"/>
<rect x="289.24" y="797.36" width="3.27" height="3.4" fill="#6a6a90"/>
<rect x="257.97" y="781.38" width="2.4" height="2.58" fill="#c8c6d8"/>
<rect x="265.09" y="773.42" width="4.03" height="1.81" fill="#3e4268"/>
<rect x="292.9" y="769.94" width="4.41" height="2.77" fill="#f8f8fc"/>
<rect x="262.99" y="787.05" width="2.22" height="1.63" fill="#3e4268"/>
<rect x="276.85" y="795.63" width="3.3" height="3.38" fill="#6a6a90"/>
<rect x="287.78" y="775.12" width="1.74" height="2.91" fill="#ffffff"/>
<rect x="266.94" y="790.01" width="2.18" height="1.48" fill="#3e4268"/>
<rect x="281.15" y="773.66" width="2.05" height="1.84" fill="#ffffff"/>
<rect x="293.81" y="793.2" width="2.54" height="1.5" fill="#ffffff"/>
<rect x="270.31" y="799.77" width="2.89" height="2.66" fill="#3e4268"/>
<rect x="270.24" y="790.01" width="4.26" height="1.56" fill="#6a6a90"/>
<rect x="257.21" y="806.24" width="3.18" height="3.47" fill="#c8c6d8"/>
<rect x="289.71" y="766.8" width="4.01" height="2.72" fill="#8a86b8"/>
<rect x="280.67" y="777.92" width="4.17" height="3.18" fill="#3e4268"/>
<rect x="296.12" y="807.44" width="3.93" height="1.3" fill="#6a6a90"/>
<rect x="298.2" y="795.44" width="4.19" height="3.27" fill="#ffffff"/>
<rect x="283.31" y="765.97" width="2.02" height="1.89" fill="#f6f6fa"/>
<rect x="287.23" y="788.13" width="1.66" height="3.3" fill="#c8c6d8"/>
<rect x="262.18" y="770.83" width="3.93" height="1.34" fill="#c8c6d8"/>
<rect x="267.07" y="770.69" width="2.01" height="3.02" fill="#6a6a90"/>
<rect x="299.03" y="800.3" width="2.96" height="2.51" fill="#f6f6fa"/>
<rect x="275.25" y="798.16" width="2.31" height="2.41" fill="#8a86a8"/>
<rect x="276.29" y="785.88" width="4.07" height="2.98" fill="#6a6a90"/>
<rect x="259.11" y="767.56" width="4.42" height="3.17" fill="#c8c6d8"/>
<rect x="260.93" y="787.14" width="1.97" height="1.37" fill="#3e4268"/>
<rect x="274.59" y="782.27" width="2.58" height="1.64" fill="#3e4268"/>
<rect x="271.99" y="770.76" width="3.65" height="2.07" fill="#6a6a90"/>
<rect x="260.64" y="773.13" width="2.88" height="2.7" fill="#3e4268"/>
<rect x="281.68" y="792.97" width="3.37" height="2.19" fill="#6a6a90"/>
<rect x="273.98" y="786.88" width="2.76" height="2.8" fill="#3e4268"/>
<rect x="278.01" y="776.01" width="3.59" height="1.36" fill="#3e4268"/>
<rect x="276.37" y="783.84" width="4.31" height="2.06" fill="#6a6a90"/>
<rect x="297.94" y="799.65" width="1.86" height="2.79" fill="#3e4268"/>
<rect x="299.82" y="797.08" width="3.88" height="2.74" fill="#ffffff"/>
<rect x="290.46" y="789.81" width="3.93" height="2.85" fill="#6a6a90"/>
<rect x="278.59" y="775.62" width="1.63" height="1.41" fill="#c8c6d8"/>
<rect x="261.53" y="803.52" width="3.96" height="1.99" fill="#8a86a8"/>
<rect x="295.86" y="766.5" width="3.52" height="3.12" fill="#f8f8fc"/>
<rect x="300.43" y="790.47" width="1.61" height="2.97" fill="#f6f6fa"/>
<rect x="280.32" y="796.37" width="3.16" height="1.43" fill="#6a6a90"/>
<rect x="282.23" y="789.22" width="3.98" height="1.76" fill="#8a86a8"/>
<rect x="265.2" y="776.22" width="2.26" height="2.58" fill="#c8c6d8"/>
<rect x="299.81" y="789.5" width="2.63" height="1.74" fill="#f6f6fa"/>
<rect x="299.38" y="801.93" width="2.75" height="2.51" fill="#8a86a8"/>
<rect x="283.44" y="805.41" width="1.97" height="2.12" fill="#c8c6d8"/>
<rect x="297.47" y="772.44" width="3.74" height="3.31" fill="#8a86b8"/>
<rect x="280.59" y="784.58" width="1.91" height="2.93" fill="#8a86a8"/>
<rect x="263.68" y="787.73" width="4.05" height="2.44" fill="#8a86a8"/>
<rect x="292.55" y="794.47" width="3.29" height="2.54" fill="#c8c6d8"/>
<rect x="301.86" y="803.91" width="1.57" height="2.3" fill="#dcdcec"/>
<rect x="274.45" y="772.86" width="2.22" height="2.31" fill="#3e4268"/>
<rect x="296.39" y="783.52" width="3.6" height="1.67" fill="#3a3f66"/>
<rect x="283.47" y="804.45" width="2.94" height="2.86" fill="#6a6a90"/>
<rect x="296.06" y="782.73" width="2.9" height="1.73" fill="#f6f6fa"/>
<rect x="267.71" y="796.48" width="4.38" height="3.16" fill="#6a6a90"/>
<rect x="268.04" y="773.61" width="1.91" height="2.63" fill="#3e4268"/>
<rect x="287.79" y="766.99" width="2.01" height="1.3" fill="#e8e6f2"/>
<rect x="265.36" y="769.34" width="1.85" height="1.81" fill="#6a6a90"/>
<rect x="298.67" y="766.96" width="3.24" height="2.75" fill="#8a86b8"/>
<rect x="257.31" y="779.9" width="2.64" height="1.38" fill="#c8c6d8"/>
<rect x="286.38" y="797.54" width="2.67" height="2.45" fill="#c8c6d8"/>
<rect x="262.43" y="777.3" width="1.84" height="3.24" fill="#c8c6d8"/>
<rect x="298.44" y="769.6" width="3.54" height="2.05" fill="#e8e6f2"/>
<rect x="277.54" y="794.1" width="1.82" height="3.37" fill="#3e4268"/>
<rect x="272.44" y="789.91" width="3.5" height="2.37" fill="#6a6a90"/>
<rect x="259.71" y="778.15" width="3.44" height="2.88" fill="#8a86a8"/>
<rect x="263.82" y="781.45" width="1.87" height="3.34" fill="#c8c6d8"/>
<rect x="263.45" y="779.76" width="3.16" height="2.69" fill="#c8c6d8"/>
<rect x="277.87" y="778.93" width="3.62" height="1.45" fill="#8a86a8"/>
<rect x="265.26" y="789.38" width="2.58" height="1.81" fill="#c8c6d8"/>
<rect x="274.48" y="803.18" width="2.94" height="1.82" fill="#6a6a90"/>
<rect x="288.71" y="787.69" width="4.34" height="2.23" fill="#3e4268"/>
<rect x="293.9" y="768.4" width="4.04" height="1.46" fill="#8a86b8"/>
<rect x="269.33" y="769.71" width="3.19" height="3.29" fill="#6a6a90"/>
<rect x="262.11" y="795.63" width="3.51" height="2.1" fill="#c8c6d8"/>
<rect x="301.84" y="770.96" width="1.94" height="2.12" fill="#ffffff"/>
<rect x="265.83" y="788.25" width="2.11" height="1.78" fill="#8a86a8"/>
<rect x="292.64" y="766.7" width="4.17" height="3.38" fill="#8a86b8"/>
<rect x="274.47" y="789.33" width="3.4" height="3.45" fill="#3e4268"/>
<rect x="288.31" y="778.36" width="1.59" height="1.64" fill="#8a86b8"/>
<rect x="285.91" y="770.05" width="2.98" height="2.4" fill="#ffffff"/>
<rect x="278" y="773.78" width="1.61" height="2.35" fill="#8a86a8"/>
<rect x="286.46" y="784.63" width="4.38" height="3.25" fill="#3e4268"/>
<rect x="263.18" y="799.71" width="1.58" height="2.62" fill="#6a6a90"/>
<rect x="280.07" y="786.99" width="4.29" height="1.94" fill="#6a6a90"/>
<rect x="296.7" y="795.48" width="1.74" height="3.13" fill="#ffffff"/>
<rect x="292.36" y="766.87" width="3.72" height="1.99" fill="#f8f8fc"/>
<rect x="293.78" y="805.74" width="2.81" height="2.94" fill="#8a86a8"/>
<rect x="279.12" y="770.12" width="2.73" height="3.14" fill="#f6f6fa"/>
<rect x="289.19" y="782.35" width="3.6" height="2.44" fill="#3a3f66"/>
<rect x="276.25" y="793.51" width="1.57" height="2.25" fill="#3e4268"/>
<rect x="288.52" y="784.38" width="4.2" height="2.86" fill="#3a3f66"/>
<rect x="273.73" y="781.46" width="3.29" height="1.71" fill="#3e4268"/>
<rect x="257.12" y="774.45" width="1.93" height="2.26" fill="#3e4268"/>
<rect x="265.91" y="774.46" width="3.25" height="2.36" fill="#8a86a8"/>
<rect x="286.03" y="771.43" width="2" height="2.33" fill="#ffffff"/>
<rect x="259.72" y="766.37" width="2.45" height="1.28" fill="#c8c6d8"/>
<rect x="289.56" y="775.76" width="2.69" height="1.26" fill="#f8f8fc"/>
<rect x="301.03" y="774.88" width="2.67" height="1.64" fill="#f8f8fc"/>
<rect x="272.18" y="770.43" width="3.28" height="3.06" fill="#6a6a90"/>
<rect x="270.26" y="807.89" width="3.87" height="3.41" fill="#c8c6d8"/>
<rect x="279.28" y="789.7" width="3.94" height="2.65" fill="#6a6a90"/>
<rect x="272.72" y="769.46" width="4.41" height="2.56" fill="#c8c6d8"/>
<rect x="257.17" y="766.71" width="1.56" height="2.36" fill="#6a6a90"/>
<rect x="278.97" y="773.59" width="2.1" height="3.44" fill="#3e4268"/>
<rect x="278.75" y="800.2" width="4.32" height="1.28" fill="#3e4268"/>
<rect x="270.9" y="791.68" width="1.76" height="1.87" fill="#c8c6d8"/>
<rect x="295.76" y="770.37" width="3.14" height="2.43" fill="#8a86b8"/>
<rect x="292.49" y="782.84" width="4.01" height="2.47" fill="#3a3f66"/>
<rect x="299.11" y="781.11" width="2.82" height="2.22" fill="#ffffff"/>
<rect x="289.04" y="780.35" width="3.02" height="2.93" fill="#ffffff"/>
<rect x="298.73" y="795.58" width="1.63" height="1.59" fill="#3a3f66"/>
<rect x="291.28" y="801.03" width="3.78" height="2.76" fill="#6a6a90"/>
<rect x="261.43" y="775.67" width="4.14" height="3.21" fill="#6a6a90"/>
<rect x="277.52" y="804.24" width="4.49" height="1.2" fill="#3e4268"/>
<rect x="265.88" y="799.47" width="2.52" height="1.92" fill="#6a6a90"/>
<rect x="277.53" y="800.99" width="2.22" height="1.31" fill="#8a86a8"/>
<rect x="263.96" y="793.31" width="1.84" height="1.86" fill="#6a6a90"/>
<rect x="266.52" y="802.24" width="3.01" height="3.29" fill="#c8c6d8"/>
<rect x="271.54" y="803.63" width="2.9" height="2.63" fill="#8a86a8"/>
<rect x="258.88" y="800.31" width="4.08" height="1.43" fill="#6a6a90"/>
<rect x="300.01" y="776.44" width="2.9" height="1.71" fill="#f8f8fc"/>
<rect x="294.82" y="792.05" width="3.78" height="3.2" fill="#3a3f66"/>
<rect x="272.78" y="791.51" width="3.83" height="1.87" fill="#c8c6d8"/>
<rect x="300.1" y="784.61" width="2.12" height="2.44" fill="#ffffff"/>
<rect x="278.17" y="796.92" width="2.52" height="1.64" fill="#6a6a90"/>
<rect x="291.36" y="805.41" width="2.77" height="2.69" fill="#3e4268"/>
<rect x="284.63" y="774.67" width="4.01" height="1.34" fill="#e8e6f2"/>
<rect x="267.77" y="784.41" width="2.15" height="1.58" fill="#3e4268"/>
<rect x="299.45" y="796.85" width="2.89" height="2.84" fill="#ffffff"/>
<rect x="295.88" y="781.32" width="4.21" height="3.38" fill="#ffffff"/>
<rect x="279.08" y="798.89" width="2.91" height="2.55" fill="#c8c6d8"/>
<rect x="258.59" y="806.86" width="2.05" height="1.42" fill="#6a6a90"/>
<rect x="289.94" y="778.14" width="1.68" height="2.29" fill="#ffffff"/>
<rect x="265.88" y="774.38" width="2.8" height="1.99" fill="#c8c6d8"/>
<rect x="290.84" y="797.74" width="1.93" height="2.22" fill="#3e4268"/>
<rect x="298.43" y="784.62" width="1.96" height="2.95" fill="#ffffff"/>
<rect x="288.94" y="807.68" width="4.33" height="2.19" fill="#3e4268"/>
<rect x="299.86" y="785.93" width="2.17" height="3.4" fill="#ffffff"/>
<rect x="270.15" y="766.67" width="4.16" height="3.06" fill="#3e4268"/>
<rect x="270.56" y="775.9" width="1.54" height="2.65" fill="#6a6a90"/>
<rect x="263.8" y="766.3" width="1.51" height="3.46" fill="#6a6a90"/>
<rect x="293.17" y="780.77" width="4.44" height="1.28" fill="#dcdcec"/>
<rect x="265.44" y="765.97" width="4.21" height="3.12" fill="#c8c6d8"/>
<rect x="284.52" y="800.53" width="2.43" height="1.77" fill="#c8c6d8"/>
<rect x="293.58" y="783.51" width="2.52" height="1.27" fill="#dcdcec"/>
<rect x="258.7" y="808.53" width="4.24" height="3.06" fill="#8a86a8"/>
<rect x="268.28" y="771.27" width="3.03" height="3.11" fill="#c8c6d8"/>
<rect x="282.16" y="777.51" width="1.64" height="2.32" fill="#8a86a8"/>
<rect x="259.76" y="800.75" width="2.9" height="2.73" fill="#c8c6d8"/>
<rect x="299.35" y="800.65" width="3.05" height="2.05" fill="#ffffff"/>
<rect x="285.83" y="778.12" width="3.55" height="3.48" fill="#f8f8fc"/>
<rect x="281.95" y="783.07" width="2.83" height="1.84" fill="#3e4268"/>
<rect x="268.65" y="777.66" width="3.23" height="1.52" fill="#8a86a8"/>
<rect x="258.72" y="786.43" width="3.98" height="3.34" fill="#8a86a8"/>
<rect x="284.93" y="766.72" width="3.29" height="1.47" fill="#ffffff"/>
<rect x="262.71" y="799.41" width="1.81" height="2.74" fill="#3e4268"/>
<rect x="273.93" y="787.69" width="2.09" height="3.32" fill="#c8c6d8"/>
<rect x="265.26" y="782" width="2.45" height="1.82" fill="#c8c6d8"/>
<rect x="300.32" y="806.27" width="3.33" height="2.48" fill="#3e4268"/>
<rect x="258.62" y="783.47" width="4.44" height="1.38" fill="#c8c6d8"/>
<rect x="267.48" y="774.06" width="3.59" height="1.46" fill="#6a6a90"/>
<rect x="285.83" y="770.75" width="4.33" height="3.44" fill="#f8f8fc"/>
<rect x="288.56" y="784.07" width="2.89" height="1.87" fill="#3a3f66"/>
<rect x="282.52" y="772.96" width="4.37" height="1.53" fill="#3a3f66"/>
<rect x="298.29" y="773.1" width="3.52" height="2.69" fill="#8a86b8"/>
<rect x="263.48" y="767.76" width="2.43" height="2.69" fill="#8a86a8"/>
<rect x="262.96" y="771.75" width="3.1" height="2.08" fill="#8a86a8"/>
<rect x="261.88" y="782.28" width="2.34" height="1.5" fill="#6a6a90"/>
<rect x="263.62" y="770.9" width="4.31" height="2.59" fill="#3e4268"/>
<rect x="299.62" y="765.72" width="4.49" height="3.45" fill="#e8e6f2"/>
<rect x="268.22" y="780.74" width="1.81" height="3.15" fill="#c8c6d8"/>
<rect x="278.56" y="797.42" width="3.21" height="2.27" fill="#c8c6d8"/>
<rect x="281.54" y="784.55" width="4" height="1.66" fill="#c8c6d8"/>
<rect x="284.1" y="805.79" width="2.4" height="3.18" fill="#8a86a8"/>
<rect x="300.73" y="779.12" width="1.89" height="2.59" fill="#ffffff"/>
<rect x="259.6" y="792" width="1.84" height="1.23" fill="#8a86a8"/>
<rect x="296.66" y="799.78" width="3.08" height="2.96" fill="#3e4268"/>
<rect x="261.22" y="788.8" width="2.48" height="2.56" fill="#c8c6d8"/>
<rect x="266.97" y="785.16" width="3.41" height="2.56" fill="#3e4268"/>
<rect x="289.03" y="798.78" width="4.09" height="3.12" fill="#3e4268"/>
<rect x="270.08" y="807.69" width="2.05" height="2.58" fill="#3e4268"/>
<rect x="267.09" y="808.5" width="2.35" height="3.42" fill="#8a86a8"/>
<rect x="277.65" y="786.09" width="4.46" height="2.42" fill="#8a86a8"/>
<rect x="277.13" y="792.15" width="2.75" height="2.46" fill="#6a6a90"/>
<rect x="284.84" y="778.01" width="4.06" height="2.08" fill="#ffffff"/>
<rect x="301.75" y="781.27" width="1.67" height="2.34" fill="#5a5f8a"/>
<rect x="262.36" y="797.11" width="3.63" height="2.03" fill="#c8c6d8"/>
<rect x="270.71" y="787.28" width="2.82" height="3.29" fill="#c8c6d8"/>
<rect x="288.25" y="769.91" width="1.94" height="1.71" fill="#8a86b8"/>
<rect x="273.91" y="792.02" width="4.16" height="1.68" fill="#8a86a8"/>
<rect x="276.84" y="773.92" width="3.12" height="3.32" fill="#6a6a90"/>
<rect x="281.37" y="797.33" width="2.82" height="2.77" fill="#8a86a8"/>
<rect x="262.51" y="803.5" width="2.17" height="1.52" fill="#c8c6d8"/>
<rect x="270.98" y="789.33" width="3.97" height="2.58" fill="#6a6a90"/>
<rect x="260.87" y="766.61" width="2.65" height="2.33" fill="#3e4268"/>
<rect x="301.95" y="785.87" width="2.67" height="2.38" fill="#5a5f8a"/>
<rect x="276.72" y="792.62" width="2.81" height="1.42" fill="#3e4268"/>
<rect x="301.65" y="795.33" width="1.69" height="3.22" fill="#f6f6fa"/>
<rect x="291.02" y="779.3" width="2.47" height="3.3" fill="#f6f6fa"/>
<rect x="285.79" y="769.48" width="3.43" height="3.23" fill="#e8e6f2"/>
<rect x="267.31" y="779.37" width="4.37" height="1.32" fill="#c8c6d8"/>
<rect x="280.62" y="804.49" width="3.22" height="1.4" fill="#8a86a8"/>
<rect x="267.59" y="785.7" width="2.35" height="3.46" fill="#c8c6d8"/>
<polygon points="257,765.4 277.52,765.4 283.45,776.23 282.08,787.05 279.8,800.04 272.96,808.7 257,808.7" fill="#d0141e"/>
<clipPath id="cj3b"><polygon points="257,765.4 277.52,765.4 283.45,776.23 282.08,787.05 279.8,800.04 272.96,808.7 257,808.7"/></clipPath>
<g clip-path="url(#cj3b)">
<circle cx="287.16" cy="788.28" r="1.4" fill="#e82430"/>
<circle cx="272.63" cy="790.86" r="2.16" fill="#e82430"/>
<circle cx="285.27" cy="780.77" r="2.54" fill="#b8101a"/>
<circle cx="296.1" cy="797.36" r="1.41" fill="#a00c14"/>
<circle cx="289.89" cy="802.54" r="2.26" fill="#e82430"/>
<circle cx="296.73" cy="774.76" r="2.65" fill="#e82430"/>
<circle cx="262.46" cy="804.96" r="1.79" fill="#a00c14"/>
<circle cx="271.38" cy="798.08" r="1.65" fill="#a00c14"/>
<circle cx="274.53" cy="802.27" r="2.67" fill="#a00c14"/>
<circle cx="267.8" cy="781.29" r="1.45" fill="#e82430"/>
<circle cx="268.43" cy="776.8" r="2.39" fill="#e82430"/>
<circle cx="290.39" cy="774.39" r="1.61" fill="#a00c14"/>
<circle cx="282.76" cy="776.03" r="2.4" fill="#a00c14"/>
<circle cx="293.97" cy="781.19" r="1.46" fill="#b8101a"/>
<circle cx="291.25" cy="782.47" r="2.08" fill="#b8101a"/>
<circle cx="265.08" cy="778.47" r="1.75" fill="#a00c14"/>
<circle cx="292.87" cy="802.62" r="1.98" fill="#b8101a"/>
<circle cx="265.05" cy="787.9" r="1.84" fill="#e82430"/>
<circle cx="267.12" cy="800.8" r="2.97" fill="#e82430"/>
<circle cx="275.52" cy="792.21" r="2.52" fill="#a00c14"/>
<circle cx="289.69" cy="780.07" r="2.46" fill="#b8101a"/>
<circle cx="271.65" cy="780.51" r="1.29" fill="#e82430"/>
<circle cx="278.79" cy="788.75" r="2.73" fill="#e82430"/>
<circle cx="274.09" cy="767.21" r="1.69" fill="#b8101a"/>
<circle cx="266.26" cy="769.45" r="2.52" fill="#b8101a"/>
<circle cx="284.04" cy="790.69" r="2.36" fill="#e82430"/>
<circle cx="281.69" cy="808.2" r="2.67" fill="#b8101a"/>
<circle cx="286.69" cy="805.4" r="1.85" fill="#b8101a"/>
<circle cx="290.52" cy="780.58" r="1.96" fill="#b8101a"/>
<circle cx="265.28" cy="778.19" r="1.38" fill="#e82430"/>
<circle cx="289.52" cy="779.43" r="1.32" fill="#b8101a"/>
<circle cx="279.16" cy="788.83" r="1.93" fill="#e82430"/>
<circle cx="282.21" cy="781.24" r="2.45" fill="#b8101a"/>
<circle cx="278.99" cy="774.13" r="2.01" fill="#a00c14"/>
<circle cx="262.43" cy="789.3" r="1.23" fill="#e82430"/>
<circle cx="296.61" cy="787.72" r="1.79" fill="#a00c14"/>
<circle cx="278.87" cy="795.02" r="1.46" fill="#e82430"/>
<circle cx="262.34" cy="806.45" r="1.95" fill="#e82430"/>
<circle cx="263.72" cy="781.39" r="2.36" fill="#e82430"/>
<circle cx="283.05" cy="787.52" r="1.4" fill="#a00c14"/>
<circle cx="268.26" cy="776.59" r="1.7" fill="#e82430"/>
<circle cx="298.17" cy="769.67" r="2.41" fill="#a00c14"/>
<circle cx="267.28" cy="785.19" r="2.95" fill="#e82430"/>
<circle cx="294.78" cy="771.54" r="1.09" fill="#e82430"/>
<circle cx="269.29" cy="787.43" r="1.74" fill="#e82430"/>
<circle cx="290.97" cy="787.23" r="2.37" fill="#e82430"/>
<circle cx="301.6" cy="784.02" r="1.59" fill="#e82430"/>
<circle cx="283.71" cy="782.2" r="1.09" fill="#a00c14"/>
<circle cx="276.67" cy="765.46" r="2.58" fill="#a00c14"/>
<circle cx="280.02" cy="806.67" r="2.7" fill="#b8101a"/>
<circle cx="286.38" cy="776.53" r="2.26" fill="#b8101a"/>
<circle cx="291" cy="805.28" r="1.41" fill="#a00c14"/>
<circle cx="266.92" cy="806.76" r="1.15" fill="#e82430"/>
<circle cx="290.67" cy="771.87" r="2.09" fill="#b8101a"/>
<circle cx="294.16" cy="797.04" r="1.52" fill="#a00c14"/>
<circle cx="285.49" cy="803.69" r="1.28" fill="#a00c14"/>
<circle cx="288.82" cy="792.64" r="2.04" fill="#b8101a"/>
<circle cx="277.78" cy="808.44" r="2.22" fill="#e82430"/>
<circle cx="265.03" cy="801.2" r="1.14" fill="#b8101a"/>
<circle cx="288.86" cy="772.8" r="1.07" fill="#b8101a"/>
</g>
</g></g>
<rect x="287.6" y="803.5" width="10" height="2.2" fill="#000"/>
<defs><clipPath id="cj4"><rect x="151.2" y="839.4" width="45.9" height="42.2"/></clipPath></defs>
<g clip-path="url(#cj4)"><g filter="url(#jb)">
<rect x="151.2" y="839.4" width="45.9" height="42.2" fill="#d8d6e2"/>
<path d="M160.38 837.4 Q179.66 852.06 183.33 883.6" fill="none" stroke="#22263e" stroke-width="2.6"/>
<path d="M167.72 837.4 Q187 852.06 190.67 883.6" fill="none" stroke="#22263e" stroke-width="2.6"/>
<path d="M175.07 837.4 Q194.35 852.06 198.02 883.6" fill="none" stroke="#22263e" stroke-width="2.6"/>
<path d="M182.41 837.4 Q201.69 852.06 205.36 883.6" fill="none" stroke="#22263e" stroke-width="2.6"/>
<path d="M189.76 837.4 Q209.03 852.06 212.71 883.6" fill="none" stroke="#22263e" stroke-width="2.6"/>
<path d="M197.1 837.4 Q216.38 852.06 220.05 883.6" fill="none" stroke="#22263e" stroke-width="2.6"/>
<rect x="162.03" y="843.75" width="2.3" height="1.36" fill="#9a98b8"/>
<rect x="152.11" y="862.58" width="3.04" height="2.58" fill="#3a3f66"/>
<rect x="161.39" y="862.05" width="2.99" height="2.69" fill="#3a3f66"/>
<rect x="163.21" y="879.19" width="3.11" height="2.65" fill="#ffffff"/>
<rect x="187.94" y="847.56" width="1.87" height="2.76" fill="#3a3f66"/>
<rect x="195.31" y="875.21" width="1.4" height="2.29" fill="#3a3f66"/>
<rect x="182.03" y="860.75" width="1.77" height="1.7" fill="#f4f2f8"/>
<rect x="194.56" y="873.91" width="3.13" height="1.21" fill="#ffffff"/>
<rect x="164.6" y="869.15" width="3.15" height="2.12" fill="#3a3f66"/>
<rect x="170.2" y="864.67" width="2.24" height="1.62" fill="#9a98b8"/>
<rect x="163.12" y="873.05" width="1.31" height="2.33" fill="#ffffff"/>
<rect x="164.07" y="861.96" width="2.81" height="1.46" fill="#9a98b8"/>
<rect x="182.13" y="842.2" width="2.66" height="1.99" fill="#f4f2f8"/>
<rect x="159.63" y="857.8" width="1.94" height="2.21" fill="#ffffff"/>
<rect x="192.71" y="843.66" width="2.83" height="1.7" fill="#ffffff"/>
<rect x="177.92" y="875.78" width="1.96" height="1.52" fill="#ffffff"/>
<rect x="172.27" y="841.21" width="3.26" height="2.92" fill="#ffffff"/>
<rect x="184.93" y="879.91" width="1.94" height="1.78" fill="#ffffff"/>
<rect x="158.22" y="866.91" width="2.76" height="1.34" fill="#ffffff"/>
<rect x="179.55" y="877.13" width="1.51" height="1.89" fill="#3a3f66"/>
<rect x="195.35" y="853.38" width="2.04" height="2.02" fill="#ffffff"/>
<rect x="167.96" y="873.34" width="2.51" height="1.99" fill="#3a3f66"/>
<rect x="160.71" y="878.08" width="1.34" height="1.3" fill="#ffffff"/>
<rect x="158.94" y="867.96" width="2.59" height="2.18" fill="#f4f2f8"/>
<rect x="177.94" y="852.96" width="1.48" height="2.15" fill="#ffffff"/>
<rect x="186.72" y="856.67" width="2.3" height="1.64" fill="#f4f2f8"/>
<rect x="170.05" y="840.96" width="2.22" height="2.37" fill="#9a98b8"/>
<rect x="170.84" y="848.5" width="1.27" height="1.66" fill="#f4f2f8"/>
<rect x="162.33" y="848.18" width="2.16" height="1.67" fill="#f4f2f8"/>
<rect x="166.12" y="877" width="2.5" height="2.98" fill="#3a3f66"/>
<rect x="169.7" y="877.42" width="2.34" height="1.37" fill="#ffffff"/>
<rect x="160.88" y="876.27" width="1.97" height="2.38" fill="#f4f2f8"/>
<rect x="187.9" y="866.51" width="2.41" height="2.38" fill="#9a98b8"/>
<rect x="182.69" y="850.72" width="3.4" height="1.33" fill="#9a98b8"/>
<rect x="195.77" y="879.99" width="1.3" height="2.82" fill="#f4f2f8"/>
<rect x="157.06" y="880.27" width="3.2" height="2.44" fill="#ffffff"/>
<rect x="172.52" y="859.33" width="3.33" height="1.59" fill="#9a98b8"/>
<rect x="151.35" y="878.32" width="2.6" height="1.66" fill="#ffffff"/>
<rect x="169.37" y="871.88" width="3.22" height="2.19" fill="#9a98b8"/>
<rect x="191.53" y="847.91" width="1.96" height="2.81" fill="#ffffff"/>
<rect x="186.71" y="859.3" width="2.21" height="1.34" fill="#ffffff"/>
<rect x="183.12" y="844.17" width="3.19" height="2.29" fill="#ffffff"/>
<rect x="157.57" y="854.7" width="3.28" height="1.73" fill="#ffffff"/>
<rect x="167.12" y="842.55" width="2.24" height="1.57" fill="#ffffff"/>
<rect x="196.02" y="855.8" width="3.17" height="1.92" fill="#9a98b8"/>
<rect x="154.74" y="878.04" width="2.38" height="1.98" fill="#3a3f66"/>
<rect x="190.58" y="872.17" width="2.65" height="2.89" fill="#ffffff"/>
<rect x="180.44" y="878.64" width="2.17" height="2.64" fill="#9a98b8"/>
<rect x="158.88" y="876.29" width="2.83" height="1.79" fill="#f4f2f8"/>
<rect x="190.67" y="850.31" width="2.83" height="1.21" fill="#ffffff"/>
<rect x="165.51" y="862.4" width="3.01" height="2.28" fill="#9a98b8"/>
<rect x="175.36" y="861.37" width="3.15" height="1.84" fill="#9a98b8"/>
<rect x="186.39" y="881" width="2.76" height="2.3" fill="#ffffff"/>
<rect x="165.58" y="877.92" width="3" height="2.22" fill="#9a98b8"/>
<rect x="194.2" y="860.78" width="2.61" height="2" fill="#9a98b8"/>
<rect x="157.66" y="871.94" width="3.47" height="1.81" fill="#3a3f66"/>
<rect x="171.09" y="864.96" width="1.61" height="2.82" fill="#ffffff"/>
<rect x="168.27" y="863.71" width="2.75" height="2.79" fill="#3a3f66"/>
<rect x="154.74" y="866.65" width="1.96" height="1.87" fill="#f4f2f8"/>
<rect x="159.22" y="876.67" width="1.25" height="2.91" fill="#ffffff"/>
<rect x="189.29" y="873.21" width="1.56" height="2.25" fill="#ffffff"/>
<rect x="173.93" y="863.62" width="2.95" height="2.94" fill="#ffffff"/>
<rect x="156.56" y="866.9" width="2.62" height="2.7" fill="#f4f2f8"/>
<rect x="165.1" y="878.55" width="3.23" height="1.63" fill="#9a98b8"/>
<rect x="173.68" y="848.73" width="1.73" height="1.79" fill="#3a3f66"/>
<rect x="179.97" y="881.45" width="2.36" height="2.95" fill="#9a98b8"/>
<rect x="165.57" y="857.9" width="1.23" height="1.53" fill="#ffffff"/>
<rect x="176" y="868.66" width="3.1" height="1.93" fill="#ffffff"/>
<rect x="169.04" y="840.58" width="1.36" height="2.95" fill="#ffffff"/>
<rect x="196.54" y="878.22" width="3.03" height="2.84" fill="#ffffff"/>
<rect x="185.88" y="859.8" width="3.25" height="2.6" fill="#9a98b8"/>
<rect x="158.03" y="849.46" width="1.51" height="1.28" fill="#3a3f66"/>
<rect x="169.46" y="863.95" width="2.46" height="2.93" fill="#ffffff"/>
<rect x="163.24" y="861.53" width="2.93" height="1.57" fill="#f4f2f8"/>
<rect x="194.77" y="842.86" width="1.34" height="2.99" fill="#3a3f66"/>
<rect x="164.47" y="876.97" width="2.88" height="2.38" fill="#f4f2f8"/>
<rect x="194.92" y="876.47" width="2.49" height="2.45" fill="#ffffff"/>
<rect x="184.42" y="862.71" width="2.15" height="1.59" fill="#ffffff"/>
<rect x="164.88" y="860.82" width="1.59" height="2.77" fill="#9a98b8"/>
<rect x="162.95" y="855.91" width="3.18" height="1.79" fill="#3a3f66"/>
<rect x="168.95" y="857.25" width="1.84" height="2.42" fill="#ffffff"/>
<rect x="165.15" y="872.72" width="1.56" height="2.73" fill="#ffffff"/>
<rect x="188.99" y="849.19" width="1.22" height="2.84" fill="#ffffff"/>
<rect x="175.63" y="876.77" width="3.49" height="2.47" fill="#9a98b8"/>
<rect x="193.48" y="878.95" width="1.97" height="1.51" fill="#9a98b8"/>
<rect x="175.54" y="847.33" width="2.62" height="2.84" fill="#9a98b8"/>
<rect x="165.21" y="866.7" width="2.58" height="1.27" fill="#9a98b8"/>
<rect x="180.21" y="850.19" width="1.91" height="2.81" fill="#ffffff"/>
<rect x="179.89" y="853.71" width="3.25" height="2.81" fill="#ffffff"/>
<rect x="191.74" y="867.18" width="2.59" height="2.15" fill="#ffffff"/>
<rect x="196.52" y="854.3" width="1.61" height="1.28" fill="#ffffff"/>
<rect x="175.03" y="874.31" width="1.29" height="2.42" fill="#f4f2f8"/>
<rect x="166.64" y="864.79" width="2.8" height="1.41" fill="#f4f2f8"/>
<rect x="196.11" y="874.29" width="3.13" height="1.33" fill="#ffffff"/>
<rect x="161.58" y="850.97" width="3.25" height="2.95" fill="#ffffff"/>
<rect x="151.68" y="868.84" width="2.03" height="2.8" fill="#f4f2f8"/>
<rect x="185.55" y="873.83" width="3.17" height="2.34" fill="#3a3f66"/>
<rect x="169.68" y="846.69" width="3.44" height="2.56" fill="#9a98b8"/>
<rect x="190.8" y="852.01" width="3.01" height="2.47" fill="#3a3f66"/>
<rect x="171.28" y="846.78" width="2.3" height="1.99" fill="#ffffff"/>
<rect x="195.8" y="853.38" width="3.38" height="2.87" fill="#9a98b8"/>
<rect x="170" y="871.06" width="1.79" height="2.12" fill="#f4f2f8"/>
<rect x="152.58" y="850.52" width="2.75" height="2.35" fill="#3a3f66"/>
<rect x="179.33" y="852.6" width="2.63" height="2.46" fill="#f4f2f8"/>
<rect x="194.09" y="850.1" width="3.25" height="2.1" fill="#f4f2f8"/>
<rect x="156.43" y="853.77" width="2.51" height="1.57" fill="#9a98b8"/>
<rect x="155.49" y="861.31" width="1.46" height="2.95" fill="#ffffff"/>
<rect x="164.81" y="863.34" width="3.29" height="1.34" fill="#f4f2f8"/>
<rect x="190.07" y="846.97" width="2.94" height="2.64" fill="#ffffff"/>
<rect x="182.26" y="850.5" width="1.95" height="1.79" fill="#ffffff"/>
<rect x="196.32" y="865.01" width="3.47" height="1.49" fill="#3a3f66"/>
<rect x="185.87" y="841.49" width="3.39" height="2.43" fill="#ffffff"/>
<rect x="196.12" y="841.83" width="2.82" height="2.4" fill="#3a3f66"/>
<rect x="189.9" y="843.8" width="3.03" height="1.91" fill="#f4f2f8"/>
<rect x="178.8" y="860.33" width="2.03" height="2.54" fill="#3a3f66"/>
<rect x="189.68" y="871.41" width="1.62" height="1.84" fill="#ffffff"/>
<rect x="164.82" y="854.75" width="3.36" height="2.42" fill="#f4f2f8"/>
<rect x="168.81" y="862" width="3.37" height="1.54" fill="#ffffff"/>
<rect x="167.18" y="880.82" width="1.25" height="1.41" fill="#f4f2f8"/>
<rect x="164.83" y="868.52" width="3.36" height="2.1" fill="#3a3f66"/>
<polygon points="151.2,839.4 167.26,839.4 176.44,847.84 181.03,860.5 179.66,875.27 174.15,881.6 151.2,881.6" fill="#c4a48e"/>
<clipPath id="cj4b"><polygon points="151.2,839.4 167.26,839.4 176.44,847.84 181.03,860.5 179.66,875.27 174.15,881.6 151.2,881.6"/></clipPath>
<g clip-path="url(#cj4b)">
<circle cx="153.1" cy="852.32" r="2.44" fill="#dcc0b0"/>
<circle cx="158.72" cy="881.4" r="2.23" fill="#dcc0b0"/>
<circle cx="167.54" cy="858.24" r="1.27" fill="#8a7060"/>
<circle cx="185.32" cy="878.34" r="2.43" fill="#8a7060"/>
<circle cx="156.47" cy="851.87" r="2.12" fill="#8a7060"/>
<circle cx="173.31" cy="880.49" r="2.05" fill="#8a7060"/>
<circle cx="189.53" cy="849.57" r="1.67" fill="#8a7060"/>
<circle cx="184.46" cy="840.37" r="1.87" fill="#b09080"/>
<circle cx="157.55" cy="841.2" r="1.37" fill="#dcc0b0"/>
<circle cx="161.92" cy="870.63" r="2.08" fill="#dcc0b0"/>
<circle cx="159.01" cy="853.98" r="2.35" fill="#b09080"/>
<circle cx="181.46" cy="863.56" r="1.69" fill="#b09080"/>
<circle cx="166.58" cy="862.09" r="2.09" fill="#dcc0b0"/>
<circle cx="177.39" cy="875.41" r="1.99" fill="#8a7060"/>
<circle cx="154.59" cy="865.89" r="1.39" fill="#8a7060"/>
<circle cx="157.78" cy="869.41" r="2.19" fill="#8a7060"/>
<circle cx="175.93" cy="854.01" r="2.88" fill="#b09080"/>
<circle cx="194.42" cy="872.53" r="2.21" fill="#b09080"/>
<circle cx="159.28" cy="865.77" r="1.59" fill="#dcc0b0"/>
<circle cx="160.8" cy="859.34" r="1.56" fill="#b09080"/>
<circle cx="185.79" cy="842.04" r="1.28" fill="#dcc0b0"/>
<circle cx="153.27" cy="854.03" r="2.21" fill="#dcc0b0"/>
<circle cx="154.51" cy="857.69" r="1.16" fill="#dcc0b0"/>
<circle cx="187.41" cy="840.77" r="1.4" fill="#b09080"/>
<circle cx="195.05" cy="873.94" r="1.4" fill="#b09080"/>
<circle cx="193.56" cy="881.54" r="1.02" fill="#8a7060"/>
<circle cx="195.07" cy="861.34" r="2.05" fill="#8a7060"/>
<circle cx="155.44" cy="866.43" r="2.34" fill="#b09080"/>
<circle cx="160.38" cy="868.62" r="1.12" fill="#8a7060"/>
<circle cx="154.16" cy="857.81" r="1.27" fill="#8a7060"/>
<circle cx="195.49" cy="861.22" r="2.03" fill="#b09080"/>
<circle cx="163.92" cy="864.18" r="1.24" fill="#b09080"/>
<circle cx="179.81" cy="864.8" r="1.01" fill="#8a7060"/>
<circle cx="186.44" cy="862.41" r="1.85" fill="#dcc0b0"/>
<circle cx="178.41" cy="880.06" r="1.31" fill="#dcc0b0"/>
<circle cx="175.82" cy="849.85" r="2.25" fill="#8a7060"/>
<circle cx="196.21" cy="881.53" r="2.16" fill="#8a7060"/>
<circle cx="177.85" cy="863.46" r="1.39" fill="#b09080"/>
<circle cx="182.59" cy="870.02" r="2.91" fill="#dcc0b0"/>
<circle cx="194.51" cy="846.23" r="1.32" fill="#dcc0b0"/>
<circle cx="190.22" cy="869.18" r="2.07" fill="#b09080"/>
<circle cx="164.61" cy="854.95" r="2.33" fill="#dcc0b0"/>
<circle cx="155.66" cy="849.23" r="2.79" fill="#b09080"/>
<circle cx="189.5" cy="846.85" r="1.19" fill="#dcc0b0"/>
<circle cx="152.71" cy="839.64" r="2.73" fill="#8a7060"/>
<circle cx="191.42" cy="868.25" r="1.36" fill="#8a7060"/>
<circle cx="168.32" cy="866.6" r="1.77" fill="#b09080"/>
<circle cx="171.46" cy="870.3" r="1.58" fill="#8a7060"/>
<circle cx="166.98" cy="841.24" r="1.37" fill="#dcc0b0"/>
<circle cx="151.42" cy="881.32" r="1.87" fill="#b09080"/>
<circle cx="153.23" cy="848.8" r="1.75" fill="#b09080"/>
<circle cx="167.24" cy="868.19" r="1" fill="#dcc0b0"/>
<circle cx="155.64" cy="855.37" r="1.43" fill="#dcc0b0"/>
<circle cx="194.2" cy="857.66" r="2.46" fill="#dcc0b0"/>
<circle cx="158.44" cy="858.34" r="2.05" fill="#8a7060"/>
<circle cx="155.43" cy="843.64" r="1.25" fill="#dcc0b0"/>
<circle cx="185.06" cy="871.39" r="2.77" fill="#dcc0b0"/>
<circle cx="169.62" cy="852.44" r="2.57" fill="#b09080"/>
<circle cx="155.92" cy="878.26" r="2.76" fill="#b09080"/>
<circle cx="189.33" cy="869.4" r="1.87" fill="#b09080"/>
</g>
</g></g>
<rect x="182.1" y="876.4" width="10" height="2.2" fill="#000"/>
<defs><clipPath id="cj5"><rect x="204" y="839.4" width="47.2" height="42.2"/></clipPath></defs>
<g clip-path="url(#cj5)"><g filter="url(#jb)">
<rect x="204" y="839.4" width="47.2" height="42.2" fill="#d8d6e2"/>
<path d="M213.44 837.4 Q233.26 852.06 237.04 883.6" fill="none" stroke="#22263e" stroke-width="2.6"/>
<path d="M220.99 837.4 Q240.82 852.06 244.59 883.6" fill="none" stroke="#22263e" stroke-width="2.6"/>
<path d="M228.54 837.4 Q248.37 852.06 252.14 883.6" fill="none" stroke="#22263e" stroke-width="2.6"/>
<path d="M236.1 837.4 Q255.92 852.06 259.7 883.6" fill="none" stroke="#22263e" stroke-width="2.6"/>
<path d="M243.65 837.4 Q263.47 852.06 267.25 883.6" fill="none" stroke="#22263e" stroke-width="2.6"/>
<path d="M251.2 837.4 Q271.02 852.06 274.8 883.6" fill="none" stroke="#22263e" stroke-width="2.6"/>
<rect x="233.4" y="870.7" width="1.27" height="2.04" fill="#ffffff"/>
<rect x="248.53" y="866.79" width="1.46" height="2.04" fill="#f4f2f8"/>
<rect x="215.64" y="862.35" width="1.77" height="2.52" fill="#ffffff"/>
<rect x="223.26" y="847.08" width="1.57" height="2.63" fill="#9a98b8"/>
<rect x="210.55" y="865.46" width="1.5" height="2.95" fill="#f4f2f8"/>
<rect x="204.25" y="872.05" width="3.21" height="1.72" fill="#f4f2f8"/>
<rect x="249.38" y="862.16" width="1.62" height="2.94" fill="#f4f2f8"/>
<rect x="213.29" y="880.13" width="1.89" height="1.85" fill="#9a98b8"/>
<rect x="211.83" y="845.55" width="1.96" height="2.67" fill="#ffffff"/>
<rect x="231.67" y="864.55" width="1.35" height="1.84" fill="#3a3f66"/>
<rect x="218.45" y="868.79" width="2.31" height="2.47" fill="#f4f2f8"/>
<rect x="206.69" y="880.55" width="3.38" height="1.84" fill="#ffffff"/>
<rect x="223.08" y="862.57" width="2.04" height="2.24" fill="#9a98b8"/>
<rect x="204.43" y="841.37" width="2.63" height="2.92" fill="#f4f2f8"/>
<rect x="209.62" y="849.78" width="1.99" height="1.84" fill="#9a98b8"/>
<rect x="228.77" y="872.13" width="2.56" height="2.61" fill="#ffffff"/>
<rect x="221.34" y="851.89" width="3.38" height="1.36" fill="#9a98b8"/>
<rect x="220.08" y="865.18" width="1.98" height="2.86" fill="#f4f2f8"/>
<rect x="229.73" y="852.59" width="1.9" height="2.64" fill="#3a3f66"/>
<rect x="233.59" y="869.83" width="3.49" height="1.49" fill="#3a3f66"/>
<rect x="206.29" y="881.04" width="3.32" height="1.26" fill="#ffffff"/>
<rect x="238.95" y="853.91" width="2.25" height="1.96" fill="#3a3f66"/>
<rect x="206.63" y="878.06" width="3.04" height="1.8" fill="#ffffff"/>
<rect x="213.77" y="880.81" width="3.38" height="2.33" fill="#ffffff"/>
<rect x="241.19" y="843.9" width="2.06" height="1.31" fill="#9a98b8"/>
<rect x="223.85" y="845.36" width="3.16" height="2.96" fill="#ffffff"/>
<rect x="225.41" y="860" width="2.3" height="1.72" fill="#3a3f66"/>
<rect x="223.06" y="845.58" width="3.09" height="2.16" fill="#9a98b8"/>
<rect x="212.47" y="878.95" width="1.61" height="2.09" fill="#3a3f66"/>
<rect x="228.32" y="862.53" width="2.03" height="2.61" fill="#ffffff"/>
<rect x="240.58" y="868.71" width="2.95" height="1.85" fill="#ffffff"/>
<rect x="237.25" y="851.25" width="1.81" height="2.97" fill="#9a98b8"/>
<rect x="237.79" y="879.78" width="2.69" height="2.25" fill="#3a3f66"/>
<rect x="204.55" y="862.48" width="1.95" height="1.69" fill="#3a3f66"/>
<rect x="217.63" y="860.51" width="2" height="2.36" fill="#3a3f66"/>
<rect x="238.83" y="874.35" width="3.32" height="1.51" fill="#3a3f66"/>
<rect x="244.92" y="858.38" width="3.4" height="2.13" fill="#3a3f66"/>
<rect x="228.98" y="846.41" width="3.36" height="2.06" fill="#3a3f66"/>
<rect x="236.64" y="869.77" width="1.6" height="2.6" fill="#9a98b8"/>
<rect x="231.42" y="867.49" width="1.9" height="2.2" fill="#9a98b8"/>
<rect x="244.93" y="850.82" width="1.65" height="2.26" fill="#ffffff"/>
<rect x="233.46" y="847.03" width="2.65" height="1.28" fill="#f4f2f8"/>
<rect x="226.26" y="848.95" width="3.25" height="1.4" fill="#ffffff"/>
<rect x="249.69" y="859.77" width="1.28" height="2.04" fill="#ffffff"/>
<rect x="221.95" y="865.22" width="1.67" height="2.49" fill="#ffffff"/>
<rect x="221.65" y="854.19" width="3.17" height="2.76" fill="#3a3f66"/>
<rect x="236.51" y="862.49" width="2.46" height="1.74" fill="#ffffff"/>
<rect x="217.94" y="861.03" width="1.87" height="1.83" fill="#ffffff"/>
<rect x="210.1" y="856.67" width="2.68" height="1.86" fill="#ffffff"/>
<rect x="210.71" y="864.55" width="2.3" height="1.56" fill="#ffffff"/>
<rect x="210.28" y="843.23" width="2.08" height="1.79" fill="#ffffff"/>
<rect x="247.26" y="862.16" width="2.65" height="2.8" fill="#3a3f66"/>
<rect x="221.74" y="857.62" width="2.33" height="2.06" fill="#f4f2f8"/>
<rect x="237.43" y="855.6" width="2.57" height="1.67" fill="#f4f2f8"/>
<rect x="250.3" y="860.34" width="1.25" height="2.9" fill="#9a98b8"/>
<rect x="218.51" y="878.63" width="2.3" height="1.42" fill="#f4f2f8"/>
<rect x="233.34" y="858.11" width="1.29" height="1.45" fill="#3a3f66"/>
<rect x="222.52" y="859.67" width="1.83" height="2.88" fill="#ffffff"/>
<rect x="240.91" y="849.77" width="3.14" height="2.5" fill="#3a3f66"/>
<rect x="217.49" y="860.17" width="2.39" height="2.75" fill="#9a98b8"/>
<rect x="245.57" y="877.17" width="2.95" height="1.74" fill="#ffffff"/>
<rect x="229.18" y="853.58" width="2.88" height="1.25" fill="#3a3f66"/>
<rect x="220.51" y="868.17" width="1.5" height="1.21" fill="#ffffff"/>
<rect x="230.11" y="868.34" width="3.24" height="2.18" fill="#ffffff"/>
<rect x="204.69" y="872.25" width="2.57" height="2.44" fill="#9a98b8"/>
<rect x="248.99" y="866.78" width="2.29" height="2.43" fill="#9a98b8"/>
<rect x="237.97" y="877.33" width="3.11" height="1.32" fill="#9a98b8"/>
<rect x="243.47" y="868.71" width="2.54" height="2.37" fill="#9a98b8"/>
<rect x="226.3" y="852.52" width="2.3" height="2.19" fill="#f4f2f8"/>
<rect x="227.49" y="853.36" width="2.18" height="2.17" fill="#f4f2f8"/>
<rect x="206.29" y="870.32" width="3.09" height="2.63" fill="#3a3f66"/>
<rect x="235.32" y="840.48" width="3.45" height="3" fill="#9a98b8"/>
<rect x="237.1" y="841.46" width="1.7" height="2.36" fill="#ffffff"/>
<rect x="248.95" y="869.47" width="3.49" height="2.47" fill="#f4f2f8"/>
<rect x="224.67" y="847.13" width="2.15" height="1.49" fill="#f4f2f8"/>
<rect x="233.38" y="841.24" width="2.72" height="2.54" fill="#ffffff"/>
<rect x="217.21" y="863.5" width="2.91" height="2.78" fill="#ffffff"/>
<rect x="210.34" y="857.62" width="2.78" height="2.08" fill="#3a3f66"/>
<rect x="220.68" y="867.09" width="1.52" height="1.73" fill="#ffffff"/>
<rect x="230.84" y="868.01" width="3.29" height="2.2" fill="#3a3f66"/>
<rect x="233.31" y="850.51" width="1.74" height="2.7" fill="#ffffff"/>
<rect x="217.38" y="880.55" width="3.19" height="2.02" fill="#f4f2f8"/>
<rect x="222.36" y="844.94" width="2.71" height="1.35" fill="#ffffff"/>
<rect x="235.53" y="843.25" width="2.36" height="2.02" fill="#ffffff"/>
<rect x="222.4" y="858.92" width="1.45" height="2.16" fill="#3a3f66"/>
<rect x="229.59" y="855.63" width="3.37" height="1.97" fill="#f4f2f8"/>
<rect x="241.5" y="871.03" width="3.44" height="2.4" fill="#ffffff"/>
<rect x="242.73" y="845.3" width="2.06" height="2.7" fill="#ffffff"/>
<rect x="217.68" y="878.67" width="3.03" height="1.88" fill="#3a3f66"/>
<rect x="238.11" y="854.52" width="3.05" height="1.98" fill="#3a3f66"/>
<rect x="244.19" y="861.24" width="3.48" height="1.59" fill="#ffffff"/>
<rect x="212.52" y="842.07" width="1.28" height="1.56" fill="#ffffff"/>
<rect x="205.86" y="876.93" width="2.72" height="1.83" fill="#9a98b8"/>
<rect x="224.15" y="852.08" width="3.32" height="1.78" fill="#ffffff"/>
<rect x="225.8" y="847.49" width="1.36" height="2.76" fill="#f4f2f8"/>
<rect x="245.01" y="859.22" width="1.78" height="1.7" fill="#ffffff"/>
<rect x="211.62" y="851.51" width="1.28" height="2.81" fill="#f4f2f8"/>
<rect x="220.25" y="871.13" width="3.36" height="2.44" fill="#3a3f66"/>
<rect x="235.8" y="859.31" width="1.47" height="2.4" fill="#f4f2f8"/>
<rect x="217.74" y="867.86" width="1.28" height="2.49" fill="#f4f2f8"/>
<rect x="231.13" y="867.1" width="2.12" height="2.95" fill="#ffffff"/>
<rect x="221.19" y="852.56" width="2.03" height="1.32" fill="#9a98b8"/>
<rect x="250.9" y="859.15" width="1.6" height="1.58" fill="#f4f2f8"/>
<rect x="206.07" y="865.09" width="1.21" height="1.31" fill="#3a3f66"/>
<rect x="240.78" y="856.71" width="1.28" height="2.7" fill="#ffffff"/>
<rect x="243.52" y="863.25" width="2.85" height="1.63" fill="#ffffff"/>
<rect x="241.91" y="843.28" width="1.32" height="1.64" fill="#9a98b8"/>
<rect x="206.38" y="856.17" width="1.31" height="2.7" fill="#ffffff"/>
<rect x="225.05" y="866.43" width="3.39" height="1.55" fill="#ffffff"/>
<rect x="236.84" y="866.43" width="2.42" height="1.35" fill="#f4f2f8"/>
<rect x="218.82" y="843.96" width="3.47" height="1.49" fill="#ffffff"/>
<rect x="207.56" y="870.21" width="1.24" height="2.17" fill="#ffffff"/>
<rect x="226.96" y="863.51" width="2.4" height="1.44" fill="#9a98b8"/>
<rect x="204.58" y="871.31" width="3.25" height="3" fill="#9a98b8"/>
<rect x="230.17" y="845.25" width="1.4" height="2.59" fill="#9a98b8"/>
<rect x="242.68" y="852.6" width="2.43" height="2.05" fill="#f4f2f8"/>
<rect x="236.91" y="873.11" width="2.73" height="1.7" fill="#ffffff"/>
<rect x="227.25" y="849.9" width="3.03" height="2.79" fill="#f4f2f8"/>
<rect x="245.8" y="842.43" width="2.07" height="2.58" fill="#3a3f66"/>
<rect x="204" y="851.47" width="2.52" height="2" fill="#f4f2f8"/>
<polygon points="204,841.51 220.52,839.4 229.96,847.84 234.68,858.39 236.1,864.72 229.96,871.05 227.6,881.6 204,881.6" fill="#cc1830"/>
<clipPath id="cj5b"><polygon points="204,841.51 220.52,839.4 229.96,847.84 234.68,858.39 236.1,864.72 229.96,871.05 227.6,881.6 204,881.6"/></clipPath>
<g clip-path="url(#cj5b)">
<circle cx="242.55" cy="867.06" r="2.91" fill="#a81020"/>
<circle cx="237.1" cy="850.7" r="2.62" fill="#e02838"/>
<circle cx="230.52" cy="852.96" r="1.61" fill="#a81020"/>
<circle cx="216.39" cy="867.92" r="1.57" fill="#a81020"/>
<circle cx="229.6" cy="870.58" r="1.06" fill="#a81020"/>
<circle cx="206.39" cy="844.89" r="1.71" fill="#e02838"/>
<circle cx="248.8" cy="865.23" r="1.46" fill="#e02838"/>
<circle cx="209.92" cy="847.89" r="1.72" fill="#a81020"/>
<circle cx="231.58" cy="874.3" r="2.45" fill="#a81020"/>
<circle cx="216.66" cy="864.97" r="2.26" fill="#a81020"/>
<circle cx="225.06" cy="879.01" r="2.59" fill="#a81020"/>
<circle cx="219.74" cy="858.21" r="1.46" fill="#e02838"/>
<circle cx="212.1" cy="841.44" r="2.34" fill="#a81020"/>
<circle cx="229.14" cy="880.32" r="2.19" fill="#a81020"/>
<circle cx="209.99" cy="875.29" r="2.37" fill="#a81020"/>
<circle cx="250.16" cy="840.79" r="2.15" fill="#e02838"/>
<circle cx="237.28" cy="854.35" r="1.93" fill="#a81020"/>
<circle cx="217.08" cy="847.89" r="2.12" fill="#e02838"/>
<circle cx="240.09" cy="872.54" r="1.73" fill="#a81020"/>
<circle cx="242.43" cy="867.38" r="2.82" fill="#a81020"/>
<circle cx="233.18" cy="856.32" r="1.29" fill="#a81020"/>
<circle cx="227.13" cy="840.99" r="1.34" fill="#a81020"/>
<circle cx="239.57" cy="851.28" r="2.84" fill="#e02838"/>
<circle cx="226.52" cy="859.24" r="2.07" fill="#a81020"/>
<circle cx="241.78" cy="855.29" r="1.02" fill="#a81020"/>
<circle cx="242.39" cy="840.34" r="2.36" fill="#e02838"/>
<circle cx="228.24" cy="860.55" r="2.09" fill="#e02838"/>
<circle cx="225.23" cy="872.64" r="2.16" fill="#a81020"/>
<circle cx="229.33" cy="873.1" r="1.73" fill="#a81020"/>
<circle cx="236.07" cy="861.44" r="1.57" fill="#a81020"/>
<circle cx="205.29" cy="872.05" r="2.22" fill="#e02838"/>
<circle cx="218.48" cy="878.61" r="1.55" fill="#a81020"/>
<circle cx="207.4" cy="871.19" r="2.34" fill="#e02838"/>
<circle cx="246.35" cy="868.42" r="2.68" fill="#a81020"/>
<circle cx="226.8" cy="843.28" r="1.24" fill="#e02838"/>
<circle cx="250" cy="862.36" r="1.79" fill="#a81020"/>
<circle cx="235.68" cy="855.35" r="2.5" fill="#a81020"/>
<circle cx="246.96" cy="865.29" r="1.77" fill="#a81020"/>
<circle cx="243.8" cy="876.93" r="2.38" fill="#e02838"/>
<circle cx="215.75" cy="843.62" r="1.59" fill="#e02838"/>
<circle cx="241.63" cy="842.69" r="2.9" fill="#a81020"/>
<circle cx="233.87" cy="871.75" r="1.45" fill="#a81020"/>
<circle cx="230.9" cy="865.84" r="2.28" fill="#e02838"/>
<circle cx="223.68" cy="857.35" r="2.06" fill="#a81020"/>
<circle cx="218.27" cy="851.25" r="2.21" fill="#e02838"/>
<circle cx="212.84" cy="840.69" r="1.23" fill="#a81020"/>
<circle cx="224.48" cy="853.16" r="1.2" fill="#e02838"/>
<circle cx="238.41" cy="841.99" r="1.97" fill="#a81020"/>
<circle cx="219.03" cy="875.28" r="2.29" fill="#a81020"/>
<circle cx="246.17" cy="865.37" r="2.6" fill="#a81020"/>
<circle cx="204.07" cy="867.77" r="1.22" fill="#e02838"/>
<circle cx="211.17" cy="865.38" r="1.21" fill="#e02838"/>
<circle cx="238.75" cy="873.85" r="2.61" fill="#a81020"/>
<circle cx="221.24" cy="873.76" r="1.39" fill="#e02838"/>
<circle cx="221.67" cy="858.76" r="2.36" fill="#a81020"/>
<circle cx="215.6" cy="879.13" r="1.93" fill="#a81020"/>
<circle cx="209.55" cy="864.6" r="1.75" fill="#a81020"/>
<circle cx="227.39" cy="880.03" r="2.89" fill="#a81020"/>
<circle cx="227.16" cy="878.97" r="2.42" fill="#a81020"/>
<circle cx="209.52" cy="859.61" r="1.71" fill="#a81020"/>
</g>
</g></g>
<rect x="236.2" y="876.4" width="10" height="2.2" fill="#000"/>
<defs><clipPath id="cj6"><rect x="259.6" y="839.4" width="44.2" height="42.2"/></clipPath></defs>
<g clip-path="url(#cj6)"><g filter="url(#jb)">
<rect x="259.6" y="839.4" width="44.2" height="42.2" fill="#d8d6e2"/>
<path d="M268.44 837.4 Q287 852.06 290.54 883.6" fill="none" stroke="#22263e" stroke-width="2.6"/>
<path d="M275.51 837.4 Q294.08 852.06 297.61 883.6" fill="none" stroke="#22263e" stroke-width="2.6"/>
<path d="M282.58 837.4 Q301.15 852.06 304.68 883.6" fill="none" stroke="#22263e" stroke-width="2.6"/>
<path d="M289.66 837.4 Q308.22 852.06 311.76 883.6" fill="none" stroke="#22263e" stroke-width="2.6"/>
<path d="M296.73 837.4 Q315.29 852.06 318.83 883.6" fill="none" stroke="#22263e" stroke-width="2.6"/>
<path d="M303.8 837.4 Q322.36 852.06 325.9 883.6" fill="none" stroke="#22263e" stroke-width="2.6"/>
<rect x="294.67" y="874.09" width="2.95" height="1.27" fill="#9a98b8"/>
<rect x="266.03" y="864.15" width="1.93" height="1.24" fill="#3a3f66"/>
<rect x="281.21" y="847.76" width="3.29" height="2.17" fill="#9a98b8"/>
<rect x="263.76" y="863.18" width="2.72" height="2.3" fill="#3a3f66"/>
<rect x="263.49" y="857.32" width="2.03" height="1.94" fill="#ffffff"/>
<rect x="270.67" y="868.92" width="2.81" height="2.63" fill="#f4f2f8"/>
<rect x="263.91" y="841.33" width="3.1" height="2.84" fill="#f4f2f8"/>
<rect x="281.11" y="874.54" width="2.38" height="2.36" fill="#f4f2f8"/>
<rect x="290.45" y="873.39" width="2.66" height="1.64" fill="#ffffff"/>
<rect x="278.59" y="854.48" width="1.41" height="2.78" fill="#ffffff"/>
<rect x="282.82" y="844.33" width="1.92" height="1.55" fill="#3a3f66"/>
<rect x="280.98" y="845.23" width="3.12" height="2.78" fill="#f4f2f8"/>
<rect x="282.68" y="847.37" width="1.24" height="1.8" fill="#f4f2f8"/>
<rect x="299.58" y="865.58" width="2.06" height="2.15" fill="#3a3f66"/>
<rect x="272.38" y="868.04" width="1.32" height="1.96" fill="#9a98b8"/>
<rect x="292.59" y="856.19" width="1.76" height="2.96" fill="#9a98b8"/>
<rect x="299.04" y="867.68" width="2.23" height="2.7" fill="#9a98b8"/>
<rect x="294.79" y="861.2" width="1.9" height="2.67" fill="#9a98b8"/>
<rect x="301.18" y="847.51" width="2.24" height="2.5" fill="#3a3f66"/>
<rect x="302.26" y="840.18" width="1.48" height="2.26" fill="#ffffff"/>
<rect x="275.56" y="850.22" width="1.96" height="2.13" fill="#9a98b8"/>
<rect x="302.99" y="878.52" width="2.61" height="1.68" fill="#9a98b8"/>
<rect x="280.58" y="859.59" width="2.86" height="2.09" fill="#f4f2f8"/>
<rect x="287.64" y="859.12" width="2.72" height="2.95" fill="#3a3f66"/>
<rect x="300.4" y="855.27" width="1.81" height="2.36" fill="#ffffff"/>
<rect x="302.7" y="870.18" width="3.35" height="1.72" fill="#f4f2f8"/>
<rect x="259.87" y="858.36" width="1.62" height="2.3" fill="#ffffff"/>
<rect x="284.78" y="868.18" width="2.03" height="2.89" fill="#3a3f66"/>
<rect x="297.32" y="842.03" width="1.56" height="1.68" fill="#f4f2f8"/>
<rect x="260.26" y="873.42" width="2.33" height="2.04" fill="#ffffff"/>
<rect x="264.03" y="854.68" width="2.77" height="1.64" fill="#f4f2f8"/>
<rect x="273.67" y="840.99" width="2.84" height="1.28" fill="#ffffff"/>
<rect x="280.72" y="869.96" width="2.65" height="2.46" fill="#ffffff"/>
<rect x="265.21" y="874.54" width="1.57" height="2.34" fill="#ffffff"/>
<rect x="271.32" y="874.78" width="2.35" height="1.24" fill="#9a98b8"/>
<rect x="287.78" y="873.93" width="3.29" height="1.99" fill="#f4f2f8"/>
<rect x="294.01" y="858.27" width="2.3" height="2.24" fill="#3a3f66"/>
<rect x="296.35" y="851.71" width="1.86" height="2.89" fill="#3a3f66"/>
<rect x="263.3" y="875.61" width="1.83" height="2.05" fill="#3a3f66"/>
<rect x="279.24" y="855.08" width="1.77" height="2.29" fill="#ffffff"/>
<rect x="270.14" y="870.86" width="1.97" height="1.26" fill="#f4f2f8"/>
<rect x="301.67" y="870.62" width="2.81" height="1.82" fill="#f4f2f8"/>
<rect x="263.03" y="870.27" width="2.12" height="1.44" fill="#ffffff"/>
<rect x="292.44" y="866.38" width="1.37" height="2.14" fill="#f4f2f8"/>
<rect x="260.95" y="861.57" width="1.62" height="2.53" fill="#f4f2f8"/>
<rect x="282.02" y="875.27" width="3.37" height="2.45" fill="#f4f2f8"/>
<rect x="291.21" y="844.71" width="2.94" height="2.99" fill="#f4f2f8"/>
<rect x="284.4" y="839.6" width="2.09" height="2.57" fill="#ffffff"/>
<rect x="297.39" y="861.61" width="2.11" height="3" fill="#ffffff"/>
<rect x="283.96" y="867.34" width="2.68" height="2.65" fill="#f4f2f8"/>
<rect x="276.05" y="867.53" width="1.58" height="2.33" fill="#f4f2f8"/>
<rect x="276.6" y="841.98" width="2.29" height="1.31" fill="#ffffff"/>
<rect x="288.37" y="862.2" width="2.57" height="1.31" fill="#3a3f66"/>
<rect x="269.54" y="856.57" width="2.78" height="2.91" fill="#ffffff"/>
<rect x="263.7" y="842.66" width="3.19" height="1.5" fill="#ffffff"/>
<rect x="288.83" y="844.47" width="2.81" height="1.52" fill="#ffffff"/>
<rect x="289.83" y="840.68" width="2.7" height="1.72" fill="#9a98b8"/>
<rect x="279.2" y="847.93" width="3.01" height="1.59" fill="#ffffff"/>
<rect x="285.78" y="850.16" width="2.99" height="1.37" fill="#3a3f66"/>
<rect x="285.92" y="840.78" width="2.79" height="1.61" fill="#3a3f66"/>
<rect x="293.32" y="854.61" width="2.2" height="2.7" fill="#3a3f66"/>
<rect x="261.89" y="845.28" width="1.97" height="2.07" fill="#ffffff"/>
<rect x="280.09" y="850.53" width="2.62" height="1.61" fill="#ffffff"/>
<rect x="265.17" y="862.43" width="3.45" height="1.89" fill="#f4f2f8"/>
<rect x="285.85" y="863.18" width="3.34" height="1.66" fill="#9a98b8"/>
<rect x="272.82" y="840.79" width="1.44" height="1.52" fill="#9a98b8"/>
<rect x="264.39" y="878.58" width="2.38" height="1.42" fill="#ffffff"/>
<rect x="285.8" y="859.39" width="2.96" height="2.17" fill="#ffffff"/>
<rect x="294.76" y="848.49" width="1.56" height="2.85" fill="#9a98b8"/>
<rect x="298.04" y="875.48" width="2.16" height="1.77" fill="#3a3f66"/>
<rect x="272.23" y="864.23" width="1.71" height="2.6" fill="#3a3f66"/>
<rect x="267.41" y="856.6" width="2.97" height="2.87" fill="#ffffff"/>
<rect x="263.54" y="855.45" width="2.93" height="2.84" fill="#f4f2f8"/>
<rect x="266.12" y="878.59" width="2.4" height="2.6" fill="#ffffff"/>
<rect x="281.17" y="854.77" width="3.14" height="2.27" fill="#3a3f66"/>
<rect x="297.93" y="866.81" width="1.8" height="1.27" fill="#ffffff"/>
<rect x="285.63" y="865.2" width="3.09" height="2.11" fill="#f4f2f8"/>
<rect x="294.18" y="871.7" width="1.4" height="2.7" fill="#ffffff"/>
<rect x="292.97" y="848.52" width="1.56" height="2.51" fill="#3a3f66"/>
<rect x="300.12" y="846.79" width="1.72" height="1.43" fill="#f4f2f8"/>
<rect x="280.78" y="878.55" width="1.45" height="2.31" fill="#ffffff"/>
<rect x="279.74" y="873.32" width="2.05" height="1.46" fill="#ffffff"/>
<rect x="274.29" y="850.53" width="1.83" height="1.2" fill="#ffffff"/>
<rect x="298.6" y="840.66" width="1.93" height="1.22" fill="#9a98b8"/>
<rect x="299.05" y="843.68" width="1.97" height="2.53" fill="#ffffff"/>
<rect x="297.57" y="845.39" width="2.05" height="2.57" fill="#f4f2f8"/>
<rect x="292.48" y="872.63" width="3.24" height="1.47" fill="#ffffff"/>
<rect x="303.17" y="855.16" width="2.76" height="2.06" fill="#f4f2f8"/>
<rect x="262.71" y="844.51" width="3.03" height="2.98" fill="#f4f2f8"/>
<rect x="297.69" y="857.88" width="3.04" height="2.6" fill="#3a3f66"/>
<rect x="272.61" y="868.46" width="2.24" height="2.97" fill="#3a3f66"/>
<rect x="291.35" y="841.33" width="2.72" height="2.32" fill="#f4f2f8"/>
<rect x="259.75" y="876.49" width="2.48" height="1.66" fill="#9a98b8"/>
<rect x="296.92" y="852.94" width="2.51" height="1.54" fill="#f4f2f8"/>
<rect x="271.89" y="850.91" width="2.82" height="2.79" fill="#3a3f66"/>
<rect x="269.22" y="870.14" width="1.21" height="2.67" fill="#ffffff"/>
<rect x="296.19" y="863.75" width="1.62" height="2.86" fill="#3a3f66"/>
<rect x="269.36" y="855.62" width="2.63" height="1.42" fill="#ffffff"/>
<rect x="292.02" y="880.39" width="2.54" height="2.31" fill="#ffffff"/>
<rect x="286.52" y="850.76" width="2.31" height="2.36" fill="#ffffff"/>
<rect x="296.59" y="850.05" width="2.67" height="1.85" fill="#3a3f66"/>
<rect x="294.35" y="871.01" width="3.48" height="2.18" fill="#ffffff"/>
<rect x="299.21" y="846.26" width="1.34" height="2.11" fill="#3a3f66"/>
<rect x="295.73" y="880.83" width="1.38" height="1.4" fill="#ffffff"/>
<rect x="278.99" y="861.92" width="2.78" height="1.83" fill="#f4f2f8"/>
<rect x="262.4" y="869.57" width="2.09" height="2.27" fill="#3a3f66"/>
<rect x="297.29" y="869.67" width="1.85" height="2.09" fill="#ffffff"/>
<rect x="291.73" y="877.12" width="2.96" height="2.86" fill="#f4f2f8"/>
<rect x="293.86" y="862.27" width="1.55" height="2.61" fill="#9a98b8"/>
<rect x="287.94" y="875.85" width="1.45" height="2.63" fill="#ffffff"/>
<rect x="265.58" y="844.41" width="1.79" height="1.58" fill="#9a98b8"/>
<rect x="291.79" y="871.64" width="1.55" height="2.74" fill="#f4f2f8"/>
<rect x="294.66" y="864.51" width="3.27" height="2.06" fill="#9a98b8"/>
<rect x="284.93" y="858.45" width="2.24" height="2.64" fill="#ffffff"/>
<rect x="283.11" y="848.73" width="2.1" height="2.26" fill="#f4f2f8"/>
<rect x="280.18" y="871.89" width="2.56" height="2.27" fill="#3a3f66"/>
<rect x="268.11" y="877.91" width="2.14" height="1.91" fill="#ffffff"/>
<rect x="285.1" y="844.44" width="3.28" height="1.86" fill="#ffffff"/>
<rect x="281.66" y="850.08" width="2.07" height="1.85" fill="#9a98b8"/>
<rect x="291.1" y="855.12" width="2.15" height="2.26" fill="#ffffff"/>
<polygon points="259.6,839.4 281.7,841.51 287,852.06 285.24,868.94 283.91,879.49 259.6,881.6" fill="#c0202c"/>
<clipPath id="cj6b"><polygon points="259.6,839.4 281.7,841.51 287,852.06 285.24,868.94 283.91,879.49 259.6,881.6"/></clipPath>
<g clip-path="url(#cj6b)">
<circle cx="273.08" cy="864.27" r="1.94" fill="#a01020"/>
<circle cx="279.97" cy="863.71" r="1.73" fill="#a01020"/>
<circle cx="289.53" cy="859.18" r="1.66" fill="#a01020"/>
<circle cx="278.73" cy="859.88" r="2.72" fill="#a01020"/>
<circle cx="286.44" cy="859.7" r="2.28" fill="#a01020"/>
<circle cx="296.3" cy="880.61" r="2.03" fill="#a01020"/>
<circle cx="303.72" cy="846.18" r="1.36" fill="#a01020"/>
<circle cx="277.55" cy="864.7" r="1.06" fill="#a01020"/>
<circle cx="286.67" cy="862.04" r="2.66" fill="#a01020"/>
<circle cx="296.37" cy="855.7" r="2.42" fill="#a01020"/>
<circle cx="286.97" cy="857.04" r="1.35" fill="#a01020"/>
<circle cx="261.27" cy="862.29" r="1.41" fill="#a01020"/>
<circle cx="295.92" cy="859.46" r="1.21" fill="#a01020"/>
<circle cx="280.97" cy="878.86" r="1.94" fill="#a01020"/>
<circle cx="276.14" cy="845.47" r="1.42" fill="#a01020"/>
<circle cx="297.94" cy="850.77" r="1.44" fill="#a01020"/>
<circle cx="275.94" cy="855.03" r="2.51" fill="#a01020"/>
<circle cx="296.76" cy="870.74" r="2.81" fill="#a01020"/>
<circle cx="281.78" cy="847.87" r="2.95" fill="#a01020"/>
<circle cx="289.39" cy="866.36" r="1.05" fill="#a01020"/>
<circle cx="291.96" cy="844.42" r="2.21" fill="#a01020"/>
<circle cx="281.95" cy="871.35" r="2.04" fill="#a01020"/>
<circle cx="302.63" cy="876.74" r="1.37" fill="#a01020"/>
<circle cx="293.51" cy="871.92" r="1.02" fill="#a01020"/>
<circle cx="269.06" cy="863.34" r="1.3" fill="#a01020"/>
<circle cx="260.89" cy="843.84" r="2.02" fill="#a01020"/>
<circle cx="288.99" cy="870.17" r="2.11" fill="#a01020"/>
<circle cx="263.53" cy="875.99" r="2.19" fill="#a01020"/>
<circle cx="301.29" cy="867.75" r="1.4" fill="#a01020"/>
<circle cx="278.22" cy="868.82" r="2.32" fill="#a01020"/>
<circle cx="269.1" cy="851.96" r="2.48" fill="#a01020"/>
<circle cx="293" cy="866.92" r="1.63" fill="#a01020"/>
<circle cx="277.55" cy="854.52" r="1.82" fill="#a01020"/>
<circle cx="294.19" cy="864.93" r="2.31" fill="#a01020"/>
<circle cx="288.59" cy="865.14" r="2" fill="#a01020"/>
<circle cx="266.22" cy="848.84" r="1.51" fill="#a01020"/>
<circle cx="302.4" cy="862.41" r="1.12" fill="#a01020"/>
<circle cx="281.25" cy="844.65" r="1.65" fill="#a01020"/>
<circle cx="283.44" cy="839.55" r="2.17" fill="#a01020"/>
<circle cx="271.49" cy="852.95" r="2.49" fill="#a01020"/>
<circle cx="303.53" cy="863.81" r="2.82" fill="#a01020"/>
<circle cx="273.15" cy="881.01" r="1.42" fill="#a01020"/>
<circle cx="303.04" cy="840.54" r="1.71" fill="#a01020"/>
<circle cx="299.78" cy="878.42" r="2.15" fill="#a01020"/>
<circle cx="276.51" cy="863.18" r="2.66" fill="#a01020"/>
<circle cx="267.83" cy="863.04" r="2.97" fill="#a01020"/>
<circle cx="282.75" cy="849.88" r="1.34" fill="#a01020"/>
<circle cx="286.41" cy="854.32" r="2.13" fill="#a01020"/>
<circle cx="266.68" cy="844.72" r="2.6" fill="#a01020"/>
<circle cx="262.03" cy="842.79" r="2.11" fill="#a01020"/>
<circle cx="276.09" cy="856.51" r="2.04" fill="#a01020"/>
<circle cx="278" cy="864.36" r="1.85" fill="#a01020"/>
<circle cx="276.44" cy="863.05" r="2.19" fill="#a01020"/>
<circle cx="261.8" cy="870.29" r="2.73" fill="#a01020"/>
<circle cx="288.85" cy="855.91" r="2.23" fill="#a01020"/>
<circle cx="274.28" cy="865.24" r="2.37" fill="#a01020"/>
<circle cx="290.81" cy="843.58" r="1.38" fill="#a01020"/>
<circle cx="289.57" cy="870.22" r="2.56" fill="#a01020"/>
<circle cx="275.42" cy="847.27" r="1.09" fill="#a01020"/>
<circle cx="259.92" cy="876.72" r="2.39" fill="#a01020"/>
</g>
<path d="M259.6 839.4 L280 839.4 Q285 843 284 848 Q280 855 283 862 Q281 872 270 881.6 L259.6 881.6 Z" fill="#58d048"/>
<path d="M262 842 Q270 841 272 846 Q268 850 262 848 Z" fill="#3a8a40"/>
</g></g>
<rect x="288.8" y="876.4" width="10" height="2.2" fill="#000"/>
<defs><clipPath id="cj7"><rect x="180.2" y="908.1" width="46.2" height="42.9"/></clipPath></defs>
<g clip-path="url(#cj7)"><g filter="url(#jb)">
<rect x="180.2" y="908.1" width="46.2" height="42.9" fill="#666b92"/>
<rect x="195.16" y="914.57" width="1.72" height="2.43" fill="#6a6a90"/>
<rect x="197.09" y="910.59" width="1.61" height="2.2" fill="#8a86a8"/>
<rect x="183.43" y="911.99" width="1.68" height="2.5" fill="#c8c6d8"/>
<rect x="223.97" y="935.15" width="4.34" height="2.53" fill="#ffffff"/>
<rect x="198.53" y="949.98" width="3.17" height="1.51" fill="#6a6a90"/>
<rect x="199.56" y="931.3" width="3.18" height="2.77" fill="#3e4268"/>
<rect x="184.96" y="932.6" width="2.62" height="2.46" fill="#8a86a8"/>
<rect x="183.1" y="910.66" width="2.99" height="2.42" fill="#8a86a8"/>
<rect x="216.11" y="928.07" width="2.58" height="1.77" fill="#3a3f66"/>
<rect x="188.51" y="941.55" width="3.22" height="2.41" fill="#6a6a90"/>
<rect x="220.63" y="939.39" width="3.33" height="1.37" fill="#dcdcec"/>
<rect x="203.85" y="915.18" width="1.96" height="2.32" fill="#dcdcec"/>
<rect x="182.01" y="936.77" width="2.52" height="2.01" fill="#3e4268"/>
<rect x="203.15" y="942.29" width="4.02" height="3.37" fill="#6a6a90"/>
<rect x="202.1" y="936.59" width="3.69" height="1.91" fill="#6a6a90"/>
<rect x="206.9" y="937.33" width="2.35" height="2.09" fill="#c8c6d8"/>
<rect x="211.09" y="909.07" width="2.57" height="2.61" fill="#8a86b8"/>
<rect x="203.01" y="917.46" width="1.89" height="1.77" fill="#3e4268"/>
<rect x="198.26" y="945.48" width="2" height="2.12" fill="#6a6a90"/>
<rect x="193.04" y="913.97" width="4.09" height="1.84" fill="#c8c6d8"/>
<rect x="199.39" y="923.49" width="4.37" height="1.55" fill="#c8c6d8"/>
<rect x="188.34" y="918.05" width="1.54" height="3.11" fill="#8a86a8"/>
<rect x="188.62" y="920.19" width="2.76" height="2.05" fill="#8a86a8"/>
<rect x="206.36" y="948.99" width="2.87" height="3.2" fill="#6a6a90"/>
<rect x="224.18" y="937.3" width="2.68" height="2.12" fill="#ffffff"/>
<rect x="184.98" y="935.31" width="2.07" height="3.46" fill="#6a6a90"/>
<rect x="200.56" y="912.82" width="1.81" height="2.5" fill="#6a6a90"/>
<rect x="204.99" y="948.81" width="1.71" height="1.68" fill="#6a6a90"/>
<rect x="197.58" y="935.32" width="3.31" height="2.29" fill="#3e4268"/>
<rect x="185.53" y="929.04" width="2.94" height="1.92" fill="#c8c6d8"/>
<rect x="186.86" y="940.26" width="2.94" height="2.79" fill="#3e4268"/>
<rect x="204.05" y="916.9" width="1.94" height="2.45" fill="#3e4268"/>
<rect x="181.45" y="930.76" width="3.59" height="1.8" fill="#6a6a90"/>
<rect x="197.14" y="915.27" width="3.1" height="2.99" fill="#8a86a8"/>
<rect x="195.43" y="917.67" width="3.92" height="3.08" fill="#8a86a8"/>
<rect x="214.38" y="917.83" width="2.98" height="2.88" fill="#ffffff"/>
<rect x="225.92" y="942" width="2.28" height="2.79" fill="#3a3f66"/>
<rect x="224.39" y="927.29" width="4.37" height="2.04" fill="#e8e8f0"/>
<rect x="190.39" y="917.83" width="2.51" height="2.31" fill="#8a86a8"/>
<rect x="225.72" y="934.28" width="2.94" height="2.7" fill="#f6f6fa"/>
<rect x="217.14" y="911.74" width="4.23" height="3" fill="#f8f8fc"/>
<rect x="214.86" y="928.61" width="2.8" height="2.66" fill="#ffffff"/>
<rect x="184.21" y="948.69" width="2.89" height="2.91" fill="#c8c6d8"/>
<rect x="184.12" y="914.91" width="1.58" height="2.56" fill="#8a86a8"/>
<rect x="201.7" y="936.24" width="3.47" height="2.01" fill="#c8c6d8"/>
<rect x="205.55" y="913.72" width="3.9" height="2.87" fill="#f6f6fa"/>
<rect x="184.95" y="940.25" width="2.8" height="3.21" fill="#8a86a8"/>
<rect x="218.37" y="917.15" width="2.14" height="2.35" fill="#e8e6f2"/>
<rect x="215.48" y="922.08" width="2.76" height="1.5" fill="#ffffff"/>
<rect x="222.24" y="923.28" width="3.49" height="3.07" fill="#ffffff"/>
<rect x="204.07" y="943.58" width="3.1" height="2.4" fill="#8a86a8"/>
<rect x="181.06" y="926.98" width="3.33" height="2.98" fill="#8a86a8"/>
<rect x="187.12" y="914.17" width="3.17" height="1.95" fill="#6a6a90"/>
<rect x="204.15" y="931.93" width="4.15" height="1.33" fill="#6a6a90"/>
<rect x="189.04" y="909.91" width="3.02" height="2.49" fill="#6a6a90"/>
<rect x="215.31" y="947.25" width="2.48" height="3.44" fill="#c8c6d8"/>
<rect x="208.2" y="916.65" width="2.86" height="2.43" fill="#e8e6f2"/>
<rect x="202.29" y="948.49" width="4.27" height="3.25" fill="#3e4268"/>
<rect x="189.56" y="927.3" width="1.86" height="2.22" fill="#c8c6d8"/>
<rect x="183.55" y="918.42" width="2.14" height="1.9" fill="#6a6a90"/>
<rect x="185.85" y="941.43" width="1.93" height="3.23" fill="#3e4268"/>
<rect x="224.9" y="917.52" width="2.69" height="2.32" fill="#f8f8fc"/>
<rect x="225.93" y="943.81" width="3.62" height="3.49" fill="#ffffff"/>
<rect x="198.86" y="926.17" width="2.46" height="2.86" fill="#3e4268"/>
<rect x="181.1" y="931.87" width="3.61" height="2.08" fill="#c8c6d8"/>
<rect x="204.11" y="920.77" width="1.84" height="3.31" fill="#6a6a90"/>
<rect x="190.76" y="945.7" width="2.3" height="1.29" fill="#6a6a90"/>
<rect x="216.19" y="919.7" width="3.96" height="3.15" fill="#ffffff"/>
<rect x="211.43" y="948.68" width="1.95" height="3.31" fill="#c8c6d8"/>
<rect x="206.56" y="938.15" width="2.34" height="3.04" fill="#6a6a90"/>
<rect x="188.67" y="946.51" width="4.32" height="2.66" fill="#3e4268"/>
<rect x="217.24" y="911.69" width="1.7" height="3.18" fill="#ffffff"/>
<rect x="201.16" y="922.65" width="4.28" height="1.82" fill="#c8c6d8"/>
<rect x="186.17" y="930.7" width="4.31" height="3.43" fill="#8a86a8"/>
<rect x="192.3" y="915.87" width="3.39" height="2.42" fill="#3e4268"/>
<rect x="189.71" y="927.22" width="2.31" height="3.05" fill="#8a86a8"/>
<rect x="226.15" y="909.69" width="3.7" height="2.47" fill="#f8f8fc"/>
<rect x="188.95" y="928.47" width="1.82" height="3.08" fill="#c8c6d8"/>
<rect x="200.17" y="929.34" width="4.41" height="1.91" fill="#c8c6d8"/>
<rect x="190.14" y="917.95" width="4" height="2.83" fill="#8a86a8"/>
<rect x="209.58" y="925.46" width="4.45" height="3.13" fill="#3e4268"/>
<rect x="180.86" y="934.93" width="2.79" height="1.33" fill="#3e4268"/>
<rect x="210.93" y="924.44" width="3.51" height="1.85" fill="#ffffff"/>
<rect x="191.39" y="920.67" width="2.06" height="1.82" fill="#c8c6d8"/>
<rect x="180.37" y="923.72" width="4.42" height="2.46" fill="#3e4268"/>
<rect x="191.49" y="949.53" width="2.15" height="1.62" fill="#3e4268"/>
<rect x="195.69" y="911.7" width="3.01" height="1.66" fill="#3e4268"/>
<rect x="203.52" y="908.31" width="3.95" height="1.53" fill="#dcdcec"/>
<rect x="207.31" y="925" width="2.41" height="1.74" fill="#3e4268"/>
<rect x="207.25" y="930.8" width="3.47" height="2.85" fill="#8a86a8"/>
<rect x="220.81" y="924.81" width="3.66" height="2.34" fill="#dcdcec"/>
<rect x="193.33" y="934.64" width="1.63" height="3.12" fill="#8a86a8"/>
<rect x="221.41" y="935.01" width="1.92" height="2.4" fill="#ffffff"/>
<rect x="203.5" y="943.92" width="3.98" height="2.54" fill="#6a6a90"/>
<rect x="221.45" y="937.4" width="1.76" height="1.3" fill="#ffffff"/>
<rect x="209.63" y="949.26" width="4.01" height="2.48" fill="#c8c6d8"/>
<rect x="209.2" y="934.97" width="2.97" height="1.21" fill="#8a86a8"/>
<rect x="217.05" y="940.2" width="3.48" height="1.35" fill="#6a6a90"/>
<rect x="214.24" y="918.92" width="4.04" height="1.74" fill="#f8f8fc"/>
<rect x="215.15" y="918" width="2.98" height="2.08" fill="#8a86b8"/>
<rect x="202.33" y="937.43" width="3.35" height="2.68" fill="#6a6a90"/>
<rect x="183.78" y="914.42" width="3.45" height="2.79" fill="#3e4268"/>
<rect x="208.9" y="913.82" width="1.68" height="1.82" fill="#8a86b8"/>
<rect x="211.25" y="937.79" width="2.37" height="2.39" fill="#c8c6d8"/>
<rect x="201.67" y="928.11" width="4.48" height="2.46" fill="#6a6a90"/>
<rect x="194.6" y="911.78" width="1.55" height="2.26" fill="#c8c6d8"/>
<rect x="218.08" y="949.63" width="4.48" height="2.09" fill="#c8c6d8"/>
<rect x="222.54" y="948.02" width="3.24" height="1.53" fill="#6a6a90"/>
<rect x="204.41" y="948.97" width="3.31" height="2.65" fill="#8a86a8"/>
<rect x="193.12" y="912.93" width="2.19" height="3.26" fill="#3e4268"/>
<rect x="202.66" y="909.17" width="4.35" height="2.77" fill="#f6f6fa"/>
<rect x="198.93" y="939.3" width="2.53" height="1.93" fill="#c8c6d8"/>
<rect x="219.02" y="908.17" width="4.02" height="1.48" fill="#e8e6f2"/>
<rect x="223" y="938.69" width="2.26" height="1.35" fill="#dcdcec"/>
<rect x="198.23" y="945.42" width="2.58" height="2.18" fill="#6a6a90"/>
<rect x="192.91" y="910.17" width="1.65" height="2.72" fill="#6a6a90"/>
<rect x="209.54" y="914.49" width="2.81" height="1.93" fill="#e8e6f2"/>
<rect x="215.92" y="941.78" width="4.15" height="3.07" fill="#c8c6d8"/>
<rect x="209.35" y="947.29" width="3.66" height="1.31" fill="#8a86a8"/>
<rect x="214.03" y="927.44" width="3.43" height="1.86" fill="#ffffff"/>
<rect x="182.46" y="947.86" width="2.01" height="2.15" fill="#8a86a8"/>
<rect x="193.22" y="919.07" width="2.72" height="1.75" fill="#3e4268"/>
<rect x="202.52" y="936.79" width="2" height="1.57" fill="#6a6a90"/>
<rect x="189.8" y="946.97" width="3.15" height="2.24" fill="#c8c6d8"/>
<rect x="195.58" y="940.67" width="1.92" height="1.64" fill="#c8c6d8"/>
<rect x="184.39" y="922.77" width="2.46" height="2.05" fill="#6a6a90"/>
<rect x="217.59" y="916.77" width="3.75" height="2.15" fill="#f8f8fc"/>
<rect x="199.32" y="930.59" width="2.31" height="2.93" fill="#c8c6d8"/>
<rect x="203.21" y="932.74" width="1.88" height="2.36" fill="#3e4268"/>
<rect x="209.29" y="945.12" width="1.78" height="3.26" fill="#8a86a8"/>
<rect x="197.97" y="935.8" width="4.36" height="3.15" fill="#c8c6d8"/>
<rect x="220.53" y="909.04" width="2.78" height="2.96" fill="#f8f8fc"/>
<rect x="217.36" y="949.64" width="1.5" height="2.1" fill="#c8c6d8"/>
<rect x="223.02" y="943.52" width="4.42" height="1.77" fill="#3a3f66"/>
<rect x="185.24" y="914.72" width="4.32" height="2.86" fill="#6a6a90"/>
<rect x="210.11" y="940.91" width="1.76" height="2.99" fill="#c8c6d8"/>
<rect x="180.26" y="913.49" width="3.44" height="1.9" fill="#6a6a90"/>
<rect x="186.11" y="918.9" width="3.6" height="1.46" fill="#c8c6d8"/>
<rect x="183.45" y="930.6" width="2.66" height="1.71" fill="#8a86a8"/>
<rect x="207.97" y="908.55" width="4.49" height="1.84" fill="#e8e6f2"/>
<rect x="194.82" y="944.11" width="2.93" height="1.74" fill="#8a86a8"/>
<rect x="191.61" y="949.31" width="1.67" height="1.65" fill="#3e4268"/>
<rect x="221.08" y="935.86" width="2.27" height="2.73" fill="#f6f6fa"/>
<rect x="222.94" y="917.83" width="3.59" height="2.85" fill="#f8f8fc"/>
<rect x="196.94" y="925.1" width="3.89" height="2.9" fill="#6a6a90"/>
<rect x="203.53" y="916.9" width="2.44" height="3.09" fill="#8a86a8"/>
<rect x="190.86" y="917.6" width="1.83" height="2.63" fill="#3e4268"/>
<rect x="208.39" y="946.56" width="2.75" height="2.73" fill="#c8c6d8"/>
<rect x="224.03" y="914.38" width="1.66" height="1.25" fill="#8a86b8"/>
<rect x="207.74" y="925.92" width="2.05" height="2.23" fill="#6a6a90"/>
<rect x="213.1" y="921.58" width="4.49" height="3.34" fill="#f8f8fc"/>
<rect x="195.41" y="916.06" width="1.6" height="2.73" fill="#c8c6d8"/>
<rect x="197.69" y="924.14" width="2.83" height="1.45" fill="#3e4268"/>
<rect x="183.81" y="911.56" width="4.37" height="1.48" fill="#c8c6d8"/>
<rect x="224.75" y="917" width="3.81" height="1.91" fill="#e8e6f2"/>
<rect x="217.34" y="911.86" width="2.09" height="2.45" fill="#8a86b8"/>
<rect x="200.82" y="921.97" width="1.59" height="2.14" fill="#c8c6d8"/>
<rect x="217.71" y="940.99" width="2.63" height="2.27" fill="#6a6a90"/>
<rect x="217.31" y="910.76" width="3.74" height="3.27" fill="#ffffff"/>
<rect x="195.87" y="919.78" width="2.29" height="2.85" fill="#6a6a90"/>
<rect x="194.82" y="919.92" width="3.66" height="2.57" fill="#6a6a90"/>
<rect x="217.42" y="948.7" width="1.57" height="1.74" fill="#6a6a90"/>
<rect x="202.15" y="949.15" width="3.87" height="3.3" fill="#c8c6d8"/>
<rect x="217.84" y="913.79" width="2.05" height="3.05" fill="#8a86b8"/>
<rect x="214.32" y="943.4" width="3.32" height="1.95" fill="#8a86a8"/>
<rect x="194.96" y="923.62" width="3.04" height="2.1" fill="#6a6a90"/>
<rect x="187.59" y="925.59" width="2.95" height="2.45" fill="#6a6a90"/>
<rect x="187.62" y="926.4" width="4.46" height="1.81" fill="#6a6a90"/>
<rect x="184.08" y="912.24" width="4.47" height="3.44" fill="#c8c6d8"/>
<rect x="188.2" y="913.8" width="3.36" height="2.75" fill="#c8c6d8"/>
<rect x="214.76" y="944.44" width="3.84" height="1.88" fill="#6a6a90"/>
<rect x="193.11" y="919.58" width="3.71" height="1.66" fill="#3e4268"/>
<rect x="191.63" y="918.63" width="2.34" height="3.29" fill="#8a86a8"/>
<rect x="188.9" y="910.88" width="4.48" height="2.37" fill="#3e4268"/>
<rect x="190.89" y="942.78" width="4.47" height="1.44" fill="#c8c6d8"/>
<rect x="202.13" y="943.24" width="4.24" height="1.29" fill="#c8c6d8"/>
<rect x="193.77" y="913.21" width="3.3" height="3.1" fill="#8a86a8"/>
<rect x="189.17" y="911.32" width="2.85" height="1.8" fill="#8a86a8"/>
<rect x="216.13" y="948.67" width="3.41" height="2.83" fill="#6a6a90"/>
<rect x="196.36" y="909.71" width="1.92" height="1.67" fill="#3e4268"/>
<rect x="191.98" y="933.82" width="3.94" height="3.08" fill="#8a86a8"/>
<rect x="199.1" y="924.05" width="1.73" height="1.27" fill="#3e4268"/>
<rect x="203.1" y="928.84" width="1.8" height="2.11" fill="#c8c6d8"/>
<rect x="205.62" y="935.52" width="3.46" height="2.11" fill="#6a6a90"/>
<rect x="192.73" y="950.5" width="2.75" height="1.32" fill="#3e4268"/>
<rect x="214.63" y="946.01" width="2.75" height="3.19" fill="#c8c6d8"/>
<rect x="226.24" y="923.71" width="2.67" height="2.13" fill="#5a5f8a"/>
<rect x="223.72" y="926.73" width="2.77" height="3.09" fill="#5a5f8a"/>
<rect x="198.97" y="945.97" width="3.82" height="1.5" fill="#c8c6d8"/>
<rect x="182.59" y="914.21" width="1.77" height="2.63" fill="#c8c6d8"/>
<rect x="197.33" y="929.74" width="2.54" height="1.57" fill="#8a86a8"/>
<rect x="188.14" y="910.98" width="2.97" height="3.05" fill="#c8c6d8"/>
<rect x="224.87" y="916.57" width="4.01" height="1.3" fill="#ffffff"/>
<rect x="222.37" y="921.59" width="4.28" height="2.09" fill="#ffffff"/>
<rect x="221.98" y="934.71" width="3.42" height="3.17" fill="#ffffff"/>
<rect x="208.89" y="934.47" width="3.99" height="1.62" fill="#8a86a8"/>
<rect x="190.28" y="925.25" width="2.65" height="1.48" fill="#8a86a8"/>
<rect x="191.61" y="939.2" width="1.62" height="2.49" fill="#8a86a8"/>
<rect x="215.19" y="909.74" width="1.85" height="2.58" fill="#e8e6f2"/>
<rect x="205.61" y="935" width="3.45" height="1.91" fill="#3e4268"/>
<rect x="191.72" y="924.8" width="2.84" height="2.21" fill="#3e4268"/>
<rect x="181.28" y="934.65" width="2.9" height="2.23" fill="#c8c6d8"/>
<rect x="208.78" y="943.23" width="3.93" height="2.12" fill="#8a86a8"/>
<rect x="183.3" y="923.48" width="1.78" height="2.22" fill="#3e4268"/>
<rect x="203.77" y="909.85" width="1.75" height="2.89" fill="#ffffff"/>
<rect x="216.13" y="930.04" width="3.76" height="3.26" fill="#f6f6fa"/>
<rect x="210.36" y="941.74" width="4.07" height="3.49" fill="#6a6a90"/>
<rect x="214.02" y="943.06" width="1.89" height="3.24" fill="#8a86a8"/>
<rect x="193.5" y="942.89" width="3.56" height="2.86" fill="#8a86a8"/>
<rect x="190.42" y="943.84" width="1.98" height="3.26" fill="#3e4268"/>
<rect x="192.9" y="943.09" width="2.26" height="3.42" fill="#8a86a8"/>
<rect x="202.38" y="933.49" width="2.46" height="1.28" fill="#8a86a8"/>
<rect x="188.61" y="915.02" width="3.54" height="3.26" fill="#3e4268"/>
<rect x="188" y="941.77" width="3.8" height="1.31" fill="#6a6a90"/>
<rect x="219.85" y="949.55" width="3.17" height="2.53" fill="#c8c6d8"/>
<rect x="220.97" y="912.59" width="3.39" height="2.11" fill="#ffffff"/>
<rect x="217.05" y="919.46" width="3.23" height="2.03" fill="#e8e6f2"/>
<rect x="215.53" y="927.07" width="3.35" height="3.4" fill="#ffffff"/>
<rect x="193.89" y="930.24" width="3.42" height="3.46" fill="#3e4268"/>
<rect x="207.27" y="936.57" width="3.7" height="2.92" fill="#3e4268"/>
<rect x="190.44" y="920.58" width="2.75" height="2.04" fill="#c8c6d8"/>
<rect x="182.41" y="929.05" width="1.57" height="1.21" fill="#6a6a90"/>
<rect x="196.6" y="912.66" width="3.1" height="2.15" fill="#3e4268"/>
<rect x="194.11" y="913.84" width="3.37" height="2.29" fill="#3e4268"/>
<rect x="186.43" y="948.28" width="3.62" height="2.24" fill="#8a86a8"/>
<rect x="183.14" y="914.31" width="2.71" height="1.81" fill="#3e4268"/>
<rect x="180.73" y="935.77" width="3.28" height="2.53" fill="#3e4268"/>
<rect x="208.01" y="930.3" width="2.25" height="3.28" fill="#c8c6d8"/>
<rect x="182.23" y="930.9" width="2.06" height="1.57" fill="#c8c6d8"/>
<rect x="222.32" y="912.6" width="3.15" height="3.36" fill="#ffffff"/>
<polygon points="180.2,920.97 194.06,923.12 205.61,929.55 210.23,938.13 205.61,951 180.2,951" fill="#c08cac"/>
<clipPath id="cj7b"><polygon points="180.2,920.97 194.06,923.12 205.61,929.55 210.23,938.13 205.61,951 180.2,951"/></clipPath>
<g clip-path="url(#cj7b)">
<circle cx="186.77" cy="916.66" r="2.22" fill="#8878b0"/>
<circle cx="217.78" cy="915.59" r="1.62" fill="#b07aa0"/>
<circle cx="209.12" cy="950.75" r="2.45" fill="#8878b0"/>
<circle cx="213.25" cy="908.37" r="2.69" fill="#8878b0"/>
<circle cx="183.92" cy="936.22" r="1.35" fill="#9a6a9a"/>
<circle cx="192.28" cy="935.73" r="1.25" fill="#b07aa0"/>
<circle cx="213.08" cy="919.51" r="2.11" fill="#8878b0"/>
<circle cx="211.88" cy="947.45" r="2.94" fill="#b07aa0"/>
<circle cx="209.86" cy="949.5" r="1.43" fill="#9a6a9a"/>
<circle cx="188.04" cy="946.91" r="2.68" fill="#d8a8c0"/>
<circle cx="223.85" cy="940.11" r="1.65" fill="#8878b0"/>
<circle cx="195.38" cy="918.36" r="2.82" fill="#8878b0"/>
<circle cx="202.01" cy="930.86" r="1.01" fill="#9a6a9a"/>
<circle cx="200.4" cy="939.19" r="2.14" fill="#b07aa0"/>
<circle cx="216.66" cy="924.9" r="2.17" fill="#d8a8c0"/>
<circle cx="186.88" cy="909.25" r="1.21" fill="#d8a8c0"/>
<circle cx="196.13" cy="914.19" r="1.06" fill="#9a6a9a"/>
<circle cx="186.59" cy="935.71" r="1.09" fill="#9a6a9a"/>
<circle cx="214.24" cy="910.92" r="2.18" fill="#b07aa0"/>
<circle cx="189.41" cy="949.05" r="2.07" fill="#9a6a9a"/>
<circle cx="220.84" cy="940.52" r="2.42" fill="#8878b0"/>
<circle cx="185.15" cy="916.93" r="1.22" fill="#9a6a9a"/>
<circle cx="224.06" cy="947.19" r="2.51" fill="#9a6a9a"/>
<circle cx="218.32" cy="935.19" r="1.57" fill="#9a6a9a"/>
<circle cx="186.33" cy="942.08" r="2.29" fill="#b07aa0"/>
<circle cx="194.94" cy="926.28" r="1.04" fill="#b07aa0"/>
<circle cx="223.17" cy="910.18" r="2.52" fill="#b07aa0"/>
<circle cx="215.74" cy="933.93" r="1.95" fill="#b07aa0"/>
<circle cx="208.76" cy="909.43" r="1.83" fill="#8878b0"/>
<circle cx="204.16" cy="912.32" r="1.94" fill="#9a6a9a"/>
<circle cx="205.05" cy="917.39" r="2.72" fill="#9a6a9a"/>
<circle cx="206.74" cy="920.42" r="1.87" fill="#d8a8c0"/>
<circle cx="193.52" cy="940.3" r="1.11" fill="#b07aa0"/>
<circle cx="202.88" cy="929.18" r="2.59" fill="#d8a8c0"/>
<circle cx="224.88" cy="933.52" r="2.91" fill="#b07aa0"/>
<circle cx="206.9" cy="914.92" r="2.63" fill="#d8a8c0"/>
<circle cx="203.22" cy="912.82" r="2.27" fill="#9a6a9a"/>
<circle cx="202.85" cy="950.62" r="2.12" fill="#9a6a9a"/>
<circle cx="209.21" cy="923.36" r="1.8" fill="#8878b0"/>
<circle cx="221.4" cy="940.07" r="1.84" fill="#9a6a9a"/>
<circle cx="197.38" cy="921.1" r="1.86" fill="#d8a8c0"/>
<circle cx="197.72" cy="946.02" r="1.47" fill="#8878b0"/>
<circle cx="186.06" cy="933.59" r="2.38" fill="#9a6a9a"/>
<circle cx="196.3" cy="922.11" r="1.31" fill="#8878b0"/>
<circle cx="210.79" cy="939.93" r="1.34" fill="#8878b0"/>
<circle cx="212.03" cy="919.13" r="1.46" fill="#b07aa0"/>
<circle cx="201.55" cy="946.07" r="1.48" fill="#d8a8c0"/>
<circle cx="192.56" cy="940.48" r="2.65" fill="#d8a8c0"/>
<circle cx="213.62" cy="949.92" r="2.45" fill="#b07aa0"/>
<circle cx="187.63" cy="922.17" r="1.38" fill="#9a6a9a"/>
<circle cx="187.8" cy="936.32" r="1.39" fill="#d8a8c0"/>
<circle cx="225.65" cy="942.2" r="2.47" fill="#8878b0"/>
<circle cx="192.85" cy="912.79" r="2.82" fill="#b07aa0"/>
<circle cx="189.74" cy="924.76" r="1.07" fill="#8878b0"/>
<circle cx="219.67" cy="926.83" r="1.44" fill="#b07aa0"/>
<circle cx="201.6" cy="914.18" r="2.21" fill="#8878b0"/>
<circle cx="180.45" cy="918.49" r="2.71" fill="#8878b0"/>
<circle cx="219.28" cy="936.75" r="2.3" fill="#d8a8c0"/>
<circle cx="211.6" cy="935.62" r="1.91" fill="#b07aa0"/>
<circle cx="192.2" cy="938.16" r="2.79" fill="#d8a8c0"/>
</g>
</g></g>
<rect x="211.4" y="945.8" width="10" height="2.2" fill="#000"/>
<defs><clipPath id="cj8"><rect x="231.3" y="908.1" width="45.7" height="42.9"/></clipPath></defs>
<g clip-path="url(#cj8)"><g filter="url(#jb)">
<rect x="231.3" y="908.1" width="45.7" height="42.9" fill="#666b92"/>
<rect x="241.66" y="949.38" width="2.08" height="1.3" fill="#8a86a8"/>
<rect x="237.55" y="942.9" width="2.7" height="1.27" fill="#8a86a8"/>
<rect x="253.57" y="924.85" width="4.19" height="2.13" fill="#8a86a8"/>
<rect x="253.47" y="940.66" width="3.06" height="2.29" fill="#3e4268"/>
<rect x="272.94" y="939.25" width="1.79" height="3.07" fill="#dcdcec"/>
<rect x="248.96" y="943.69" width="3.48" height="1.98" fill="#6a6a90"/>
<rect x="262.89" y="929.45" width="3.24" height="1.53" fill="#8a86a8"/>
<rect x="234.24" y="948.69" width="3.61" height="1.54" fill="#c8c6d8"/>
<rect x="270.62" y="927.67" width="4.14" height="1.86" fill="#ffffff"/>
<rect x="247.6" y="945.77" width="1.97" height="2.58" fill="#8a86a8"/>
<rect x="255.6" y="921.56" width="4.35" height="3.14" fill="#3e4268"/>
<rect x="254.32" y="916.58" width="2.57" height="1.85" fill="#8a86a8"/>
<rect x="261.33" y="942.77" width="2.53" height="3.29" fill="#8a86a8"/>
<rect x="244.81" y="917.53" width="2.77" height="2.07" fill="#6a6a90"/>
<rect x="269.43" y="946.34" width="3.47" height="1.47" fill="#8a86a8"/>
<rect x="273.92" y="944.66" width="2.11" height="2.96" fill="#6a6a90"/>
<rect x="245.01" y="908.67" width="2.53" height="1.59" fill="#c8c6d8"/>
<rect x="251.21" y="918.04" width="3.19" height="2.14" fill="#c8c6d8"/>
<rect x="234.96" y="911.1" width="1.6" height="2.73" fill="#6a6a90"/>
<rect x="266.23" y="930.72" width="3.92" height="2.36" fill="#ffffff"/>
<rect x="263.66" y="950.15" width="2.07" height="3.3" fill="#6a6a90"/>
<rect x="246.87" y="936.34" width="3.73" height="2.01" fill="#6a6a90"/>
<rect x="275.4" y="908.23" width="2.13" height="3.21" fill="#8a86b8"/>
<rect x="232.81" y="949.51" width="2.03" height="3.43" fill="#8a86a8"/>
<rect x="251.48" y="911.68" width="2.99" height="2.29" fill="#8a86a8"/>
<rect x="238.36" y="913.33" width="3.44" height="2.85" fill="#c8c6d8"/>
<rect x="254.81" y="911.98" width="3.19" height="3.08" fill="#3a3f66"/>
<rect x="252.11" y="910.28" width="2.84" height="1.45" fill="#f6f6fa"/>
<rect x="264.44" y="938.49" width="3.47" height="3.11" fill="#6a6a90"/>
<rect x="255.42" y="950.08" width="3" height="1.95" fill="#8a86a8"/>
<rect x="248.85" y="930.4" width="1.52" height="2.61" fill="#8a86a8"/>
<rect x="272.83" y="939.99" width="2.17" height="1.88" fill="#3a3f66"/>
<rect x="256.31" y="950" width="3.92" height="2.9" fill="#3e4268"/>
<rect x="245.96" y="921.06" width="3.85" height="1.88" fill="#3e4268"/>
<rect x="269.95" y="916.5" width="2.64" height="2.55" fill="#e8e6f2"/>
<rect x="273.28" y="916.91" width="3.34" height="3.14" fill="#8a86b8"/>
<rect x="262.57" y="948.26" width="3.96" height="2.59" fill="#3e4268"/>
<rect x="247.85" y="926.44" width="3.97" height="2.37" fill="#c8c6d8"/>
<rect x="235.05" y="915.11" width="3.7" height="1.82" fill="#c8c6d8"/>
<rect x="250.48" y="913.12" width="4.46" height="1.83" fill="#3e4268"/>
<rect x="269.02" y="919.62" width="2.23" height="1.77" fill="#8a86b8"/>
<rect x="242.63" y="929.75" width="2.25" height="3.07" fill="#c8c6d8"/>
<rect x="258.56" y="943.7" width="2.99" height="1.44" fill="#3e4268"/>
<rect x="236.4" y="911.71" width="3.84" height="3.48" fill="#8a86a8"/>
<rect x="273.36" y="941.83" width="1.57" height="1.64" fill="#ffffff"/>
<rect x="243.39" y="912.19" width="4.11" height="3.28" fill="#c8c6d8"/>
<rect x="273.59" y="912.08" width="2.57" height="3.46" fill="#ffffff"/>
<rect x="234.31" y="942.02" width="4.08" height="2.7" fill="#6a6a90"/>
<rect x="248.04" y="943.64" width="3.67" height="2.58" fill="#8a86a8"/>
<rect x="245.89" y="920.82" width="4.4" height="1.35" fill="#3e4268"/>
<rect x="272.44" y="947.42" width="2.8" height="1.56" fill="#3e4268"/>
<rect x="272.14" y="914.48" width="1.8" height="1.71" fill="#f8f8fc"/>
<rect x="244.7" y="915.68" width="1.83" height="1.32" fill="#8a86a8"/>
<rect x="256.7" y="939.68" width="3.18" height="1.95" fill="#8a86a8"/>
<rect x="271.6" y="939.68" width="1.83" height="2.85" fill="#3a3f66"/>
<rect x="235.09" y="914" width="2.18" height="1.7" fill="#8a86a8"/>
<rect x="239.25" y="913.89" width="1.68" height="3.24" fill="#c8c6d8"/>
<rect x="258.06" y="934.43" width="3.94" height="2.2" fill="#c8c6d8"/>
<rect x="262.68" y="939.73" width="3.58" height="3.46" fill="#3e4268"/>
<rect x="253.68" y="923.82" width="2.43" height="2.76" fill="#8a86a8"/>
<rect x="253.05" y="913.59" width="3" height="3.43" fill="#3e4268"/>
<rect x="255.69" y="948.29" width="3.92" height="2.51" fill="#3e4268"/>
<rect x="249.15" y="913.88" width="3.44" height="1.49" fill="#c8c6d8"/>
<rect x="249.31" y="909.6" width="3.02" height="1.88" fill="#3e4268"/>
<rect x="248.44" y="909.29" width="3.99" height="1.23" fill="#8a86a8"/>
<rect x="269.13" y="927.36" width="3.8" height="3.14" fill="#ffffff"/>
<rect x="257.08" y="932.93" width="2.62" height="2.36" fill="#6a6a90"/>
<rect x="276.45" y="938.8" width="4.46" height="2.02" fill="#dcdcec"/>
<rect x="274.57" y="935.99" width="4.03" height="2.69" fill="#3a3f66"/>
<rect x="253.09" y="932.83" width="3.76" height="2.19" fill="#3e4268"/>
<rect x="265.24" y="936.85" width="4.29" height="2.72" fill="#8a86a8"/>
<rect x="261.04" y="910.71" width="3.03" height="2.31" fill="#ffffff"/>
<rect x="253.05" y="915.53" width="3.44" height="3.01" fill="#8a86a8"/>
<rect x="267.09" y="939.91" width="2.86" height="1.88" fill="#3e4268"/>
<rect x="249.72" y="929.43" width="3" height="2.7" fill="#6a6a90"/>
<rect x="246.88" y="932.91" width="2.58" height="2.58" fill="#6a6a90"/>
<rect x="252.16" y="928.26" width="2.11" height="2.4" fill="#c8c6d8"/>
<rect x="258.27" y="941.65" width="1.77" height="3.02" fill="#6a6a90"/>
<rect x="265.99" y="917.44" width="2.26" height="3.23" fill="#8a86b8"/>
<rect x="240.32" y="913.06" width="2.83" height="3.11" fill="#6a6a90"/>
<rect x="245.76" y="909.3" width="3.71" height="2.9" fill="#6a6a90"/>
<rect x="257.62" y="935.58" width="1.63" height="1.69" fill="#6a6a90"/>
<rect x="245.78" y="912.11" width="4.23" height="1.2" fill="#8a86a8"/>
<rect x="276.1" y="912.21" width="2.11" height="3.31" fill="#ffffff"/>
<rect x="265.85" y="943.24" width="4.22" height="2.18" fill="#c8c6d8"/>
<rect x="238.05" y="914.36" width="4.31" height="2.2" fill="#3e4268"/>
<rect x="233.58" y="925.68" width="4.47" height="1.85" fill="#8a86a8"/>
<rect x="266.48" y="921.62" width="2.18" height="2.11" fill="#ffffff"/>
<rect x="262.97" y="919.39" width="2.33" height="1.25" fill="#ffffff"/>
<rect x="267.62" y="938.27" width="2.07" height="3.06" fill="#8a86a8"/>
<rect x="261.25" y="945.27" width="1.97" height="3.1" fill="#c8c6d8"/>
<rect x="242.22" y="946.99" width="2.54" height="2.36" fill="#c8c6d8"/>
<rect x="271.77" y="937.44" width="4.11" height="3.43" fill="#3a3f66"/>
<rect x="259.52" y="934.56" width="1.79" height="2.39" fill="#c8c6d8"/>
<rect x="246.69" y="948.68" width="4.33" height="2.18" fill="#8a86a8"/>
<rect x="262.2" y="947.55" width="3.56" height="2.5" fill="#3e4268"/>
<rect x="243.48" y="927.17" width="3.48" height="2.86" fill="#8a86a8"/>
<rect x="249.48" y="909.01" width="2.7" height="2.97" fill="#3e4268"/>
<rect x="236.72" y="924.67" width="2.73" height="1.22" fill="#c8c6d8"/>
<rect x="246.75" y="938.83" width="1.55" height="1.23" fill="#8a86a8"/>
<rect x="263.49" y="937.6" width="2.62" height="2.31" fill="#3e4268"/>
<rect x="257.84" y="934.33" width="1.66" height="2.22" fill="#6a6a90"/>
<rect x="235.02" y="909.31" width="3.39" height="1.37" fill="#8a86a8"/>
<rect x="246.63" y="924.6" width="4.27" height="2.59" fill="#3e4268"/>
<rect x="275.38" y="939.7" width="3.39" height="3.43" fill="#dcdcec"/>
<rect x="274.72" y="928.59" width="3.25" height="1.77" fill="#3a3f66"/>
<rect x="268.08" y="950.2" width="3.04" height="2.37" fill="#6a6a90"/>
<rect x="249.63" y="927.35" width="4.13" height="2.74" fill="#c8c6d8"/>
<rect x="276.24" y="932.71" width="3.03" height="2.8" fill="#ffffff"/>
<rect x="273.15" y="939.69" width="3.14" height="2.12" fill="#ffffff"/>
<rect x="236.58" y="931.88" width="1.98" height="3.02" fill="#3e4268"/>
<rect x="272.27" y="923.42" width="1.67" height="2.12" fill="#f4f4fa"/>
<rect x="274.98" y="911.13" width="3.16" height="2.84" fill="#ffffff"/>
<rect x="262.76" y="926.9" width="2.93" height="1.35" fill="#ffffff"/>
<rect x="234.18" y="944.55" width="2.04" height="1.43" fill="#6a6a90"/>
<rect x="236.96" y="916.01" width="2.47" height="1.75" fill="#c8c6d8"/>
<rect x="240.13" y="918.82" width="1.59" height="2" fill="#c8c6d8"/>
<rect x="236.75" y="930.26" width="3.25" height="2.22" fill="#6a6a90"/>
<rect x="248.12" y="922.19" width="1.82" height="3.21" fill="#6a6a90"/>
<rect x="250.7" y="927.41" width="1.58" height="1.49" fill="#8a86a8"/>
<rect x="251.77" y="922.38" width="3.28" height="3.01" fill="#c8c6d8"/>
<rect x="252.78" y="937.11" width="4" height="2.99" fill="#c8c6d8"/>
<rect x="264.15" y="918.2" width="2.33" height="2.49" fill="#ffffff"/>
<rect x="261.79" y="947.54" width="2.14" height="2.4" fill="#8a86a8"/>
<rect x="268.55" y="922.41" width="1.76" height="1.58" fill="#dcdcec"/>
<rect x="245.9" y="943.7" width="4.32" height="1.89" fill="#c8c6d8"/>
<rect x="241.34" y="947.41" width="4.21" height="1.71" fill="#6a6a90"/>
<rect x="270.11" y="914.94" width="2.98" height="3.21" fill="#ffffff"/>
<rect x="256.14" y="911.88" width="4.37" height="2.08" fill="#dcdcec"/>
<rect x="273.41" y="926.79" width="3.69" height="1.91" fill="#3a3f66"/>
<rect x="276.07" y="947.11" width="3.53" height="1.25" fill="#ffffff"/>
<rect x="272.91" y="923.64" width="1.54" height="1.79" fill="#ffffff"/>
<rect x="274.61" y="923.98" width="3.37" height="2.45" fill="#5a5f8a"/>
<rect x="274.18" y="910.35" width="1.66" height="3.25" fill="#f8f8fc"/>
<rect x="245.88" y="918.82" width="4.03" height="2.02" fill="#3e4268"/>
<rect x="254.3" y="931.22" width="2.22" height="3.2" fill="#6a6a90"/>
<rect x="260.6" y="916.2" width="2.34" height="2.64" fill="#ffffff"/>
<rect x="250.46" y="916.33" width="3.79" height="1.93" fill="#6a6a90"/>
<rect x="254.15" y="917.81" width="4.3" height="3.24" fill="#6a6a90"/>
<rect x="254.71" y="940.82" width="4.08" height="1.94" fill="#8a86a8"/>
<rect x="273.32" y="940.64" width="1.98" height="2.8" fill="#dcdcec"/>
<rect x="264.69" y="908.78" width="3.37" height="3.05" fill="#f8f8fc"/>
<rect x="244.8" y="914.14" width="1.58" height="2.8" fill="#8a86a8"/>
<rect x="264.26" y="940.76" width="2.56" height="2.22" fill="#8a86a8"/>
<rect x="275.35" y="919.28" width="3.64" height="2.77" fill="#e8e6f2"/>
<rect x="247.92" y="927.18" width="3.77" height="3.23" fill="#8a86a8"/>
<rect x="259.96" y="931.52" width="3.09" height="3.4" fill="#6a6a90"/>
<rect x="266.08" y="908.15" width="2.53" height="2.36" fill="#e8e6f2"/>
<rect x="243.8" y="908.11" width="3.58" height="3.46" fill="#c8c6d8"/>
<rect x="275.3" y="934.98" width="3.09" height="3.15" fill="#ffffff"/>
<rect x="262.93" y="913.63" width="1.65" height="1.97" fill="#ffffff"/>
<rect x="246.54" y="947.59" width="3.82" height="2.48" fill="#8a86a8"/>
<rect x="274.15" y="929.1" width="2.72" height="3.37" fill="#dcdcec"/>
<rect x="255" y="947.6" width="2.97" height="2.92" fill="#c8c6d8"/>
<rect x="235.62" y="924.71" width="2.78" height="3.11" fill="#3e4268"/>
<rect x="256.25" y="933.93" width="4.36" height="3.11" fill="#6a6a90"/>
<rect x="268.02" y="936.68" width="3.19" height="2.09" fill="#8a86a8"/>
<rect x="245.78" y="919.38" width="3.9" height="1.22" fill="#3e4268"/>
<rect x="244.97" y="926.06" width="4.03" height="1.97" fill="#3e4268"/>
<rect x="253.44" y="917.93" width="2.58" height="1.59" fill="#8a86a8"/>
<rect x="264.7" y="940.51" width="3.96" height="3.39" fill="#8a86a8"/>
<rect x="261.03" y="932.58" width="3.19" height="3.23" fill="#8a86a8"/>
<rect x="237.05" y="919.24" width="1.95" height="2.31" fill="#6a6a90"/>
<rect x="247.98" y="912.35" width="3.83" height="2.7" fill="#3e4268"/>
<rect x="265.22" y="936.6" width="3.47" height="1.31" fill="#8a86a8"/>
<rect x="236.4" y="920.35" width="1.91" height="3.4" fill="#3e4268"/>
<rect x="271.79" y="932.64" width="3.76" height="1.22" fill="#ffffff"/>
<rect x="271.72" y="928.18" width="2.71" height="2.73" fill="#dcdcec"/>
<rect x="247.74" y="937.05" width="2.4" height="2.46" fill="#3e4268"/>
<rect x="237.4" y="949.38" width="1.73" height="1.96" fill="#6a6a90"/>
<rect x="265.07" y="925.45" width="2.38" height="1.91" fill="#3a3f66"/>
<rect x="246.08" y="919.94" width="1.51" height="2.18" fill="#6a6a90"/>
<rect x="271.27" y="936.05" width="3.14" height="3.03" fill="#ffffff"/>
<rect x="269.59" y="928.5" width="3.29" height="1.62" fill="#ffffff"/>
<rect x="251.48" y="945.1" width="3.9" height="2.47" fill="#6a6a90"/>
<rect x="244.43" y="931.8" width="1.74" height="2.04" fill="#3e4268"/>
<rect x="270.46" y="928.01" width="2.22" height="1.36" fill="#ffffff"/>
<rect x="251.39" y="910.18" width="2.8" height="2.47" fill="#f6f6fa"/>
<rect x="243.31" y="925.6" width="1.91" height="2.94" fill="#6a6a90"/>
<rect x="270" y="937.5" width="3.89" height="2.07" fill="#dcdcec"/>
<rect x="262.33" y="930.04" width="2.52" height="1.95" fill="#c8c6d8"/>
<rect x="245.36" y="928.33" width="3.72" height="1.37" fill="#6a6a90"/>
<rect x="234.74" y="931.05" width="3.9" height="1.28" fill="#6a6a90"/>
<rect x="231.74" y="934.16" width="3.07" height="2.23" fill="#8a86a8"/>
<rect x="240.69" y="920.49" width="2.41" height="1.56" fill="#3e4268"/>
<rect x="259.58" y="923.17" width="2.38" height="1.62" fill="#3e4268"/>
<rect x="249.7" y="920.87" width="1.55" height="3.41" fill="#6a6a90"/>
<rect x="262.9" y="931.73" width="3.97" height="3.21" fill="#8a86a8"/>
<rect x="259.37" y="915.67" width="2.88" height="3.23" fill="#e8e6f2"/>
<rect x="239.49" y="933.15" width="2.42" height="2.61" fill="#c8c6d8"/>
<rect x="272.59" y="925.96" width="1.97" height="1.2" fill="#f6f6fa"/>
<rect x="262.96" y="912.74" width="2.57" height="2.24" fill="#ffffff"/>
<rect x="251.06" y="912.15" width="2.35" height="3.05" fill="#6a6a90"/>
<rect x="271.82" y="941.26" width="2.48" height="2.16" fill="#c8c6d8"/>
<rect x="233.22" y="908.41" width="4.15" height="2.66" fill="#8a86a8"/>
<rect x="237.23" y="936.48" width="2.29" height="2.39" fill="#8a86a8"/>
<rect x="273.2" y="919.65" width="3.24" height="1.99" fill="#e8e6f2"/>
<rect x="240.99" y="915.12" width="2.06" height="1.92" fill="#3e4268"/>
<rect x="233.18" y="928.27" width="3.36" height="2.22" fill="#8a86a8"/>
<rect x="276.5" y="914.55" width="4.14" height="3.17" fill="#ffffff"/>
<rect x="245.68" y="909.89" width="3.04" height="2.5" fill="#3e4268"/>
<rect x="262.92" y="926.18" width="3.79" height="3.07" fill="#ffffff"/>
<rect x="267.28" y="911.5" width="3.79" height="1.4" fill="#ffffff"/>
<rect x="236.57" y="919.58" width="3.48" height="3.38" fill="#8a86a8"/>
<rect x="274.69" y="929.54" width="3.21" height="2.14" fill="#dcdcec"/>
<rect x="232.52" y="926.76" width="1.56" height="1.73" fill="#3e4268"/>
<rect x="276.94" y="927.75" width="2.82" height="3.35" fill="#2e3358"/>
<rect x="233.21" y="928.12" width="2.45" height="1.96" fill="#8a86a8"/>
<rect x="262.92" y="913.76" width="3.58" height="3.3" fill="#e8e6f2"/>
<rect x="238.69" y="908.86" width="3.85" height="1.37" fill="#3e4268"/>
<rect x="269.25" y="939.18" width="4.31" height="1.55" fill="#3e4268"/>
<rect x="239.8" y="913.52" width="3.39" height="3.06" fill="#c8c6d8"/>
<rect x="256.9" y="941.64" width="2.6" height="3.09" fill="#3e4268"/>
<rect x="256.37" y="911.02" width="2.95" height="1.96" fill="#ffffff"/>
<rect x="238.66" y="940.83" width="2.99" height="2.48" fill="#c8c6d8"/>
<rect x="262.18" y="925.32" width="3.28" height="1.94" fill="#f6f6fa"/>
<rect x="273.44" y="914.63" width="4.07" height="2.49" fill="#ffffff"/>
<rect x="265.22" y="926.5" width="2.14" height="2.77" fill="#f6f6fa"/>
<rect x="237.62" y="915.56" width="3.22" height="3.48" fill="#6a6a90"/>
<rect x="273.67" y="944.61" width="3.89" height="3.29" fill="#6a6a90"/>
<rect x="244.29" y="942.11" width="2.86" height="1.6" fill="#6a6a90"/>
<rect x="250.25" y="921.47" width="3.43" height="3.1" fill="#c8c6d8"/>
<rect x="259.7" y="922.86" width="1.96" height="3.26" fill="#c8c6d8"/>
<rect x="271.22" y="925.36" width="1.91" height="3.23" fill="#ffffff"/>
<rect x="268.02" y="947.81" width="3.45" height="2.12" fill="#c8c6d8"/>
<rect x="246.11" y="915.99" width="1.92" height="3.42" fill="#6a6a90"/>
<rect x="255.87" y="920.51" width="1.7" height="3.11" fill="#3e4268"/>
<rect x="255.93" y="916.8" width="3.41" height="2.98" fill="#f6f6fa"/>
<rect x="242.67" y="945.62" width="3.33" height="2.38" fill="#8a86a8"/>
<rect x="275.55" y="923.3" width="2.63" height="2" fill="#5a5f8a"/>
<polygon points="231.3,908.1 258.72,910.25 265.58,920.97 264.2,933.84 258.72,946.71 254.15,951 231.3,951" fill="#56c846"/>
<clipPath id="cj8b"><polygon points="231.3,908.1 258.72,910.25 265.58,920.97 264.2,933.84 258.72,946.71 254.15,951 231.3,951"/></clipPath>
<g clip-path="url(#cj8b)">
<circle cx="255.34" cy="948.9" r="1.19" fill="#74dc5c"/>
<circle cx="241.23" cy="933.92" r="2.96" fill="#3a9a38"/>
<circle cx="268" cy="937.22" r="2.92" fill="#48b83c"/>
<circle cx="237.53" cy="941.41" r="2.5" fill="#74dc5c"/>
<circle cx="251.14" cy="912.63" r="2.93" fill="#48b83c"/>
<circle cx="275.97" cy="946.22" r="2.29" fill="#74dc5c"/>
<circle cx="271.89" cy="937.08" r="2.41" fill="#48b83c"/>
<circle cx="242.11" cy="930.96" r="2.89" fill="#74dc5c"/>
<circle cx="238.65" cy="946.7" r="1.53" fill="#48b83c"/>
<circle cx="252.85" cy="924.38" r="2.41" fill="#48b83c"/>
<circle cx="242.76" cy="927.09" r="1.3" fill="#48b83c"/>
<circle cx="239.38" cy="925.25" r="2.64" fill="#74dc5c"/>
<circle cx="238.4" cy="914.57" r="1.61" fill="#48b83c"/>
<circle cx="234.74" cy="942.51" r="1.99" fill="#74dc5c"/>
<circle cx="254.61" cy="939.66" r="1.76" fill="#74dc5c"/>
<circle cx="260.11" cy="917.25" r="2.43" fill="#74dc5c"/>
<circle cx="247.98" cy="947.69" r="2.22" fill="#48b83c"/>
<circle cx="231.5" cy="942.28" r="1.29" fill="#74dc5c"/>
<circle cx="259.48" cy="930.61" r="2.4" fill="#48b83c"/>
<circle cx="244.65" cy="920.56" r="2.07" fill="#3a9a38"/>
<circle cx="241.93" cy="937.27" r="1.37" fill="#74dc5c"/>
<circle cx="267.06" cy="946.23" r="1.52" fill="#3a9a38"/>
<circle cx="234.93" cy="916.08" r="1.95" fill="#3a9a38"/>
<circle cx="239.31" cy="949.73" r="1.2" fill="#3a9a38"/>
<circle cx="234.37" cy="930.8" r="1.32" fill="#74dc5c"/>
<circle cx="266.02" cy="916.26" r="1.55" fill="#74dc5c"/>
<circle cx="244.13" cy="947.26" r="1.66" fill="#74dc5c"/>
<circle cx="244.1" cy="936.13" r="2.94" fill="#3a9a38"/>
<circle cx="233.42" cy="932.13" r="1.38" fill="#74dc5c"/>
<circle cx="241.86" cy="921.98" r="2.96" fill="#3a9a38"/>
<circle cx="275.16" cy="917.28" r="2.39" fill="#74dc5c"/>
<circle cx="265.79" cy="914.7" r="2.64" fill="#3a9a38"/>
<circle cx="254.21" cy="936.08" r="2.38" fill="#3a9a38"/>
<circle cx="241.06" cy="918.32" r="1.72" fill="#74dc5c"/>
<circle cx="246.97" cy="911.95" r="1.04" fill="#48b83c"/>
<circle cx="263.8" cy="934.29" r="2.67" fill="#74dc5c"/>
<circle cx="262.76" cy="945.14" r="1.05" fill="#48b83c"/>
<circle cx="276.33" cy="927.96" r="1.74" fill="#48b83c"/>
<circle cx="245.53" cy="946.5" r="2.08" fill="#3a9a38"/>
<circle cx="262.72" cy="938.96" r="1.22" fill="#48b83c"/>
<circle cx="241.46" cy="933.33" r="2.55" fill="#74dc5c"/>
<circle cx="240.07" cy="929.74" r="2.54" fill="#74dc5c"/>
<circle cx="250.72" cy="912.81" r="1.49" fill="#48b83c"/>
<circle cx="262.72" cy="932.67" r="1.46" fill="#3a9a38"/>
<circle cx="271.82" cy="931.36" r="1.52" fill="#3a9a38"/>
<circle cx="258.7" cy="944.29" r="1.45" fill="#48b83c"/>
<circle cx="259.29" cy="936.77" r="1.66" fill="#48b83c"/>
<circle cx="250.28" cy="922.83" r="1.55" fill="#48b83c"/>
<circle cx="236.43" cy="910.87" r="2.62" fill="#48b83c"/>
<circle cx="234.27" cy="915.43" r="2.01" fill="#48b83c"/>
<circle cx="232.24" cy="936.23" r="1.48" fill="#48b83c"/>
<circle cx="240.29" cy="941.61" r="1.79" fill="#48b83c"/>
<circle cx="261.33" cy="947.14" r="1.72" fill="#3a9a38"/>
<circle cx="274.27" cy="931.63" r="1.16" fill="#48b83c"/>
<circle cx="271.94" cy="931.91" r="1.21" fill="#74dc5c"/>
<circle cx="267.18" cy="947.58" r="2.02" fill="#74dc5c"/>
<circle cx="266.66" cy="948.31" r="1.12" fill="#74dc5c"/>
<circle cx="264.87" cy="918.27" r="1.78" fill="#74dc5c"/>
<circle cx="273.52" cy="912.74" r="1.5" fill="#3a9a38"/>
<circle cx="232.12" cy="925.06" r="2.47" fill="#3a9a38"/>
</g>
<path d="M262 914 Q266 920 266 928 Q265 934 262 936 Q259 930 258.5 922 Z" fill="#c41c24"/>
</g></g>
<rect x="262" y="945.8" width="10" height="2.2" fill="#000"/>
<text x="356.4" y="604.6" font-size="15.5" text-anchor="start" font-weight="bold" fill="#000">k</text>
<line x1="394" y1="651.8" x2="394" y2="807.1" stroke="#111" stroke-width="1.5"/>
<line x1="393.3" y1="806.4" x2="626.4" y2="806.4" stroke="#111" stroke-width="1.5"/>
<line x1="388" y1="806.4" x2="394" y2="806.4" stroke="#111" stroke-width="1.5"/>
<text x="384.8" y="810.4" font-size="11.4" text-anchor="end" font-weight="normal" fill="#231f20">0</text>
<line x1="388" y1="755.1" x2="394" y2="755.1" stroke="#111" stroke-width="1.5"/>
<text x="384.8" y="759.1" font-size="11.4" text-anchor="end" font-weight="normal" fill="#231f20">200</text>
<line x1="388" y1="703.8" x2="394" y2="703.8" stroke="#111" stroke-width="1.5"/>
<text x="384.8" y="707.8" font-size="11.4" text-anchor="end" font-weight="normal" fill="#231f20">400</text>
<line x1="388" y1="652.5" x2="394" y2="652.5" stroke="#111" stroke-width="1.5"/>
<text x="384.8" y="656.5" font-size="11.4" text-anchor="end" font-weight="normal" fill="#231f20">600</text>
<text x="358.7" y="729.4" font-size="12.2" text-anchor="middle" font-weight="normal" fill="#231f20" transform="rotate(-90 358.7 729.4)">Percent GBM Cell Viability</text>
<rect x="396.82" y="780.75" width="5" height="25.65" fill="#0a0a0a"/>
<circle cx="399.32" cy="780.75" r="3.2" fill="#0a0a0a"/>
<rect x="403.89" y="757.41" width="5" height="48.99" fill="#ec2c7c"/>
<rect x="403.29" y="754.31" width="6.2" height="6.2" fill="#ec2c7c"/>
<rect x="410.96" y="742.53" width="5" height="63.87" fill="#17928f"/>
<polygon points="413.46,738.97 410.05,745.17 416.88,745.17" fill="#17928f"/>
<rect x="418.04" y="708.42" width="5" height="97.98" fill="#5b2b8c"/>
<polygon points="420.54,711.98 417.12,705.78 423.95,705.78" fill="#5b2b8c"/>
<rect x="425.11" y="692.51" width="5" height="113.89" fill="#a386c4"/>
<polygon points="427.61,688.91 424.75,692.51 427.61,696.11 430.46,692.51" fill="#a386c4"/>
<rect x="432.18" y="667.63" width="5" height="138.77" fill="#80d2f2"/>
<circle cx="434.68" cy="667.63" r="3.6" fill="#80d2f2"/>
<line x1="417" y1="806.4" x2="417" y2="812.9" stroke="#111" stroke-width="1.5"/>
<rect x="443.56" y="780.75" width="5" height="25.65" fill="#0a0a0a"/>
<circle cx="446.06" cy="780.75" r="3.2" fill="#0a0a0a"/>
<rect x="450.62" y="787.68" width="5" height="18.72" fill="#ec2c7c"/>
<rect x="450.02" y="784.58" width="6.2" height="6.2" fill="#ec2c7c"/>
<rect x="457.69" y="782.55" width="5" height="23.85" fill="#17928f"/>
<polygon points="460.19,778.98 456.78,785.18 463.61,785.18" fill="#17928f"/>
<rect x="464.77" y="753.82" width="5" height="52.58" fill="#5b2b8c"/>
<polygon points="467.27,757.38 463.86,751.18 470.68,751.18" fill="#5b2b8c"/>
<rect x="471.84" y="728.68" width="5" height="77.72" fill="#a386c4"/>
<polygon points="474.34,725.08 471.49,728.68 474.34,732.28 477.19,728.68" fill="#a386c4"/>
<rect x="478.91" y="677.38" width="5" height="129.02" fill="#80d2f2"/>
<circle cx="481.41" cy="677.38" r="3.6" fill="#80d2f2"/>
<line x1="463.73" y1="806.4" x2="463.73" y2="812.9" stroke="#111" stroke-width="1.5"/>
<rect x="490.28" y="780.75" width="5" height="25.65" fill="#0a0a0a"/>
<circle cx="492.78" cy="780.75" r="3.2" fill="#0a0a0a"/>
<rect x="497.35" y="787.42" width="5" height="18.98" fill="#ec2c7c"/>
<rect x="496.75" y="784.32" width="6.2" height="6.2" fill="#ec2c7c"/>
<rect x="504.42" y="785.88" width="5" height="20.52" fill="#17928f"/>
<polygon points="506.92,782.31 503.51,788.51 510.33,788.51" fill="#17928f"/>
<rect x="511.5" y="759.97" width="5" height="46.43" fill="#5b2b8c"/>
<polygon points="514,763.54 510.58,757.34 517.4,757.34" fill="#5b2b8c"/>
<rect x="518.56" y="744.07" width="5" height="62.33" fill="#a386c4"/>
<polygon points="521.06,740.47 518.21,744.07 521.06,747.67 523.91,744.07" fill="#a386c4"/>
<rect x="525.63" y="700.21" width="5" height="106.19" fill="#80d2f2"/>
<circle cx="528.13" cy="700.21" r="3.6" fill="#80d2f2"/>
<line x1="510.46" y1="806.4" x2="510.46" y2="812.9" stroke="#111" stroke-width="1.5"/>
<rect x="537.02" y="780.75" width="5" height="25.65" fill="#0a0a0a"/>
<circle cx="539.52" cy="780.75" r="3.2" fill="#0a0a0a"/>
<rect x="544.09" y="786.91" width="5" height="19.49" fill="#ec2c7c"/>
<rect x="543.49" y="783.81" width="6.2" height="6.2" fill="#ec2c7c"/>
<rect x="551.16" y="795.11" width="5" height="11.29" fill="#17928f"/>
<polygon points="553.66,791.55 550.25,797.75 557.07,797.75" fill="#17928f"/>
<rect x="558.23" y="798.19" width="5" height="8.21" fill="#5b2b8c"/>
<polygon points="560.73,801.76 557.32,795.56 564.13,795.56" fill="#5b2b8c"/>
<rect x="565.3" y="801.53" width="5" height="4.87" fill="#a386c4"/>
<polygon points="567.8,797.93 564.95,801.53 567.8,805.13 570.65,801.53" fill="#a386c4"/>
<rect x="572.37" y="801.53" width="5" height="4.87" fill="#80d2f2"/>
<circle cx="574.87" cy="801.53" r="3.6" fill="#80d2f2"/>
<line x1="557.19" y1="806.4" x2="557.19" y2="812.9" stroke="#111" stroke-width="1.5"/>
<rect x="583.75" y="780.75" width="5" height="25.65" fill="#0a0a0a"/>
<circle cx="586.25" cy="780.75" r="3.2" fill="#0a0a0a"/>
<rect x="590.81" y="787.93" width="5" height="18.47" fill="#ec2c7c"/>
<rect x="590.21" y="784.83" width="6.2" height="6.2" fill="#ec2c7c"/>
<rect x="597.88" y="793.06" width="5" height="13.34" fill="#17928f"/>
<polygon points="600.38,789.5 596.98,795.7 603.79,795.7" fill="#17928f"/>
<rect x="604.95" y="798.96" width="5" height="7.44" fill="#5b2b8c"/>
<polygon points="607.45,802.53 604.04,796.33 610.86,796.33" fill="#5b2b8c"/>
<rect x="612.02" y="804.35" width="5" height="2.05" fill="#a386c4"/>
<polygon points="614.52,800.75 611.67,804.35 614.52,807.95 617.38,804.35" fill="#a386c4"/>
<rect x="619.09" y="804.35" width="5" height="2.05" fill="#80d2f2"/>
<circle cx="621.59" cy="804.35" r="3.6" fill="#80d2f2"/>
<line x1="603.92" y1="806.4" x2="603.92" y2="812.9" stroke="#111" stroke-width="1.5"/>
<text x="420" y="821.7" font-size="12" text-anchor="end" font-weight="normal" fill="#231f20" transform="rotate(-45 420 821.7)">Tumor Alone</text>
<text x="466.73" y="821.7" font-size="12" text-anchor="end" font-weight="normal" fill="#231f20" transform="rotate(-45 466.73 821.7)">Resection Alone</text>
<text x="513.46" y="821.7" font-size="12" text-anchor="end" font-weight="normal" fill="#231f20" transform="rotate(-45 513.46 821.7)">EnMSC-GFP</text>
<text x="560.19" y="821.7" font-size="12" text-anchor="end" font-weight="normal" fill="#231f20" transform="rotate(-45 560.19 821.7)">EnMSC<tspan dy="-4.5" font-size="7.5">Bif</tspan></text>
<text x="606.92" y="821.7" font-size="12" text-anchor="end" font-weight="normal" fill="#231f20" transform="rotate(-45 606.92 821.7)">EnMSC<tspan dy="-4.5" font-size="7.5">Bif</tspan><tspan dy="4.5">+ GCV</tspan></text>
<line x1="434" y1="631.2" x2="577.8" y2="631.2" stroke="#111" stroke-width="2"/>
<text x="505.9" y="631.8" font-size="15.8" text-anchor="middle" font-weight="bold" fill="#111">***</text>
<line x1="434" y1="660.2" x2="628.3" y2="660.2" stroke="#111" stroke-width="2"/>
<text x="531" y="660.8" font-size="15.8" text-anchor="middle" font-weight="bold" fill="#111">***</text>
<line x1="527" y1="691.8" x2="628.3" y2="691.8" stroke="#111" stroke-width="2"/>
<text x="578" y="692.4" font-size="15.8" text-anchor="middle" font-weight="bold" fill="#111">***</text>
<circle cx="639.9" cy="689.1" r="3.2" fill="#0a0a0a"/>
<text x="658" y="693.3" font-size="12" text-anchor="start" font-weight="normal" fill="#231f20">0h</text>
<rect x="636.7" y="707.5" width="6.4" height="6.4" fill="#ec2c7c"/>
<text x="658" y="714.9" font-size="12" text-anchor="start" font-weight="normal" fill="#231f20">48h</text>
<polygon points="639.9,729.22 636.38,735.62 643.42,735.62" fill="#17928f"/>
<text x="658" y="737.1" font-size="12" text-anchor="start" font-weight="normal" fill="#231f20">72h</text>
<polygon points="639.9,757.58 636.38,751.18 643.42,751.18" fill="#5b2b8c"/>
<text x="658" y="758.1" font-size="12" text-anchor="start" font-weight="normal" fill="#231f20">96h</text>
<polygon points="639.9,772.06 636.86,775.9 639.9,779.74 642.94,775.9" fill="#a386c4"/>
<text x="658" y="780.1" font-size="12" text-anchor="start" font-weight="normal" fill="#231f20">120h</text>
<circle cx="639.9" cy="797.3" r="4.2" fill="#80d2f2"/>
<text x="658" y="801.5" font-size="12" text-anchor="start" font-weight="normal" fill="#231f20">144h</text>
</svg></body></html>
